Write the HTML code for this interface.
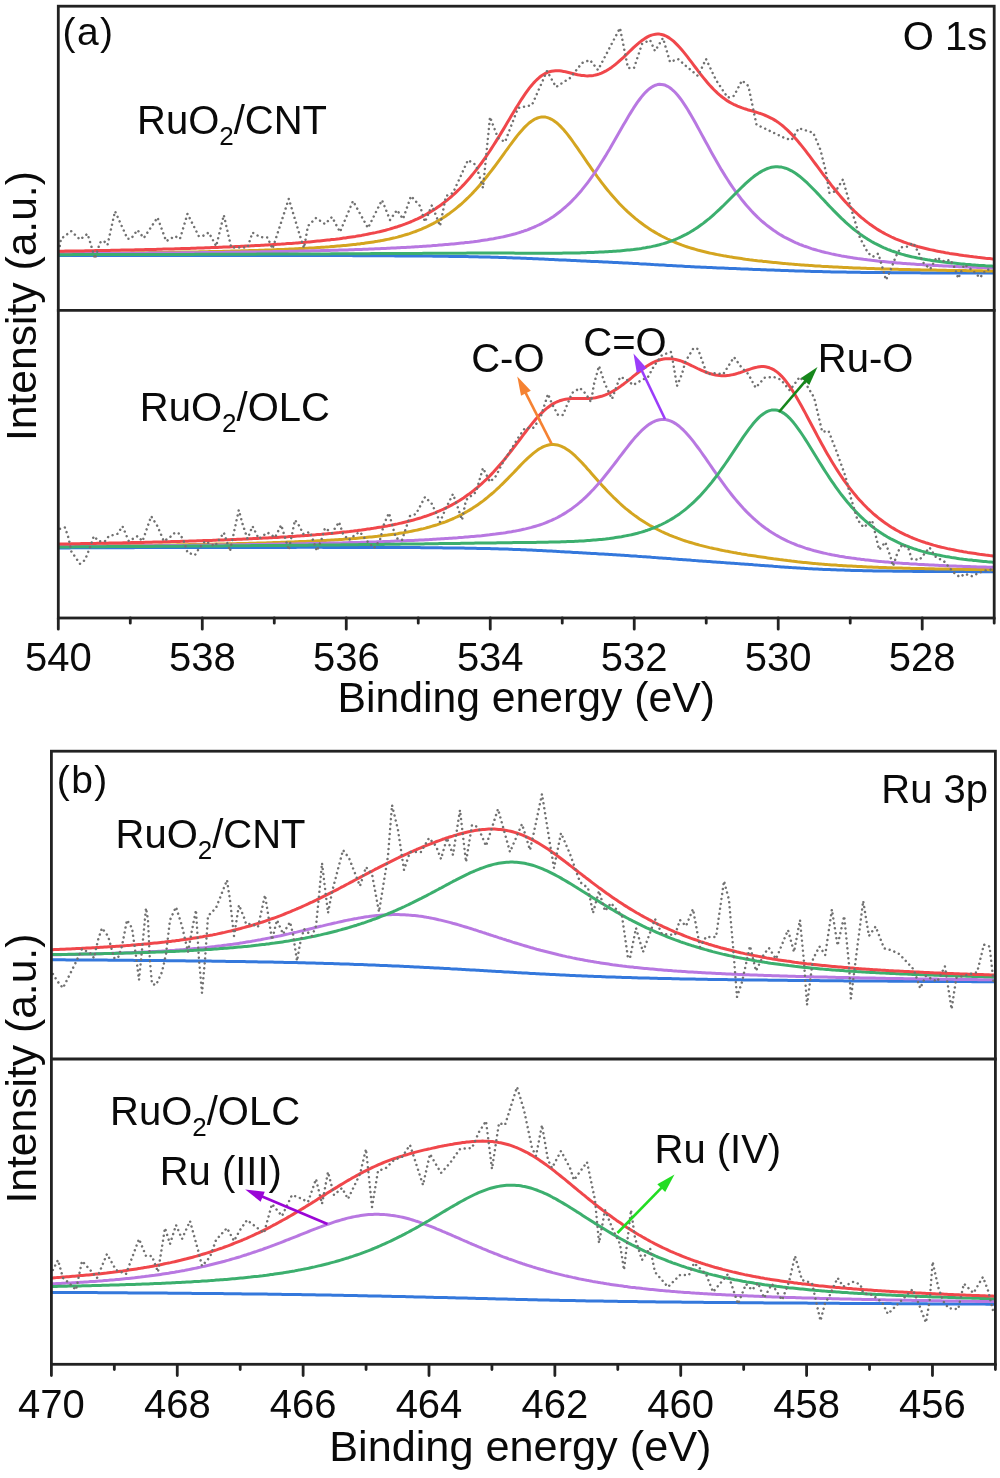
<!DOCTYPE html>
<html><head><meta charset="utf-8"><title>XPS O 1s and Ru 3p spectra</title>
<style>
html,body{margin:0;padding:0;background:#fff;}
body{width:1000px;height:1478px;overflow:hidden;}
svg{display:block;}
#fig{width:1000px;height:1478px;}
.ax{fill:none;stroke:#222;stroke-width:2.8;stroke-linecap:square;}
.tk{fill:none;stroke:#222;stroke-width:2.8;stroke-linecap:round;}
.cv path{fill:none;stroke-width:3.0;stroke-linejoin:round;stroke-linecap:round;}
.dots{fill:none;stroke:#717171;stroke-width:2.5;stroke-linecap:round;stroke-linejoin:round;stroke-dasharray:0.01 5;}
text{font-family:"Liberation Sans",Arial,Helvetica,sans-serif;fill:#0a0a0a;}
.t{font-size:40px;}
.pl{font-size:39px;letter-spacing:1.5px;}
.tl{font-size:40px;text-anchor:middle;}
.ti{}
.tiy{font-size:42.6px;}
</style></head><body><div id="fig">
<svg width="1000" height="1478" viewBox="0 0 1000 1478">
<defs><clipPath id="ca"><rect x="58.3" y="6.2" width="935.9" height="611.8"/></clipPath>
<clipPath id="cb"><rect x="51.4" y="751.2" width="944.0" height="613.1"/></clipPath></defs>
<rect x="0" y="0" width="1000" height="1478" fill="#fff"/>
<g clip-path="url(#ca)">
<g class="cv"><path d="M59.5 255.4 L61.5 255.4 L63.5 255.4 L65.5 255.4 L67.5 255.4 L69.5 255.4 L71.5 255.4 L73.5 255.4 L75.5 255.4 L77.5 255.4 L79.5 255.4 L81.5 255.4 L83.5 255.4 L85.5 255.4 L87.5 255.4 L89.5 255.4 L91.5 255.4 L93.5 255.4 L95.5 255.4 L97.5 255.4 L99.5 255.4 L101.5 255.4 L103.5 255.4 L105.5 255.4 L107.5 255.4 L109.5 255.4 L111.5 255.4 L113.5 255.4 L115.5 255.4 L117.5 255.4 L119.5 255.4 L121.5 255.4 L123.5 255.4 L125.5 255.4 L127.5 255.4 L129.5 255.4 L131.5 255.4 L133.5 255.4 L135.5 255.4 L137.5 255.4 L139.5 255.4 L141.5 255.4 L143.5 255.4 L145.5 255.4 L147.5 255.4 L149.5 255.4 L151.5 255.4 L153.5 255.4 L155.5 255.4 L157.5 255.4 L159.5 255.4 L161.5 255.4 L163.5 255.4 L165.5 255.4 L167.5 255.4 L169.5 255.4 L171.5 255.4 L173.5 255.4 L175.5 255.4 L177.5 255.4 L179.5 255.4 L181.5 255.4 L183.5 255.4 L185.5 255.4 L187.5 255.4 L189.5 255.4 L191.5 255.4 L193.5 255.4 L195.5 255.4 L197.5 255.4 L199.5 255.4 L201.5 255.4 L203.5 255.4 L205.5 255.4 L207.5 255.4 L209.5 255.4 L211.5 255.4 L213.5 255.4 L215.5 255.4 L217.5 255.4 L219.5 255.4 L221.5 255.4 L223.5 255.4 L225.5 255.4 L227.5 255.4 L229.5 255.4 L231.5 255.4 L233.5 255.4 L235.5 255.4 L237.5 255.4 L239.5 255.4 L241.5 255.4 L243.5 255.4 L245.5 255.4 L247.5 255.4 L249.5 255.4 L251.5 255.4 L253.5 255.4 L255.5 255.4 L257.5 255.4 L259.5 255.4 L261.5 255.4 L263.5 255.4 L265.5 255.4 L267.5 255.4 L269.5 255.5 L271.5 255.5 L273.5 255.5 L275.5 255.5 L277.5 255.5 L279.5 255.5 L281.5 255.5 L283.5 255.5 L285.5 255.5 L287.5 255.5 L289.5 255.5 L291.5 255.5 L293.5 255.5 L295.5 255.5 L297.5 255.5 L299.5 255.5 L301.5 255.5 L303.5 255.5 L305.5 255.5 L307.5 255.5 L309.5 255.5 L311.5 255.5 L313.5 255.5 L315.5 255.5 L317.5 255.5 L319.5 255.5 L321.5 255.6 L323.5 255.6 L325.5 255.6 L327.5 255.6 L329.5 255.6 L331.5 255.6 L333.5 255.6 L335.5 255.6 L337.5 255.6 L339.5 255.6 L341.5 255.6 L343.5 255.6 L345.5 255.6 L347.5 255.6 L349.5 255.6 L351.5 255.6 L353.5 255.7 L355.5 255.7 L357.5 255.7 L359.5 255.7 L361.5 255.7 L363.5 255.7 L365.5 255.7 L367.5 255.7 L369.5 255.7 L371.5 255.7 L373.5 255.7 L375.5 255.7 L377.5 255.8 L379.5 255.8 L381.5 255.8 L383.5 255.8 L385.5 255.8 L387.5 255.8 L389.5 255.8 L391.5 255.8 L393.5 255.8 L395.5 255.9 L397.5 255.9 L399.5 255.9 L401.5 255.9 L403.5 255.9 L405.5 255.9 L407.5 255.9 L409.5 255.9 L411.5 256.0 L413.5 256.0 L415.5 256.0 L417.5 256.0 L419.5 256.0 L421.5 256.0 L423.5 256.1 L425.5 256.1 L427.5 256.1 L429.5 256.1 L431.5 256.1 L433.5 256.2 L435.5 256.2 L437.5 256.2 L439.5 256.2 L441.5 256.2 L443.5 256.3 L445.5 256.3 L447.5 256.3 L449.5 256.4 L451.5 256.4 L453.5 256.4 L455.5 256.4 L457.5 256.5 L459.5 256.5 L461.5 256.5 L463.5 256.6 L465.5 256.6 L467.5 256.6 L469.5 256.7 L471.5 256.7 L473.5 256.8 L475.5 256.8 L477.5 256.8 L479.5 256.9 L481.5 256.9 L483.5 257.0 L485.5 257.0 L487.5 257.1 L489.5 257.1 L491.5 257.2 L493.5 257.2 L495.5 257.3 L497.5 257.3 L499.5 257.4 L501.5 257.5 L503.5 257.5 L505.5 257.6 L507.5 257.7 L509.5 257.7 L511.5 257.8 L513.5 257.9 L515.5 257.9 L517.5 258.0 L519.5 258.1 L521.5 258.2 L523.5 258.2 L525.5 258.3 L527.5 258.4 L529.5 258.5 L531.5 258.6 L533.5 258.7 L535.5 258.8 L537.5 258.8 L539.5 258.9 L541.5 259.0 L543.5 259.1 L545.5 259.2 L547.5 259.3 L549.5 259.4 L551.5 259.5 L553.5 259.6 L555.5 259.7 L557.5 259.8 L559.5 259.9 L561.5 260.0 L563.5 260.1 L565.5 260.1 L567.5 260.2 L569.5 260.3 L571.5 260.4 L573.5 260.5 L575.5 260.6 L577.5 260.7 L579.5 260.8 L581.5 260.9 L583.5 261.0 L585.5 261.1 L587.5 261.2 L589.5 261.3 L591.5 261.4 L593.5 261.4 L595.5 261.5 L597.5 261.6 L599.5 261.7 L601.5 261.8 L603.5 261.9 L605.5 262.0 L607.5 262.1 L609.5 262.2 L611.5 262.3 L613.5 262.4 L615.5 262.5 L617.5 262.6 L619.5 262.7 L621.5 262.8 L623.5 262.9 L625.5 263.0 L627.5 263.1 L629.5 263.2 L631.5 263.3 L633.5 263.4 L635.5 263.5 L637.5 263.6 L639.5 263.8 L641.5 263.9 L643.5 264.0 L645.5 264.1 L647.5 264.2 L649.5 264.3 L651.5 264.4 L653.5 264.6 L655.5 264.7 L657.5 264.8 L659.5 264.9 L661.5 265.0 L663.5 265.1 L665.5 265.2 L667.5 265.4 L669.5 265.5 L671.5 265.6 L673.5 265.7 L675.5 265.8 L677.5 265.9 L679.5 266.0 L681.5 266.1 L683.5 266.2 L685.5 266.4 L687.5 266.5 L689.5 266.6 L691.5 266.7 L693.5 266.8 L695.5 266.9 L697.5 267.0 L699.5 267.1 L701.5 267.2 L703.5 267.3 L705.5 267.3 L707.5 267.4 L709.5 267.5 L711.5 267.6 L713.5 267.7 L715.5 267.8 L717.5 267.9 L719.5 268.0 L721.5 268.1 L723.5 268.1 L725.5 268.2 L727.5 268.3 L729.5 268.4 L731.5 268.5 L733.5 268.6 L735.5 268.6 L737.5 268.7 L739.5 268.8 L741.5 268.9 L743.5 269.0 L745.5 269.0 L747.5 269.1 L749.5 269.2 L751.5 269.3 L753.5 269.4 L755.5 269.4 L757.5 269.5 L759.5 269.6 L761.5 269.7 L763.5 269.7 L765.5 269.8 L767.5 269.9 L769.5 270.0 L771.5 270.0 L773.5 270.1 L775.5 270.2 L777.5 270.3 L779.5 270.3 L781.5 270.4 L783.5 270.5 L785.5 270.6 L787.5 270.6 L789.5 270.7 L791.5 270.8 L793.5 270.8 L795.5 270.9 L797.5 271.0 L799.5 271.0 L801.5 271.1 L803.5 271.1 L805.5 271.2 L807.5 271.3 L809.5 271.3 L811.5 271.4 L813.5 271.4 L815.5 271.5 L817.5 271.5 L819.5 271.6 L821.5 271.6 L823.5 271.7 L825.5 271.7 L827.5 271.8 L829.5 271.8 L831.5 271.9 L833.5 271.9 L835.5 271.9 L837.5 272.0 L839.5 272.0 L841.5 272.1 L843.5 272.1 L845.5 272.1 L847.5 272.2 L849.5 272.2 L851.5 272.2 L853.5 272.2 L855.5 272.3 L857.5 272.3 L859.5 272.3 L861.5 272.4 L863.5 272.4 L865.5 272.4 L867.5 272.4 L869.5 272.5 L871.5 272.5 L873.5 272.5 L875.5 272.5 L877.5 272.5 L879.5 272.6 L881.5 272.6 L883.5 272.6 L885.5 272.6 L887.5 272.6 L889.5 272.6 L891.5 272.7 L893.5 272.7 L895.5 272.7 L897.5 272.7 L899.5 272.7 L901.5 272.7 L903.5 272.7 L905.5 272.8 L907.5 272.8 L909.5 272.8 L911.5 272.8 L913.5 272.8 L915.5 272.8 L917.5 272.8 L919.5 272.8 L921.5 272.9 L923.5 272.9 L925.5 272.9 L927.5 272.9 L929.5 272.9 L931.5 272.9 L933.5 272.9 L935.5 272.9 L937.5 272.9 L939.5 272.9 L941.5 272.9 L943.5 273.0 L945.5 273.0 L947.5 273.0 L949.5 273.0 L951.5 273.0 L953.5 273.0 L955.5 273.0 L957.5 273.0 L959.5 273.0 L961.5 273.0 L963.5 273.0 L965.5 273.0 L967.5 273.0 L969.5 273.0 L971.5 273.1 L973.5 273.1 L975.5 273.1 L977.5 273.1 L979.5 273.1 L981.5 273.1 L983.5 273.1 L985.5 273.1 L987.5 273.1 L989.5 273.1 L991.5 273.1 L993.0 273.1" stroke="#3478dc"/>
<path d="M59.5 253.5 L61.5 253.5 L63.5 253.5 L65.5 253.5 L67.5 253.5 L69.5 253.5 L71.5 253.4 L73.5 253.4 L75.5 253.4 L77.5 253.4 L79.5 253.4 L81.5 253.4 L83.5 253.3 L85.5 253.3 L87.5 253.3 L89.5 253.3 L91.5 253.3 L93.5 253.2 L95.5 253.2 L97.5 253.2 L99.5 253.2 L101.5 253.2 L103.5 253.2 L105.5 253.1 L107.5 253.1 L109.5 253.1 L111.5 253.1 L113.5 253.0 L115.5 253.0 L117.5 253.0 L119.5 253.0 L121.5 253.0 L123.5 252.9 L125.5 252.9 L127.5 252.9 L129.5 252.9 L131.5 252.8 L133.5 252.8 L135.5 252.8 L137.5 252.8 L139.5 252.8 L141.5 252.7 L143.5 252.7 L145.5 252.7 L147.5 252.7 L149.5 252.6 L151.5 252.6 L153.5 252.6 L155.5 252.5 L157.5 252.5 L159.5 252.5 L161.5 252.5 L163.5 252.4 L165.5 252.4 L167.5 252.4 L169.5 252.3 L171.5 252.3 L173.5 252.3 L175.5 252.2 L177.5 252.2 L179.5 252.2 L181.5 252.1 L183.5 252.1 L185.5 252.1 L187.5 252.0 L189.5 252.0 L191.5 252.0 L193.5 251.9 L195.5 251.9 L197.5 251.9 L199.5 251.8 L201.5 251.8 L203.5 251.7 L205.5 251.7 L207.5 251.7 L209.5 251.6 L211.5 251.6 L213.5 251.5 L215.5 251.5 L217.5 251.4 L219.5 251.4 L221.5 251.4 L223.5 251.3 L225.5 251.3 L227.5 251.2 L229.5 251.2 L231.5 251.1 L233.5 251.1 L235.5 251.0 L237.5 251.0 L239.5 250.9 L241.5 250.8 L243.5 250.8 L245.5 250.7 L247.5 250.7 L249.5 250.6 L251.5 250.5 L253.5 250.5 L255.5 250.4 L257.5 250.4 L259.5 250.3 L261.5 250.2 L263.5 250.2 L265.5 250.1 L267.5 250.0 L269.5 249.9 L271.5 249.9 L273.5 249.8 L275.5 249.7 L277.5 249.6 L279.5 249.6 L281.5 249.5 L283.5 249.4 L285.5 249.3 L287.5 249.2 L289.5 249.1 L291.5 249.0 L293.5 248.9 L295.5 248.8 L297.5 248.7 L299.5 248.6 L301.5 248.5 L303.5 248.4 L305.5 248.3 L307.5 248.2 L309.5 248.1 L311.5 248.0 L313.5 247.9 L315.5 247.7 L317.5 247.6 L319.5 247.5 L321.5 247.3 L323.5 247.2 L325.5 247.1 L327.5 246.9 L329.5 246.8 L331.5 246.6 L333.5 246.5 L335.5 246.3 L337.5 246.1 L339.5 246.0 L341.5 245.8 L343.5 245.6 L345.5 245.4 L347.5 245.2 L349.5 245.0 L351.5 244.8 L353.5 244.6 L355.5 244.4 L357.5 244.1 L359.5 243.9 L361.5 243.6 L363.5 243.4 L365.5 243.1 L367.5 242.8 L369.5 242.5 L371.5 242.2 L373.5 241.9 L375.5 241.6 L377.5 241.3 L379.5 240.9 L381.5 240.6 L383.5 240.2 L385.5 239.8 L387.5 239.4 L389.5 239.0 L391.5 238.5 L393.5 238.0 L395.5 237.6 L397.5 237.1 L399.5 236.5 L401.5 236.0 L403.5 235.4 L405.5 234.8 L407.5 234.2 L409.5 233.6 L411.5 232.9 L413.5 232.2 L415.5 231.5 L417.5 230.7 L419.5 229.9 L421.5 229.1 L423.5 228.2 L425.5 227.3 L427.5 226.4 L429.5 225.4 L431.5 224.4 L433.5 223.4 L435.5 222.3 L437.5 221.1 L439.5 220.0 L441.5 218.7 L443.5 217.5 L445.5 216.2 L447.5 214.8 L449.5 213.4 L451.5 211.9 L453.5 210.4 L455.5 208.8 L457.5 207.2 L459.5 205.5 L461.5 203.8 L463.5 202.0 L465.5 200.1 L467.5 198.2 L469.5 196.2 L471.5 194.2 L473.5 192.1 L475.5 189.9 L477.5 187.7 L479.5 185.4 L481.5 183.1 L483.5 180.7 L485.5 178.3 L487.5 175.8 L489.5 173.2 L491.5 170.6 L493.5 168.0 L495.5 165.3 L497.5 162.6 L499.5 159.9 L501.5 157.1 L503.5 154.3 L505.5 151.5 L507.5 148.8 L509.5 146.0 L511.5 143.3 L513.5 140.6 L515.5 138.0 L517.5 135.4 L519.5 133.0 L521.5 130.7 L523.5 128.4 L525.5 126.4 L527.5 124.5 L529.5 122.7 L531.5 121.2 L533.5 119.9 L535.5 118.8 L537.5 118.0 L539.5 117.4 L541.5 117.0 L543.5 117.0 L545.5 117.1 L547.5 117.6 L549.5 118.3 L551.5 119.3 L553.5 120.5 L555.5 121.9 L557.5 123.5 L559.5 125.4 L561.5 127.4 L563.5 129.6 L565.5 131.9 L567.5 134.4 L569.5 137.0 L571.5 139.7 L573.5 142.5 L575.5 145.3 L577.5 148.2 L579.5 151.1 L581.5 154.0 L583.5 156.9 L585.5 159.9 L587.5 162.8 L589.5 165.7 L591.5 168.6 L593.5 171.4 L595.5 174.2 L597.5 177.0 L599.5 179.7 L601.5 182.3 L603.5 184.9 L605.5 187.5 L607.5 190.0 L609.5 192.4 L611.5 194.8 L613.5 197.1 L615.5 199.3 L617.5 201.5 L619.5 203.7 L621.5 205.7 L623.5 207.7 L625.5 209.7 L627.5 211.6 L629.5 213.4 L631.5 215.2 L633.5 216.9 L635.5 218.6 L637.5 220.2 L639.5 221.8 L641.5 223.3 L643.5 224.8 L645.5 226.2 L647.5 227.6 L649.5 228.9 L651.5 230.2 L653.5 231.4 L655.5 232.6 L657.5 233.8 L659.5 234.9 L661.5 236.0 L663.5 237.0 L665.5 238.0 L667.5 239.0 L669.5 239.9 L671.5 240.8 L673.5 241.7 L675.5 242.5 L677.5 243.3 L679.5 244.1 L681.5 244.9 L683.5 245.6 L685.5 246.3 L687.5 247.0 L689.5 247.6 L691.5 248.2 L693.5 248.8 L695.5 249.4 L697.5 250.0 L699.5 250.5 L701.5 251.0 L703.5 251.5 L705.5 252.0 L707.5 252.5 L709.5 253.0 L711.5 253.4 L713.5 253.8 L715.5 254.2 L717.5 254.6 L719.5 255.0 L721.5 255.4 L723.5 255.8 L725.5 256.1 L727.5 256.4 L729.5 256.8 L731.5 257.1 L733.5 257.4 L735.5 257.7 L737.5 258.0 L739.5 258.3 L741.5 258.6 L743.5 258.9 L745.5 259.2 L747.5 259.4 L749.5 259.7 L751.5 259.9 L753.5 260.2 L755.5 260.4 L757.5 260.7 L759.5 260.9 L761.5 261.1 L763.5 261.4 L765.5 261.6 L767.5 261.8 L769.5 262.0 L771.5 262.2 L773.5 262.4 L775.5 262.6 L777.5 262.8 L779.5 263.0 L781.5 263.2 L783.5 263.4 L785.5 263.6 L787.5 263.7 L789.5 263.9 L791.5 264.1 L793.5 264.2 L795.5 264.4 L797.5 264.6 L799.5 264.7 L801.5 264.9 L803.5 265.0 L805.5 265.2 L807.5 265.3 L809.5 265.5 L811.5 265.6 L813.5 265.7 L815.5 265.9 L817.5 266.0 L819.5 266.1 L821.5 266.3 L823.5 266.4 L825.5 266.5 L827.5 266.6 L829.5 266.7 L831.5 266.8 L833.5 266.9 L835.5 267.0 L837.5 267.1 L839.5 267.2 L841.5 267.3 L843.5 267.4 L845.5 267.5 L847.5 267.6 L849.5 267.7 L851.5 267.8 L853.5 267.9 L855.5 268.0 L857.5 268.0 L859.5 268.1 L861.5 268.2 L863.5 268.3 L865.5 268.3 L867.5 268.4 L869.5 268.5 L871.5 268.6 L873.5 268.6 L875.5 268.7 L877.5 268.8 L879.5 268.8 L881.5 268.9 L883.5 268.9 L885.5 269.0 L887.5 269.1 L889.5 269.1 L891.5 269.2 L893.5 269.2 L895.5 269.3 L897.5 269.3 L899.5 269.4 L901.5 269.4 L903.5 269.5 L905.5 269.5 L907.5 269.6 L909.5 269.6 L911.5 269.7 L913.5 269.7 L915.5 269.8 L917.5 269.8 L919.5 269.8 L921.5 269.9 L923.5 269.9 L925.5 270.0 L927.5 270.0 L929.5 270.0 L931.5 270.1 L933.5 270.1 L935.5 270.1 L937.5 270.2 L939.5 270.2 L941.5 270.3 L943.5 270.3 L945.5 270.3 L947.5 270.4 L949.5 270.4 L951.5 270.4 L953.5 270.5 L955.5 270.5 L957.5 270.5 L959.5 270.5 L961.5 270.6 L963.5 270.6 L965.5 270.6 L967.5 270.7 L969.5 270.7 L971.5 270.7 L973.5 270.7 L975.5 270.8 L977.5 270.8 L979.5 270.8 L981.5 270.8 L983.5 270.9 L985.5 270.9 L987.5 270.9 L989.5 270.9 L991.5 271.0 L993.0 271.0" stroke="#d4a520"/>
<path d="M59.5 253.7 L61.5 253.7 L63.5 253.7 L65.5 253.7 L67.5 253.7 L69.5 253.7 L71.5 253.7 L73.5 253.7 L75.5 253.6 L77.5 253.6 L79.5 253.6 L81.5 253.6 L83.5 253.6 L85.5 253.6 L87.5 253.6 L89.5 253.6 L91.5 253.5 L93.5 253.5 L95.5 253.5 L97.5 253.5 L99.5 253.5 L101.5 253.5 L103.5 253.5 L105.5 253.5 L107.5 253.4 L109.5 253.4 L111.5 253.4 L113.5 253.4 L115.5 253.4 L117.5 253.4 L119.5 253.4 L121.5 253.3 L123.5 253.3 L125.5 253.3 L127.5 253.3 L129.5 253.3 L131.5 253.3 L133.5 253.3 L135.5 253.2 L137.5 253.2 L139.5 253.2 L141.5 253.2 L143.5 253.2 L145.5 253.2 L147.5 253.1 L149.5 253.1 L151.5 253.1 L153.5 253.1 L155.5 253.1 L157.5 253.1 L159.5 253.0 L161.5 253.0 L163.5 253.0 L165.5 253.0 L167.5 253.0 L169.5 253.0 L171.5 252.9 L173.5 252.9 L175.5 252.9 L177.5 252.9 L179.5 252.9 L181.5 252.8 L183.5 252.8 L185.5 252.8 L187.5 252.8 L189.5 252.8 L191.5 252.7 L193.5 252.7 L195.5 252.7 L197.5 252.7 L199.5 252.7 L201.5 252.6 L203.5 252.6 L205.5 252.6 L207.5 252.6 L209.5 252.5 L211.5 252.5 L213.5 252.5 L215.5 252.5 L217.5 252.4 L219.5 252.4 L221.5 252.4 L223.5 252.4 L225.5 252.3 L227.5 252.3 L229.5 252.3 L231.5 252.3 L233.5 252.2 L235.5 252.2 L237.5 252.2 L239.5 252.2 L241.5 252.1 L243.5 252.1 L245.5 252.1 L247.5 252.0 L249.5 252.0 L251.5 252.0 L253.5 252.0 L255.5 251.9 L257.5 251.9 L259.5 251.9 L261.5 251.8 L263.5 251.8 L265.5 251.8 L267.5 251.7 L269.5 251.7 L271.5 251.7 L273.5 251.6 L275.5 251.6 L277.5 251.5 L279.5 251.5 L281.5 251.5 L283.5 251.4 L285.5 251.4 L287.5 251.4 L289.5 251.3 L291.5 251.3 L293.5 251.2 L295.5 251.2 L297.5 251.2 L299.5 251.1 L301.5 251.1 L303.5 251.0 L305.5 251.0 L307.5 250.9 L309.5 250.9 L311.5 250.8 L313.5 250.8 L315.5 250.7 L317.5 250.7 L319.5 250.7 L321.5 250.6 L323.5 250.5 L325.5 250.5 L327.5 250.4 L329.5 250.4 L331.5 250.3 L333.5 250.3 L335.5 250.2 L337.5 250.2 L339.5 250.1 L341.5 250.0 L343.5 250.0 L345.5 249.9 L347.5 249.9 L349.5 249.8 L351.5 249.7 L353.5 249.7 L355.5 249.6 L357.5 249.5 L359.5 249.5 L361.5 249.4 L363.5 249.3 L365.5 249.2 L367.5 249.2 L369.5 249.1 L371.5 249.0 L373.5 248.9 L375.5 248.8 L377.5 248.8 L379.5 248.7 L381.5 248.6 L383.5 248.5 L385.5 248.4 L387.5 248.3 L389.5 248.2 L391.5 248.1 L393.5 248.0 L395.5 247.9 L397.5 247.8 L399.5 247.7 L401.5 247.6 L403.5 247.5 L405.5 247.4 L407.5 247.3 L409.5 247.2 L411.5 247.1 L413.5 246.9 L415.5 246.8 L417.5 246.7 L419.5 246.6 L421.5 246.4 L423.5 246.3 L425.5 246.2 L427.5 246.0 L429.5 245.9 L431.5 245.8 L433.5 245.6 L435.5 245.4 L437.5 245.3 L439.5 245.1 L441.5 245.0 L443.5 244.8 L445.5 244.6 L447.5 244.5 L449.5 244.3 L451.5 244.1 L453.5 243.9 L455.5 243.7 L457.5 243.5 L459.5 243.3 L461.5 243.1 L463.5 242.9 L465.5 242.6 L467.5 242.4 L469.5 242.2 L471.5 241.9 L473.5 241.7 L475.5 241.4 L477.5 241.2 L479.5 240.9 L481.5 240.6 L483.5 240.3 L485.5 240.0 L487.5 239.7 L489.5 239.3 L491.5 239.0 L493.5 238.7 L495.5 238.3 L497.5 237.9 L499.5 237.5 L501.5 237.1 L503.5 236.7 L505.5 236.2 L507.5 235.7 L509.5 235.3 L511.5 234.8 L513.5 234.2 L515.5 233.7 L517.5 233.1 L519.5 232.5 L521.5 231.8 L523.5 231.2 L525.5 230.5 L527.5 229.8 L529.5 229.0 L531.5 228.2 L533.5 227.3 L535.5 226.5 L537.5 225.5 L539.5 224.6 L541.5 223.6 L543.5 222.5 L545.5 221.4 L547.5 220.2 L549.5 219.0 L551.5 217.7 L553.5 216.4 L555.5 215.0 L557.5 213.5 L559.5 212.0 L561.5 210.4 L563.5 208.7 L565.5 207.0 L567.5 205.2 L569.5 203.3 L571.5 201.4 L573.5 199.3 L575.5 197.2 L577.5 195.0 L579.5 192.7 L581.5 190.4 L583.5 187.9 L585.5 185.4 L587.5 182.8 L589.5 180.1 L591.5 177.3 L593.5 174.5 L595.5 171.6 L597.5 168.6 L599.5 165.5 L601.5 162.3 L603.5 159.1 L605.5 155.9 L607.5 152.5 L609.5 149.2 L611.5 145.7 L613.5 142.3 L615.5 138.8 L617.5 135.3 L619.5 131.8 L621.5 128.3 L623.5 124.8 L625.5 121.4 L627.5 118.0 L629.5 114.6 L631.5 111.4 L633.5 108.2 L635.5 105.2 L637.5 102.2 L639.5 99.5 L641.5 96.9 L643.5 94.5 L645.5 92.3 L647.5 90.4 L649.5 88.7 L651.5 87.3 L653.5 86.1 L655.5 85.2 L657.5 84.6 L659.5 84.3 L661.5 84.4 L663.5 84.7 L665.5 85.3 L667.5 86.3 L669.5 87.5 L671.5 89.0 L673.5 90.8 L675.5 92.8 L677.5 95.0 L679.5 97.5 L681.5 100.2 L683.5 103.1 L685.5 106.1 L687.5 109.3 L689.5 112.6 L691.5 116.0 L693.5 119.5 L695.5 123.1 L697.5 126.7 L699.5 130.4 L701.5 134.1 L703.5 137.8 L705.5 141.5 L707.5 145.1 L709.5 148.8 L711.5 152.4 L713.5 156.0 L715.5 159.6 L717.5 163.1 L719.5 166.5 L721.5 169.9 L723.5 173.1 L725.5 176.4 L727.5 179.5 L729.5 182.6 L731.5 185.6 L733.5 188.5 L735.5 191.3 L737.5 194.1 L739.5 196.7 L741.5 199.3 L743.5 201.8 L745.5 204.2 L747.5 206.6 L749.5 208.8 L751.5 211.0 L753.5 213.1 L755.5 215.1 L757.5 217.1 L759.5 219.0 L761.5 220.8 L763.5 222.5 L765.5 224.2 L767.5 225.8 L769.5 227.3 L771.5 228.8 L773.5 230.3 L775.5 231.6 L777.5 232.9 L779.5 234.2 L781.5 235.4 L783.5 236.6 L785.5 237.7 L787.5 238.7 L789.5 239.7 L791.5 240.7 L793.5 241.7 L795.5 242.6 L797.5 243.4 L799.5 244.3 L801.5 245.0 L803.5 245.8 L805.5 246.5 L807.5 247.2 L809.5 247.9 L811.5 248.6 L813.5 249.2 L815.5 249.8 L817.5 250.4 L819.5 250.9 L821.5 251.5 L823.5 252.0 L825.5 252.5 L827.5 252.9 L829.5 253.4 L831.5 253.9 L833.5 254.3 L835.5 254.7 L837.5 255.1 L839.5 255.5 L841.5 255.9 L843.5 256.2 L845.5 256.6 L847.5 256.9 L849.5 257.2 L851.5 257.6 L853.5 257.9 L855.5 258.2 L857.5 258.5 L859.5 258.7 L861.5 259.0 L863.5 259.3 L865.5 259.5 L867.5 259.8 L869.5 260.0 L871.5 260.3 L873.5 260.5 L875.5 260.7 L877.5 261.0 L879.5 261.2 L881.5 261.4 L883.5 261.6 L885.5 261.8 L887.5 262.0 L889.5 262.2 L891.5 262.3 L893.5 262.5 L895.5 262.7 L897.5 262.9 L899.5 263.0 L901.5 263.2 L903.5 263.4 L905.5 263.5 L907.5 263.7 L909.5 263.8 L911.5 264.0 L913.5 264.1 L915.5 264.2 L917.5 264.4 L919.5 264.5 L921.5 264.6 L923.5 264.8 L925.5 264.9 L927.5 265.0 L929.5 265.1 L931.5 265.2 L933.5 265.4 L935.5 265.5 L937.5 265.6 L939.5 265.7 L941.5 265.8 L943.5 265.9 L945.5 266.0 L947.5 266.1 L949.5 266.2 L951.5 266.3 L953.5 266.4 L955.5 266.5 L957.5 266.6 L959.5 266.7 L961.5 266.8 L963.5 266.8 L965.5 266.9 L967.5 267.0 L969.5 267.1 L971.5 267.2 L973.5 267.2 L975.5 267.3 L977.5 267.4 L979.5 267.5 L981.5 267.5 L983.5 267.6 L985.5 267.7 L987.5 267.7 L989.5 267.8 L991.5 267.9 L993.0 267.9" stroke="#b878e1"/>
<path d="M59.5 254.7 L61.5 254.7 L63.5 254.7 L65.5 254.7 L67.5 254.7 L69.5 254.7 L71.5 254.7 L73.5 254.6 L75.5 254.6 L77.5 254.6 L79.5 254.6 L81.5 254.6 L83.5 254.6 L85.5 254.6 L87.5 254.6 L89.5 254.6 L91.5 254.6 L93.5 254.6 L95.5 254.6 L97.5 254.6 L99.5 254.6 L101.5 254.6 L103.5 254.6 L105.5 254.6 L107.5 254.6 L109.5 254.6 L111.5 254.6 L113.5 254.6 L115.5 254.6 L117.5 254.5 L119.5 254.5 L121.5 254.5 L123.5 254.5 L125.5 254.5 L127.5 254.5 L129.5 254.5 L131.5 254.5 L133.5 254.5 L135.5 254.5 L137.5 254.5 L139.5 254.5 L141.5 254.5 L143.5 254.5 L145.5 254.5 L147.5 254.5 L149.5 254.5 L151.5 254.5 L153.5 254.5 L155.5 254.5 L157.5 254.5 L159.5 254.4 L161.5 254.4 L163.5 254.4 L165.5 254.4 L167.5 254.4 L169.5 254.4 L171.5 254.4 L173.5 254.4 L175.5 254.4 L177.5 254.4 L179.5 254.4 L181.5 254.4 L183.5 254.4 L185.5 254.4 L187.5 254.4 L189.5 254.4 L191.5 254.4 L193.5 254.4 L195.5 254.3 L197.5 254.3 L199.5 254.3 L201.5 254.3 L203.5 254.3 L205.5 254.3 L207.5 254.3 L209.5 254.3 L211.5 254.3 L213.5 254.3 L215.5 254.3 L217.5 254.3 L219.5 254.3 L221.5 254.3 L223.5 254.3 L225.5 254.3 L227.5 254.3 L229.5 254.2 L231.5 254.2 L233.5 254.2 L235.5 254.2 L237.5 254.2 L239.5 254.2 L241.5 254.2 L243.5 254.2 L245.5 254.2 L247.5 254.2 L249.5 254.2 L251.5 254.2 L253.5 254.2 L255.5 254.2 L257.5 254.1 L259.5 254.1 L261.5 254.1 L263.5 254.1 L265.5 254.1 L267.5 254.1 L269.5 254.1 L271.5 254.1 L273.5 254.1 L275.5 254.1 L277.5 254.1 L279.5 254.1 L281.5 254.1 L283.5 254.1 L285.5 254.0 L287.5 254.0 L289.5 254.0 L291.5 254.0 L293.5 254.0 L295.5 254.0 L297.5 254.0 L299.5 254.0 L301.5 254.0 L303.5 254.0 L305.5 254.0 L307.5 254.0 L309.5 253.9 L311.5 253.9 L313.5 253.9 L315.5 253.9 L317.5 253.9 L319.5 253.9 L321.5 253.9 L323.5 253.9 L325.5 253.9 L327.5 253.9 L329.5 253.9 L331.5 253.8 L333.5 253.8 L335.5 253.8 L337.5 253.8 L339.5 253.8 L341.5 253.8 L343.5 253.8 L345.5 253.8 L347.5 253.8 L349.5 253.8 L351.5 253.7 L353.5 253.7 L355.5 253.7 L357.5 253.7 L359.5 253.7 L361.5 253.7 L363.5 253.7 L365.5 253.7 L367.5 253.7 L369.5 253.7 L371.5 253.6 L373.5 253.6 L375.5 253.6 L377.5 253.6 L379.5 253.6 L381.5 253.6 L383.5 253.6 L385.5 253.6 L387.5 253.6 L389.5 253.5 L391.5 253.5 L393.5 253.5 L395.5 253.5 L397.5 253.5 L399.5 253.5 L401.5 253.5 L403.5 253.5 L405.5 253.4 L407.5 253.4 L409.5 253.4 L411.5 253.4 L413.5 253.4 L415.5 253.4 L417.5 253.4 L419.5 253.4 L421.5 253.4 L423.5 253.3 L425.5 253.3 L427.5 253.3 L429.5 253.3 L431.5 253.3 L433.5 253.3 L435.5 253.3 L437.5 253.3 L439.5 253.3 L441.5 253.3 L443.5 253.2 L445.5 253.2 L447.5 253.2 L449.5 253.2 L451.5 253.2 L453.5 253.2 L455.5 253.2 L457.5 253.2 L459.5 253.2 L461.5 253.2 L463.5 253.2 L465.5 253.2 L467.5 253.1 L469.5 253.1 L471.5 253.1 L473.5 253.1 L475.5 253.1 L477.5 253.1 L479.5 253.1 L481.5 253.1 L483.5 253.1 L485.5 253.1 L487.5 253.1 L489.5 253.1 L491.5 253.1 L493.5 253.1 L495.5 253.1 L497.5 253.1 L499.5 253.1 L501.5 253.1 L503.5 253.1 L505.5 253.1 L507.5 253.1 L509.5 253.1 L511.5 253.1 L513.5 253.1 L515.5 253.2 L517.5 253.2 L519.5 253.2 L521.5 253.2 L523.5 253.2 L525.5 253.2 L527.5 253.2 L529.5 253.2 L531.5 253.2 L533.5 253.2 L535.5 253.2 L537.5 253.2 L539.5 253.2 L541.5 253.2 L543.5 253.2 L545.5 253.2 L547.5 253.2 L549.5 253.2 L551.5 253.2 L553.5 253.2 L555.5 253.2 L557.5 253.2 L559.5 253.2 L561.5 253.2 L563.5 253.1 L565.5 253.1 L567.5 253.1 L569.5 253.1 L571.5 253.0 L573.5 253.0 L575.5 253.0 L577.5 252.9 L579.5 252.9 L581.5 252.8 L583.5 252.8 L585.5 252.7 L587.5 252.6 L589.5 252.6 L591.5 252.5 L593.5 252.4 L595.5 252.3 L597.5 252.2 L599.5 252.1 L601.5 252.1 L603.5 251.9 L605.5 251.8 L607.5 251.7 L609.5 251.6 L611.5 251.5 L613.5 251.3 L615.5 251.2 L617.5 251.0 L619.5 250.9 L621.5 250.7 L623.5 250.5 L625.5 250.3 L627.5 250.1 L629.5 249.9 L631.5 249.7 L633.5 249.5 L635.5 249.2 L637.5 248.9 L639.5 248.7 L641.5 248.4 L643.5 248.0 L645.5 247.7 L647.5 247.3 L649.5 247.0 L651.5 246.6 L653.5 246.1 L655.5 245.7 L657.5 245.2 L659.5 244.7 L661.5 244.1 L663.5 243.6 L665.5 243.0 L667.5 242.3 L669.5 241.6 L671.5 240.9 L673.5 240.2 L675.5 239.4 L677.5 238.5 L679.5 237.6 L681.5 236.7 L683.5 235.7 L685.5 234.7 L687.5 233.6 L689.5 232.5 L691.5 231.3 L693.5 230.1 L695.5 228.8 L697.5 227.4 L699.5 226.0 L701.5 224.6 L703.5 223.1 L705.5 221.5 L707.5 219.9 L709.5 218.3 L711.5 216.6 L713.5 214.8 L715.5 213.0 L717.5 211.2 L719.5 209.3 L721.5 207.4 L723.5 205.5 L725.5 203.5 L727.5 201.5 L729.5 199.5 L731.5 197.5 L733.5 195.5 L735.5 193.5 L737.5 191.5 L739.5 189.5 L741.5 187.5 L743.5 185.6 L745.5 183.7 L747.5 181.9 L749.5 180.1 L751.5 178.4 L753.5 176.8 L755.5 175.3 L757.5 173.9 L759.5 172.6 L761.5 171.4 L763.5 170.3 L765.5 169.3 L767.5 168.5 L769.5 167.9 L771.5 167.3 L773.5 167.0 L775.5 166.8 L777.5 166.7 L779.5 166.9 L781.5 167.1 L783.5 167.6 L785.5 168.2 L787.5 168.9 L789.5 169.8 L791.5 170.8 L793.5 172.0 L795.5 173.3 L797.5 174.7 L799.5 176.2 L801.5 177.9 L803.5 179.6 L805.5 181.4 L807.5 183.2 L809.5 185.2 L811.5 187.2 L813.5 189.2 L815.5 191.3 L817.5 193.4 L819.5 195.5 L821.5 197.7 L823.5 199.8 L825.5 201.9 L827.5 204.1 L829.5 206.2 L831.5 208.3 L833.5 210.4 L835.5 212.4 L837.5 214.4 L839.5 216.4 L841.5 218.4 L843.5 220.2 L845.5 222.1 L847.5 223.9 L849.5 225.6 L851.5 227.3 L853.5 229.0 L855.5 230.6 L857.5 232.1 L859.5 233.6 L861.5 235.1 L863.5 236.4 L865.5 237.8 L867.5 239.1 L869.5 240.3 L871.5 241.5 L873.5 242.6 L875.5 243.7 L877.5 244.7 L879.5 245.7 L881.5 246.7 L883.5 247.6 L885.5 248.4 L887.5 249.3 L889.5 250.0 L891.5 250.8 L893.5 251.5 L895.5 252.2 L897.5 252.9 L899.5 253.5 L901.5 254.1 L903.5 254.6 L905.5 255.2 L907.5 255.7 L909.5 256.2 L911.5 256.7 L913.5 257.1 L915.5 257.5 L917.5 258.0 L919.5 258.3 L921.5 258.7 L923.5 259.1 L925.5 259.4 L927.5 259.8 L929.5 260.1 L931.5 260.4 L933.5 260.7 L935.5 261.0 L937.5 261.3 L939.5 261.5 L941.5 261.8 L943.5 262.0 L945.5 262.3 L947.5 262.5 L949.5 262.7 L951.5 262.9 L953.5 263.1 L955.5 263.3 L957.5 263.5 L959.5 263.7 L961.5 263.9 L963.5 264.1 L965.5 264.3 L967.5 264.4 L969.5 264.6 L971.5 264.8 L973.5 264.9 L975.5 265.1 L977.5 265.2 L979.5 265.4 L981.5 265.5 L983.5 265.6 L985.5 265.8 L987.5 265.9 L989.5 266.0 L991.5 266.1 L993.0 266.2" stroke="#3caf6e"/>
<path d="M59.5 251.2 L61.5 251.2 L63.5 251.2 L65.5 251.1 L67.5 251.1 L69.5 251.1 L71.5 251.0 L73.5 251.0 L75.5 251.0 L77.5 250.9 L79.5 250.9 L81.5 250.9 L83.5 250.9 L85.5 250.8 L87.5 250.8 L89.5 250.7 L91.5 250.7 L93.5 250.7 L95.5 250.6 L97.5 250.6 L99.5 250.6 L101.5 250.5 L103.5 250.5 L105.5 250.5 L107.5 250.4 L109.5 250.4 L111.5 250.3 L113.5 250.3 L115.5 250.3 L117.5 250.2 L119.5 250.2 L121.5 250.1 L123.5 250.1 L125.5 250.1 L127.5 250.0 L129.5 250.0 L131.5 249.9 L133.5 249.9 L135.5 249.8 L137.5 249.8 L139.5 249.7 L141.5 249.7 L143.5 249.7 L145.5 249.6 L147.5 249.6 L149.5 249.5 L151.5 249.5 L153.5 249.4 L155.5 249.4 L157.5 249.3 L159.5 249.3 L161.5 249.2 L163.5 249.1 L165.5 249.1 L167.5 249.0 L169.5 249.0 L171.5 248.9 L173.5 248.9 L175.5 248.8 L177.5 248.8 L179.5 248.7 L181.5 248.6 L183.5 248.6 L185.5 248.5 L187.5 248.4 L189.5 248.4 L191.5 248.3 L193.5 248.3 L195.5 248.2 L197.5 248.1 L199.5 248.0 L201.5 248.0 L203.5 247.9 L205.5 247.8 L207.5 247.8 L209.5 247.7 L211.5 247.6 L213.5 247.5 L215.5 247.5 L217.5 247.4 L219.5 247.3 L221.5 247.2 L223.5 247.1 L225.5 247.1 L227.5 247.0 L229.5 246.9 L231.5 246.8 L233.5 246.7 L235.5 246.6 L237.5 246.5 L239.5 246.4 L241.5 246.3 L243.5 246.2 L245.5 246.1 L247.5 246.0 L249.5 245.9 L251.5 245.8 L253.5 245.7 L255.5 245.6 L257.5 245.5 L259.5 245.4 L261.5 245.3 L263.5 245.2 L265.5 245.1 L267.5 245.0 L269.5 244.8 L271.5 244.7 L273.5 244.6 L275.5 244.5 L277.5 244.3 L279.5 244.2 L281.5 244.1 L283.5 243.9 L285.5 243.8 L287.5 243.6 L289.5 243.5 L291.5 243.4 L293.5 243.2 L295.5 243.1 L297.5 242.9 L299.5 242.7 L301.5 242.6 L303.5 242.4 L305.5 242.2 L307.5 242.1 L309.5 241.9 L311.5 241.7 L313.5 241.5 L315.5 241.3 L317.5 241.1 L319.5 240.9 L321.5 240.7 L323.5 240.5 L325.5 240.3 L327.5 240.1 L329.5 239.9 L331.5 239.6 L333.5 239.4 L335.5 239.2 L337.5 238.9 L339.5 238.7 L341.5 238.4 L343.5 238.1 L345.5 237.9 L347.5 237.6 L349.5 237.3 L351.5 237.0 L353.5 236.7 L355.5 236.4 L357.5 236.0 L359.5 235.7 L361.5 235.4 L363.5 235.0 L365.5 234.6 L367.5 234.2 L369.5 233.8 L371.5 233.4 L373.5 233.0 L375.5 232.6 L377.5 232.1 L379.5 231.7 L381.5 231.2 L383.5 230.7 L385.5 230.2 L387.5 229.6 L389.5 229.1 L391.5 228.5 L393.5 227.9 L395.5 227.3 L397.5 226.7 L399.5 226.0 L401.5 225.3 L403.5 224.6 L405.5 223.9 L407.5 223.1 L409.5 222.3 L411.5 221.5 L413.5 220.6 L415.5 219.7 L417.5 218.8 L419.5 217.8 L421.5 216.8 L423.5 215.8 L425.5 214.7 L427.5 213.6 L429.5 212.4 L431.5 211.2 L433.5 209.9 L435.5 208.7 L437.5 207.3 L439.5 205.9 L441.5 204.5 L443.5 203.0 L445.5 201.4 L447.5 199.8 L449.5 198.2 L451.5 196.5 L453.5 194.7 L455.5 192.8 L457.5 190.9 L459.5 189.0 L461.5 187.0 L463.5 184.9 L465.5 182.7 L467.5 180.5 L469.5 178.2 L471.5 175.8 L473.5 173.4 L475.5 170.9 L477.5 168.3 L479.5 165.7 L481.5 163.0 L483.5 160.2 L485.5 157.3 L487.5 154.4 L489.5 151.5 L491.5 148.4 L493.5 145.3 L495.5 142.1 L497.5 138.9 L499.5 135.7 L501.5 132.4 L503.5 129.1 L505.5 125.7 L507.5 122.3 L509.5 119.0 L511.5 115.6 L513.5 112.3 L515.5 108.9 L517.5 105.7 L519.5 102.5 L521.5 99.3 L523.5 96.3 L525.5 93.4 L527.5 90.6 L529.5 87.9 L531.5 85.5 L533.5 83.1 L535.5 81.0 L537.5 79.1 L539.5 77.3 L541.5 75.8 L543.5 74.5 L545.5 73.4 L547.5 72.4 L549.5 71.7 L551.5 71.2 L553.5 70.9 L555.5 70.7 L557.5 70.7 L559.5 70.8 L561.5 71.1 L563.5 71.4 L565.5 71.8 L567.5 72.2 L569.5 72.7 L571.5 73.2 L573.5 73.7 L575.5 74.2 L577.5 74.7 L579.5 75.1 L581.5 75.4 L583.5 75.6 L585.5 75.8 L587.5 75.9 L589.5 75.8 L591.5 75.7 L593.5 75.4 L595.5 75.0 L597.5 74.5 L599.5 73.9 L601.5 73.1 L603.5 72.2 L605.5 71.2 L607.5 70.0 L609.5 68.8 L611.5 67.4 L613.5 65.9 L615.5 64.3 L617.5 62.7 L619.5 60.9 L621.5 59.1 L623.5 57.3 L625.5 55.4 L627.5 53.5 L629.5 51.5 L631.5 49.6 L633.5 47.7 L635.5 45.9 L637.5 44.1 L639.5 42.4 L641.5 40.8 L643.5 39.4 L645.5 38.1 L647.5 36.9 L649.5 35.9 L651.5 35.1 L653.5 34.6 L655.5 34.2 L657.5 34.1 L659.5 34.1 L661.5 34.5 L663.5 35.0 L665.5 35.8 L667.5 36.9 L669.5 38.1 L671.5 39.6 L673.5 41.2 L675.5 43.1 L677.5 45.1 L679.5 47.2 L681.5 49.5 L683.5 51.9 L685.5 54.4 L687.5 56.9 L689.5 59.6 L691.5 62.2 L693.5 64.9 L695.5 67.5 L697.5 70.2 L699.5 72.8 L701.5 75.4 L703.5 77.9 L705.5 80.3 L707.5 82.7 L709.5 85.0 L711.5 87.1 L713.5 89.2 L715.5 91.2 L717.5 93.1 L719.5 94.9 L721.5 96.5 L723.5 98.1 L725.5 99.5 L727.5 100.9 L729.5 102.1 L731.5 103.2 L733.5 104.3 L735.5 105.2 L737.5 106.1 L739.5 106.9 L741.5 107.7 L743.5 108.4 L745.5 109.0 L747.5 109.7 L749.5 110.3 L751.5 110.8 L753.5 111.4 L755.5 112.0 L757.5 112.6 L759.5 113.3 L761.5 113.9 L763.5 114.7 L765.5 115.5 L767.5 116.3 L769.5 117.3 L771.5 118.3 L773.5 119.4 L775.5 120.6 L777.5 121.9 L779.5 123.4 L781.5 124.9 L783.5 126.5 L785.5 128.3 L787.5 130.1 L789.5 132.1 L791.5 134.1 L793.5 136.3 L795.5 138.5 L797.5 140.8 L799.5 143.2 L801.5 145.6 L803.5 148.1 L805.5 150.7 L807.5 153.3 L809.5 155.9 L811.5 158.6 L813.5 161.3 L815.5 164.0 L817.5 166.7 L819.5 169.4 L821.5 172.1 L823.5 174.8 L825.5 177.4 L827.5 180.1 L829.5 182.7 L831.5 185.3 L833.5 187.8 L835.5 190.3 L837.5 192.7 L839.5 195.1 L841.5 197.4 L843.5 199.7 L845.5 201.9 L847.5 204.1 L849.5 206.2 L851.5 208.3 L853.5 210.2 L855.5 212.2 L857.5 214.0 L859.5 215.8 L861.5 217.6 L863.5 219.2 L865.5 220.8 L867.5 222.4 L869.5 223.9 L871.5 225.3 L873.5 226.7 L875.5 228.1 L877.5 229.4 L879.5 230.6 L881.5 231.8 L883.5 232.9 L885.5 234.0 L887.5 235.0 L889.5 236.0 L891.5 237.0 L893.5 237.9 L895.5 238.8 L897.5 239.6 L899.5 240.4 L901.5 241.2 L903.5 242.0 L905.5 242.7 L907.5 243.4 L909.5 244.0 L911.5 244.7 L913.5 245.3 L915.5 245.9 L917.5 246.5 L919.5 247.0 L921.5 247.5 L923.5 248.0 L925.5 248.5 L927.5 249.0 L929.5 249.5 L931.5 249.9 L933.5 250.3 L935.5 250.8 L937.5 251.2 L939.5 251.6 L941.5 251.9 L943.5 252.3 L945.5 252.7 L947.5 253.0 L949.5 253.4 L951.5 253.7 L953.5 254.0 L955.5 254.3 L957.5 254.6 L959.5 254.9 L961.5 255.2 L963.5 255.5 L965.5 255.7 L967.5 256.0 L969.5 256.3 L971.5 256.5 L973.5 256.8 L975.5 257.0 L977.5 257.3 L979.5 257.5 L981.5 257.7 L983.5 257.9 L985.5 258.2 L987.5 258.4 L989.5 258.6 L991.5 258.8 L993.0 258.9" stroke="#f0474b"/><path d="M59.5 547.9 L61.5 547.9 L63.5 547.9 L65.5 547.9 L67.5 547.9 L69.5 547.9 L71.5 547.8 L73.5 547.8 L75.5 547.8 L77.5 547.8 L79.5 547.8 L81.5 547.8 L83.5 547.8 L85.5 547.8 L87.5 547.8 L89.5 547.8 L91.5 547.8 L93.5 547.8 L95.5 547.8 L97.5 547.8 L99.5 547.8 L101.5 547.7 L103.5 547.7 L105.5 547.7 L107.5 547.7 L109.5 547.7 L111.5 547.7 L113.5 547.7 L115.5 547.7 L117.5 547.7 L119.5 547.7 L121.5 547.7 L123.5 547.7 L125.5 547.7 L127.5 547.7 L129.5 547.7 L131.5 547.7 L133.5 547.7 L135.5 547.6 L137.5 547.6 L139.5 547.6 L141.5 547.6 L143.5 547.6 L145.5 547.6 L147.5 547.6 L149.5 547.6 L151.5 547.6 L153.5 547.6 L155.5 547.6 L157.5 547.6 L159.5 547.6 L161.5 547.6 L163.5 547.6 L165.5 547.6 L167.5 547.6 L169.5 547.6 L171.5 547.6 L173.5 547.5 L175.5 547.5 L177.5 547.5 L179.5 547.5 L181.5 547.5 L183.5 547.5 L185.5 547.5 L187.5 547.5 L189.5 547.5 L191.5 547.5 L193.5 547.5 L195.5 547.5 L197.5 547.5 L199.5 547.5 L201.5 547.5 L203.5 547.5 L205.5 547.5 L207.5 547.5 L209.5 547.5 L211.5 547.5 L213.5 547.5 L215.5 547.5 L217.5 547.4 L219.5 547.4 L221.5 547.4 L223.5 547.4 L225.5 547.4 L227.5 547.4 L229.5 547.4 L231.5 547.4 L233.5 547.4 L235.5 547.4 L237.5 547.4 L239.5 547.4 L241.5 547.4 L243.5 547.4 L245.5 547.4 L247.5 547.4 L249.5 547.4 L251.5 547.4 L253.5 547.4 L255.5 547.4 L257.5 547.4 L259.5 547.4 L261.5 547.4 L263.5 547.4 L265.5 547.4 L267.5 547.4 L269.5 547.4 L271.5 547.4 L273.5 547.4 L275.5 547.4 L277.5 547.4 L279.5 547.4 L281.5 547.4 L283.5 547.4 L285.5 547.4 L287.5 547.4 L289.5 547.4 L291.5 547.4 L293.5 547.4 L295.5 547.4 L297.5 547.3 L299.5 547.3 L301.5 547.3 L303.5 547.3 L305.5 547.3 L307.5 547.3 L309.5 547.3 L311.5 547.3 L313.5 547.3 L315.5 547.3 L317.5 547.3 L319.5 547.3 L321.5 547.3 L323.5 547.4 L325.5 547.4 L327.5 547.4 L329.5 547.4 L331.5 547.4 L333.5 547.4 L335.5 547.4 L337.5 547.4 L339.5 547.4 L341.5 547.4 L343.5 547.4 L345.5 547.4 L347.5 547.4 L349.5 547.4 L351.5 547.4 L353.5 547.4 L355.5 547.4 L357.5 547.4 L359.5 547.4 L361.5 547.4 L363.5 547.4 L365.5 547.4 L367.5 547.4 L369.5 547.4 L371.5 547.4 L373.5 547.4 L375.5 547.4 L377.5 547.4 L379.5 547.4 L381.5 547.5 L383.5 547.5 L385.5 547.5 L387.5 547.5 L389.5 547.5 L391.5 547.5 L393.5 547.5 L395.5 547.5 L397.5 547.5 L399.5 547.5 L401.5 547.5 L403.5 547.5 L405.5 547.6 L407.5 547.6 L409.5 547.6 L411.5 547.6 L413.5 547.6 L415.5 547.6 L417.5 547.6 L419.5 547.6 L421.5 547.7 L423.5 547.7 L425.5 547.7 L427.5 547.7 L429.5 547.7 L431.5 547.7 L433.5 547.8 L435.5 547.8 L437.5 547.8 L439.5 547.8 L441.5 547.8 L443.5 547.9 L445.5 547.9 L447.5 547.9 L449.5 547.9 L451.5 548.0 L453.5 548.0 L455.5 548.0 L457.5 548.0 L459.5 548.1 L461.5 548.1 L463.5 548.1 L465.5 548.2 L467.5 548.2 L469.5 548.2 L471.5 548.3 L473.5 548.3 L475.5 548.3 L477.5 548.4 L479.5 548.4 L481.5 548.4 L483.5 548.5 L485.5 548.5 L487.5 548.6 L489.5 548.6 L491.5 548.7 L493.5 548.7 L495.5 548.8 L497.5 548.8 L499.5 548.9 L501.5 549.0 L503.5 549.0 L505.5 549.1 L507.5 549.1 L509.5 549.2 L511.5 549.3 L513.5 549.4 L515.5 549.4 L517.5 549.5 L519.5 549.6 L521.5 549.7 L523.5 549.7 L525.5 549.8 L527.5 549.9 L529.5 550.0 L531.5 550.1 L533.5 550.2 L535.5 550.3 L537.5 550.4 L539.5 550.5 L541.5 550.6 L543.5 550.7 L545.5 550.8 L547.5 550.9 L549.5 551.0 L551.5 551.1 L553.5 551.2 L555.5 551.3 L557.5 551.4 L559.5 551.6 L561.5 551.7 L563.5 551.8 L565.5 551.9 L567.5 552.0 L569.5 552.1 L571.5 552.2 L573.5 552.4 L575.5 552.5 L577.5 552.6 L579.5 552.7 L581.5 552.8 L583.5 552.9 L585.5 553.0 L587.5 553.2 L589.5 553.3 L591.5 553.4 L593.5 553.5 L595.5 553.6 L597.5 553.7 L599.5 553.9 L601.5 554.0 L603.5 554.1 L605.5 554.2 L607.5 554.3 L609.5 554.5 L611.5 554.6 L613.5 554.7 L615.5 554.8 L617.5 555.0 L619.5 555.1 L621.5 555.2 L623.5 555.3 L625.5 555.5 L627.5 555.6 L629.5 555.7 L631.5 555.9 L633.5 556.0 L635.5 556.1 L637.5 556.3 L639.5 556.4 L641.5 556.6 L643.5 556.7 L645.5 556.8 L647.5 557.0 L649.5 557.1 L651.5 557.3 L653.5 557.4 L655.5 557.6 L657.5 557.7 L659.5 557.9 L661.5 558.0 L663.5 558.2 L665.5 558.3 L667.5 558.5 L669.5 558.6 L671.5 558.8 L673.5 558.9 L675.5 559.1 L677.5 559.2 L679.5 559.4 L681.5 559.5 L683.5 559.7 L685.5 559.8 L687.5 560.0 L689.5 560.1 L691.5 560.3 L693.5 560.4 L695.5 560.6 L697.5 560.7 L699.5 560.9 L701.5 561.0 L703.5 561.2 L705.5 561.3 L707.5 561.5 L709.5 561.6 L711.5 561.7 L713.5 561.9 L715.5 562.0 L717.5 562.2 L719.5 562.3 L721.5 562.4 L723.5 562.6 L725.5 562.7 L727.5 562.9 L729.5 563.0 L731.5 563.2 L733.5 563.3 L735.5 563.4 L737.5 563.6 L739.5 563.7 L741.5 563.9 L743.5 564.0 L745.5 564.2 L747.5 564.3 L749.5 564.5 L751.5 564.6 L753.5 564.8 L755.5 564.9 L757.5 565.1 L759.5 565.2 L761.5 565.4 L763.5 565.5 L765.5 565.7 L767.5 565.8 L769.5 566.0 L771.5 566.1 L773.5 566.3 L775.5 566.4 L777.5 566.6 L779.5 566.7 L781.5 566.9 L783.5 567.0 L785.5 567.2 L787.5 567.3 L789.5 567.4 L791.5 567.6 L793.5 567.7 L795.5 567.8 L797.5 568.0 L799.5 568.1 L801.5 568.2 L803.5 568.3 L805.5 568.4 L807.5 568.6 L809.5 568.7 L811.5 568.8 L813.5 568.9 L815.5 569.0 L817.5 569.1 L819.5 569.2 L821.5 569.3 L823.5 569.4 L825.5 569.5 L827.5 569.5 L829.5 569.6 L831.5 569.7 L833.5 569.8 L835.5 569.8 L837.5 569.9 L839.5 570.0 L841.5 570.1 L843.5 570.1 L845.5 570.2 L847.5 570.2 L849.5 570.3 L851.5 570.4 L853.5 570.4 L855.5 570.5 L857.5 570.5 L859.5 570.6 L861.5 570.6 L863.5 570.7 L865.5 570.7 L867.5 570.7 L869.5 570.8 L871.5 570.8 L873.5 570.9 L875.5 570.9 L877.5 570.9 L879.5 571.0 L881.5 571.0 L883.5 571.0 L885.5 571.0 L887.5 571.1 L889.5 571.1 L891.5 571.1 L893.5 571.2 L895.5 571.2 L897.5 571.2 L899.5 571.2 L901.5 571.2 L903.5 571.3 L905.5 571.3 L907.5 571.3 L909.5 571.3 L911.5 571.3 L913.5 571.4 L915.5 571.4 L917.5 571.4 L919.5 571.4 L921.5 571.4 L923.5 571.4 L925.5 571.4 L927.5 571.5 L929.5 571.5 L931.5 571.5 L933.5 571.5 L935.5 571.5 L937.5 571.5 L939.5 571.5 L941.5 571.5 L943.5 571.6 L945.5 571.6 L947.5 571.6 L949.5 571.6 L951.5 571.6 L953.5 571.6 L955.5 571.6 L957.5 571.6 L959.5 571.6 L961.5 571.6 L963.5 571.6 L965.5 571.6 L967.5 571.6 L969.5 571.6 L971.5 571.7 L973.5 571.7 L975.5 571.7 L977.5 571.7 L979.5 571.7 L981.5 571.7 L983.5 571.7 L985.5 571.7 L987.5 571.7 L989.5 571.7 L991.5 571.7 L993.0 571.7" stroke="#3478dc"/>
<path d="M59.5 546.3 L61.5 546.3 L63.5 546.3 L65.5 546.2 L67.5 546.2 L69.5 546.2 L71.5 546.2 L73.5 546.2 L75.5 546.1 L77.5 546.1 L79.5 546.1 L81.5 546.1 L83.5 546.1 L85.5 546.0 L87.5 546.0 L89.5 546.0 L91.5 546.0 L93.5 546.0 L95.5 545.9 L97.5 545.9 L99.5 545.9 L101.5 545.9 L103.5 545.8 L105.5 545.8 L107.5 545.8 L109.5 545.8 L111.5 545.8 L113.5 545.7 L115.5 545.7 L117.5 545.7 L119.5 545.7 L121.5 545.6 L123.5 545.6 L125.5 545.6 L127.5 545.6 L129.5 545.5 L131.5 545.5 L133.5 545.5 L135.5 545.5 L137.5 545.4 L139.5 545.4 L141.5 545.4 L143.5 545.4 L145.5 545.3 L147.5 545.3 L149.5 545.3 L151.5 545.2 L153.5 545.2 L155.5 545.2 L157.5 545.2 L159.5 545.1 L161.5 545.1 L163.5 545.1 L165.5 545.0 L167.5 545.0 L169.5 545.0 L171.5 544.9 L173.5 544.9 L175.5 544.9 L177.5 544.8 L179.5 544.8 L181.5 544.8 L183.5 544.7 L185.5 544.7 L187.5 544.7 L189.5 544.6 L191.5 544.6 L193.5 544.6 L195.5 544.5 L197.5 544.5 L199.5 544.5 L201.5 544.4 L203.5 544.4 L205.5 544.3 L207.5 544.3 L209.5 544.3 L211.5 544.2 L213.5 544.2 L215.5 544.1 L217.5 544.1 L219.5 544.1 L221.5 544.0 L223.5 544.0 L225.5 543.9 L227.5 543.9 L229.5 543.8 L231.5 543.8 L233.5 543.7 L235.5 543.7 L237.5 543.6 L239.5 543.6 L241.5 543.5 L243.5 543.5 L245.5 543.4 L247.5 543.4 L249.5 543.3 L251.5 543.3 L253.5 543.2 L255.5 543.2 L257.5 543.1 L259.5 543.1 L261.5 543.0 L263.5 542.9 L265.5 542.9 L267.5 542.8 L269.5 542.8 L271.5 542.7 L273.5 542.6 L275.5 542.6 L277.5 542.5 L279.5 542.4 L281.5 542.3 L283.5 542.3 L285.5 542.2 L287.5 542.1 L289.5 542.1 L291.5 542.0 L293.5 541.9 L295.5 541.8 L297.5 541.7 L299.5 541.6 L301.5 541.6 L303.5 541.5 L305.5 541.4 L307.5 541.3 L309.5 541.2 L311.5 541.1 L313.5 541.0 L315.5 540.9 L317.5 540.8 L319.5 540.7 L321.5 540.6 L323.5 540.5 L325.5 540.4 L327.5 540.3 L329.5 540.2 L331.5 540.0 L333.5 539.9 L335.5 539.8 L337.5 539.7 L339.5 539.5 L341.5 539.4 L343.5 539.3 L345.5 539.1 L347.5 539.0 L349.5 538.8 L351.5 538.7 L353.5 538.5 L355.5 538.4 L357.5 538.2 L359.5 538.0 L361.5 537.8 L363.5 537.7 L365.5 537.5 L367.5 537.3 L369.5 537.1 L371.5 536.9 L373.5 536.7 L375.5 536.5 L377.5 536.3 L379.5 536.0 L381.5 535.8 L383.5 535.6 L385.5 535.3 L387.5 535.1 L389.5 534.8 L391.5 534.5 L393.5 534.2 L395.5 534.0 L397.5 533.7 L399.5 533.3 L401.5 533.0 L403.5 532.7 L405.5 532.3 L407.5 532.0 L409.5 531.6 L411.5 531.2 L413.5 530.8 L415.5 530.4 L417.5 530.0 L419.5 529.5 L421.5 529.0 L423.5 528.6 L425.5 528.1 L427.5 527.5 L429.5 527.0 L431.5 526.4 L433.5 525.8 L435.5 525.2 L437.5 524.6 L439.5 523.9 L441.5 523.2 L443.5 522.5 L445.5 521.8 L447.5 521.0 L449.5 520.2 L451.5 519.3 L453.5 518.5 L455.5 517.5 L457.5 516.6 L459.5 515.6 L461.5 514.6 L463.5 513.5 L465.5 512.4 L467.5 511.3 L469.5 510.1 L471.5 508.9 L473.5 507.6 L475.5 506.3 L477.5 504.9 L479.5 503.5 L481.5 502.1 L483.5 500.6 L485.5 499.0 L487.5 497.4 L489.5 495.7 L491.5 494.0 L493.5 492.3 L495.5 490.5 L497.5 488.6 L499.5 486.8 L501.5 484.8 L503.5 482.9 L505.5 480.9 L507.5 478.9 L509.5 476.8 L511.5 474.7 L513.5 472.7 L515.5 470.6 L517.5 468.5 L519.5 466.4 L521.5 464.3 L523.5 462.3 L525.5 460.3 L527.5 458.4 L529.5 456.6 L531.5 454.8 L533.5 453.1 L535.5 451.6 L537.5 450.1 L539.5 448.8 L541.5 447.7 L543.5 446.7 L545.5 445.9 L547.5 445.3 L549.5 444.8 L551.5 444.6 L553.5 444.5 L555.5 444.7 L557.5 445.0 L559.5 445.6 L561.5 446.4 L563.5 447.3 L565.5 448.4 L567.5 449.7 L569.5 451.1 L571.5 452.7 L573.5 454.4 L575.5 456.2 L577.5 458.2 L579.5 460.2 L581.5 462.3 L583.5 464.4 L585.5 466.6 L587.5 468.9 L589.5 471.1 L591.5 473.4 L593.5 475.7 L595.5 477.9 L597.5 480.2 L599.5 482.5 L601.5 484.7 L603.5 486.9 L605.5 489.0 L607.5 491.2 L609.5 493.2 L611.5 495.3 L613.5 497.3 L615.5 499.2 L617.5 501.1 L619.5 503.0 L621.5 504.8 L623.5 506.6 L625.5 508.3 L627.5 509.9 L629.5 511.5 L631.5 513.1 L633.5 514.6 L635.5 516.1 L637.5 517.5 L639.5 518.9 L641.5 520.2 L643.5 521.5 L645.5 522.8 L647.5 524.0 L649.5 525.2 L651.5 526.3 L653.5 527.4 L655.5 528.5 L657.5 529.5 L659.5 530.5 L661.5 531.5 L663.5 532.4 L665.5 533.3 L667.5 534.2 L669.5 535.1 L671.5 535.9 L673.5 536.7 L675.5 537.4 L677.5 538.2 L679.5 538.9 L681.5 539.6 L683.5 540.3 L685.5 541.0 L687.5 541.6 L689.5 542.2 L691.5 542.8 L693.5 543.4 L695.5 544.0 L697.5 544.5 L699.5 545.1 L701.5 545.6 L703.5 546.1 L705.5 546.6 L707.5 547.1 L709.5 547.6 L711.5 548.0 L713.5 548.5 L715.5 548.9 L717.5 549.3 L719.5 549.8 L721.5 550.2 L723.5 550.6 L725.5 551.0 L727.5 551.3 L729.5 551.7 L731.5 552.1 L733.5 552.5 L735.5 552.8 L737.5 553.2 L739.5 553.5 L741.5 553.9 L743.5 554.2 L745.5 554.5 L747.5 554.9 L749.5 555.2 L751.5 555.5 L753.5 555.8 L755.5 556.1 L757.5 556.4 L759.5 556.7 L761.5 557.0 L763.5 557.3 L765.5 557.6 L767.5 557.9 L769.5 558.2 L771.5 558.5 L773.5 558.8 L775.5 559.0 L777.5 559.3 L779.5 559.6 L781.5 559.8 L783.5 560.1 L785.5 560.3 L787.5 560.6 L789.5 560.8 L791.5 561.1 L793.5 561.3 L795.5 561.5 L797.5 561.8 L799.5 562.0 L801.5 562.2 L803.5 562.4 L805.5 562.6 L807.5 562.8 L809.5 563.0 L811.5 563.2 L813.5 563.4 L815.5 563.6 L817.5 563.7 L819.5 563.9 L821.5 564.1 L823.5 564.2 L825.5 564.4 L827.5 564.6 L829.5 564.7 L831.5 564.9 L833.5 565.0 L835.5 565.1 L837.5 565.3 L839.5 565.4 L841.5 565.5 L843.5 565.7 L845.5 565.8 L847.5 565.9 L849.5 566.0 L851.5 566.1 L853.5 566.2 L855.5 566.3 L857.5 566.4 L859.5 566.5 L861.5 566.6 L863.5 566.7 L865.5 566.8 L867.5 566.9 L869.5 567.0 L871.5 567.1 L873.5 567.2 L875.5 567.2 L877.5 567.3 L879.5 567.4 L881.5 567.5 L883.5 567.5 L885.5 567.6 L887.5 567.7 L889.5 567.7 L891.5 567.8 L893.5 567.9 L895.5 567.9 L897.5 568.0 L899.5 568.0 L901.5 568.1 L903.5 568.2 L905.5 568.2 L907.5 568.3 L909.5 568.3 L911.5 568.4 L913.5 568.4 L915.5 568.5 L917.5 568.5 L919.5 568.6 L921.5 568.6 L923.5 568.6 L925.5 568.7 L927.5 568.7 L929.5 568.8 L931.5 568.8 L933.5 568.8 L935.5 568.9 L937.5 568.9 L939.5 569.0 L941.5 569.0 L943.5 569.0 L945.5 569.1 L947.5 569.1 L949.5 569.1 L951.5 569.2 L953.5 569.2 L955.5 569.2 L957.5 569.3 L959.5 569.3 L961.5 569.3 L963.5 569.3 L965.5 569.4 L967.5 569.4 L969.5 569.4 L971.5 569.5 L973.5 569.5 L975.5 569.5 L977.5 569.5 L979.5 569.5 L981.5 569.6 L983.5 569.6 L985.5 569.6 L987.5 569.6 L989.5 569.7 L991.5 569.7 L993.0 569.7" stroke="#d4a520"/>
<path d="M59.5 546.6 L61.5 546.5 L63.5 546.5 L65.5 546.5 L67.5 546.5 L69.5 546.5 L71.5 546.5 L73.5 546.4 L75.5 546.4 L77.5 546.4 L79.5 546.4 L81.5 546.4 L83.5 546.4 L85.5 546.3 L87.5 546.3 L89.5 546.3 L91.5 546.3 L93.5 546.3 L95.5 546.3 L97.5 546.2 L99.5 546.2 L101.5 546.2 L103.5 546.2 L105.5 546.2 L107.5 546.2 L109.5 546.1 L111.5 546.1 L113.5 546.1 L115.5 546.1 L117.5 546.1 L119.5 546.1 L121.5 546.0 L123.5 546.0 L125.5 546.0 L127.5 546.0 L129.5 546.0 L131.5 545.9 L133.5 545.9 L135.5 545.9 L137.5 545.9 L139.5 545.9 L141.5 545.9 L143.5 545.8 L145.5 545.8 L147.5 545.8 L149.5 545.8 L151.5 545.8 L153.5 545.7 L155.5 545.7 L157.5 545.7 L159.5 545.7 L161.5 545.7 L163.5 545.6 L165.5 545.6 L167.5 545.6 L169.5 545.6 L171.5 545.6 L173.5 545.5 L175.5 545.5 L177.5 545.5 L179.5 545.5 L181.5 545.5 L183.5 545.4 L185.5 545.4 L187.5 545.4 L189.5 545.4 L191.5 545.3 L193.5 545.3 L195.5 545.3 L197.5 545.3 L199.5 545.3 L201.5 545.2 L203.5 545.2 L205.5 545.2 L207.5 545.2 L209.5 545.1 L211.5 545.1 L213.5 545.1 L215.5 545.1 L217.5 545.0 L219.5 545.0 L221.5 545.0 L223.5 545.0 L225.5 544.9 L227.5 544.9 L229.5 544.9 L231.5 544.9 L233.5 544.8 L235.5 544.8 L237.5 544.8 L239.5 544.7 L241.5 544.7 L243.5 544.7 L245.5 544.7 L247.5 544.6 L249.5 544.6 L251.5 544.6 L253.5 544.5 L255.5 544.5 L257.5 544.5 L259.5 544.5 L261.5 544.4 L263.5 544.4 L265.5 544.4 L267.5 544.3 L269.5 544.3 L271.5 544.3 L273.5 544.2 L275.5 544.2 L277.5 544.2 L279.5 544.1 L281.5 544.1 L283.5 544.1 L285.5 544.0 L287.5 544.0 L289.5 544.0 L291.5 543.9 L293.5 543.9 L295.5 543.9 L297.5 543.8 L299.5 543.8 L301.5 543.7 L303.5 543.7 L305.5 543.7 L307.5 543.6 L309.5 543.6 L311.5 543.5 L313.5 543.5 L315.5 543.5 L317.5 543.4 L319.5 543.4 L321.5 543.3 L323.5 543.3 L325.5 543.2 L327.5 543.2 L329.5 543.1 L331.5 543.1 L333.5 543.0 L335.5 543.0 L337.5 543.0 L339.5 542.9 L341.5 542.9 L343.5 542.8 L345.5 542.7 L347.5 542.7 L349.5 542.6 L351.5 542.6 L353.5 542.5 L355.5 542.5 L357.5 542.4 L359.5 542.4 L361.5 542.3 L363.5 542.2 L365.5 542.2 L367.5 542.1 L369.5 542.1 L371.5 542.0 L373.5 541.9 L375.5 541.9 L377.5 541.8 L379.5 541.7 L381.5 541.7 L383.5 541.6 L385.5 541.5 L387.5 541.4 L389.5 541.4 L391.5 541.3 L393.5 541.2 L395.5 541.1 L397.5 541.1 L399.5 541.0 L401.5 540.9 L403.5 540.8 L405.5 540.7 L407.5 540.6 L409.5 540.5 L411.5 540.5 L413.5 540.4 L415.5 540.3 L417.5 540.2 L419.5 540.1 L421.5 540.0 L423.5 539.9 L425.5 539.8 L427.5 539.7 L429.5 539.6 L431.5 539.4 L433.5 539.3 L435.5 539.2 L437.5 539.1 L439.5 539.0 L441.5 538.8 L443.5 538.7 L445.5 538.6 L447.5 538.5 L449.5 538.3 L451.5 538.2 L453.5 538.0 L455.5 537.9 L457.5 537.8 L459.5 537.6 L461.5 537.4 L463.5 537.3 L465.5 537.1 L467.5 537.0 L469.5 536.8 L471.5 536.6 L473.5 536.4 L475.5 536.2 L477.5 536.0 L479.5 535.9 L481.5 535.7 L483.5 535.4 L485.5 535.2 L487.5 535.0 L489.5 534.8 L491.5 534.5 L493.5 534.3 L495.5 534.1 L497.5 533.8 L499.5 533.5 L501.5 533.2 L503.5 533.0 L505.5 532.7 L507.5 532.3 L509.5 532.0 L511.5 531.7 L513.5 531.3 L515.5 531.0 L517.5 530.6 L519.5 530.2 L521.5 529.8 L523.5 529.3 L525.5 528.9 L527.5 528.4 L529.5 527.9 L531.5 527.4 L533.5 526.8 L535.5 526.2 L537.5 525.6 L539.5 525.0 L541.5 524.3 L543.5 523.6 L545.5 522.8 L547.5 522.0 L549.5 521.2 L551.5 520.4 L553.5 519.4 L555.5 518.5 L557.5 517.5 L559.5 516.4 L561.5 515.3 L563.5 514.1 L565.5 512.9 L567.5 511.6 L569.5 510.3 L571.5 508.9 L573.5 507.4 L575.5 505.9 L577.5 504.3 L579.5 502.7 L581.5 501.0 L583.5 499.2 L585.5 497.3 L587.5 495.4 L589.5 493.4 L591.5 491.3 L593.5 489.2 L595.5 487.0 L597.5 484.8 L599.5 482.5 L601.5 480.2 L603.5 477.8 L605.5 475.3 L607.5 472.8 L609.5 470.3 L611.5 467.7 L613.5 465.1 L615.5 462.5 L617.5 459.9 L619.5 457.2 L621.5 454.6 L623.5 452.0 L625.5 449.4 L627.5 446.8 L629.5 444.3 L631.5 441.8 L633.5 439.4 L635.5 437.1 L637.5 434.9 L639.5 432.8 L641.5 430.7 L643.5 428.9 L645.5 427.1 L647.5 425.5 L649.5 424.1 L651.5 422.9 L653.5 421.8 L655.5 420.9 L657.5 420.3 L659.5 419.8 L661.5 419.5 L663.5 419.5 L665.5 419.6 L667.5 420.0 L669.5 420.6 L671.5 421.4 L673.5 422.4 L675.5 423.6 L677.5 425.0 L679.5 426.5 L681.5 428.3 L683.5 430.2 L685.5 432.2 L687.5 434.4 L689.5 436.7 L691.5 439.1 L693.5 441.7 L695.5 444.3 L697.5 447.0 L699.5 449.7 L701.5 452.5 L703.5 455.4 L705.5 458.2 L707.5 461.1 L709.5 464.0 L711.5 466.9 L713.5 469.8 L715.5 472.7 L717.5 475.6 L719.5 478.4 L721.5 481.2 L723.5 483.9 L725.5 486.7 L727.5 489.3 L729.5 491.9 L731.5 494.5 L733.5 497.0 L735.5 499.4 L737.5 501.8 L739.5 504.1 L741.5 506.3 L743.5 508.5 L745.5 510.6 L747.5 512.7 L749.5 514.6 L751.5 516.5 L753.5 518.4 L755.5 520.2 L757.5 521.9 L759.5 523.6 L761.5 525.2 L763.5 526.7 L765.5 528.2 L767.5 529.6 L769.5 531.0 L771.5 532.3 L773.5 533.5 L775.5 534.8 L777.5 535.9 L779.5 537.0 L781.5 538.1 L783.5 539.1 L785.5 540.1 L787.5 541.1 L789.5 542.0 L791.5 542.9 L793.5 543.7 L795.5 544.5 L797.5 545.3 L799.5 546.0 L801.5 546.7 L803.5 547.4 L805.5 548.1 L807.5 548.7 L809.5 549.3 L811.5 549.9 L813.5 550.5 L815.5 551.0 L817.5 551.5 L819.5 552.0 L821.5 552.5 L823.5 553.0 L825.5 553.4 L827.5 553.9 L829.5 554.3 L831.5 554.7 L833.5 555.1 L835.5 555.4 L837.5 555.8 L839.5 556.2 L841.5 556.5 L843.5 556.8 L845.5 557.2 L847.5 557.5 L849.5 557.8 L851.5 558.1 L853.5 558.3 L855.5 558.6 L857.5 558.9 L859.5 559.1 L861.5 559.4 L863.5 559.6 L865.5 559.9 L867.5 560.1 L869.5 560.3 L871.5 560.6 L873.5 560.8 L875.5 561.0 L877.5 561.2 L879.5 561.4 L881.5 561.6 L883.5 561.7 L885.5 561.9 L887.5 562.1 L889.5 562.3 L891.5 562.4 L893.5 562.6 L895.5 562.8 L897.5 562.9 L899.5 563.1 L901.5 563.2 L903.5 563.4 L905.5 563.5 L907.5 563.6 L909.5 563.8 L911.5 563.9 L913.5 564.0 L915.5 564.1 L917.5 564.3 L919.5 564.4 L921.5 564.5 L923.5 564.6 L925.5 564.7 L927.5 564.8 L929.5 564.9 L931.5 565.0 L933.5 565.1 L935.5 565.2 L937.5 565.3 L939.5 565.4 L941.5 565.5 L943.5 565.6 L945.5 565.7 L947.5 565.8 L949.5 565.9 L951.5 565.9 L953.5 566.0 L955.5 566.1 L957.5 566.2 L959.5 566.3 L961.5 566.3 L963.5 566.4 L965.5 566.5 L967.5 566.6 L969.5 566.6 L971.5 566.7 L973.5 566.8 L975.5 566.8 L977.5 566.9 L979.5 566.9 L981.5 567.0 L983.5 567.1 L985.5 567.1 L987.5 567.2 L989.5 567.2 L991.5 567.3 L993.0 567.3" stroke="#b878e1"/>
<path d="M59.5 546.9 L61.5 546.9 L63.5 546.9 L65.5 546.9 L67.5 546.9 L69.5 546.9 L71.5 546.9 L73.5 546.9 L75.5 546.8 L77.5 546.8 L79.5 546.8 L81.5 546.8 L83.5 546.8 L85.5 546.8 L87.5 546.8 L89.5 546.8 L91.5 546.7 L93.5 546.7 L95.5 546.7 L97.5 546.7 L99.5 546.7 L101.5 546.7 L103.5 546.7 L105.5 546.7 L107.5 546.6 L109.5 546.6 L111.5 546.6 L113.5 546.6 L115.5 546.6 L117.5 546.6 L119.5 546.6 L121.5 546.6 L123.5 546.5 L125.5 546.5 L127.5 546.5 L129.5 546.5 L131.5 546.5 L133.5 546.5 L135.5 546.5 L137.5 546.5 L139.5 546.4 L141.5 546.4 L143.5 546.4 L145.5 546.4 L147.5 546.4 L149.5 546.4 L151.5 546.4 L153.5 546.4 L155.5 546.3 L157.5 546.3 L159.5 546.3 L161.5 546.3 L163.5 546.3 L165.5 546.3 L167.5 546.3 L169.5 546.2 L171.5 546.2 L173.5 546.2 L175.5 546.2 L177.5 546.2 L179.5 546.2 L181.5 546.2 L183.5 546.1 L185.5 546.1 L187.5 546.1 L189.5 546.1 L191.5 546.1 L193.5 546.1 L195.5 546.1 L197.5 546.0 L199.5 546.0 L201.5 546.0 L203.5 546.0 L205.5 546.0 L207.5 546.0 L209.5 546.0 L211.5 545.9 L213.5 545.9 L215.5 545.9 L217.5 545.9 L219.5 545.9 L221.5 545.9 L223.5 545.9 L225.5 545.8 L227.5 545.8 L229.5 545.8 L231.5 545.8 L233.5 545.8 L235.5 545.8 L237.5 545.8 L239.5 545.7 L241.5 545.7 L243.5 545.7 L245.5 545.7 L247.5 545.7 L249.5 545.7 L251.5 545.6 L253.5 545.6 L255.5 545.6 L257.5 545.6 L259.5 545.6 L261.5 545.6 L263.5 545.5 L265.5 545.5 L267.5 545.5 L269.5 545.5 L271.5 545.5 L273.5 545.5 L275.5 545.4 L277.5 545.4 L279.5 545.4 L281.5 545.4 L283.5 545.4 L285.5 545.4 L287.5 545.3 L289.5 545.3 L291.5 545.3 L293.5 545.3 L295.5 545.3 L297.5 545.3 L299.5 545.2 L301.5 545.2 L303.5 545.2 L305.5 545.2 L307.5 545.2 L309.5 545.1 L311.5 545.1 L313.5 545.1 L315.5 545.1 L317.5 545.1 L319.5 545.0 L321.5 545.0 L323.5 545.0 L325.5 545.0 L327.5 545.0 L329.5 545.0 L331.5 544.9 L333.5 544.9 L335.5 544.9 L337.5 544.9 L339.5 544.9 L341.5 544.8 L343.5 544.8 L345.5 544.8 L347.5 544.8 L349.5 544.7 L351.5 544.7 L353.5 544.7 L355.5 544.7 L357.5 544.7 L359.5 544.6 L361.5 544.6 L363.5 544.6 L365.5 544.6 L367.5 544.6 L369.5 544.5 L371.5 544.5 L373.5 544.5 L375.5 544.5 L377.5 544.4 L379.5 544.4 L381.5 544.4 L383.5 544.4 L385.5 544.3 L387.5 544.3 L389.5 544.3 L391.5 544.3 L393.5 544.2 L395.5 544.2 L397.5 544.2 L399.5 544.2 L401.5 544.1 L403.5 544.1 L405.5 544.1 L407.5 544.1 L409.5 544.0 L411.5 544.0 L413.5 544.0 L415.5 544.0 L417.5 543.9 L419.5 543.9 L421.5 543.9 L423.5 543.9 L425.5 543.8 L427.5 543.8 L429.5 543.8 L431.5 543.8 L433.5 543.7 L435.5 543.7 L437.5 543.7 L439.5 543.6 L441.5 543.6 L443.5 543.6 L445.5 543.6 L447.5 543.5 L449.5 543.5 L451.5 543.5 L453.5 543.4 L455.5 543.4 L457.5 543.4 L459.5 543.4 L461.5 543.3 L463.5 543.3 L465.5 543.3 L467.5 543.2 L469.5 543.2 L471.5 543.2 L473.5 543.2 L475.5 543.1 L477.5 543.1 L479.5 543.1 L481.5 543.1 L483.5 543.0 L485.5 543.0 L487.5 543.0 L489.5 542.9 L491.5 542.9 L493.5 542.9 L495.5 542.9 L497.5 542.8 L499.5 542.8 L501.5 542.8 L503.5 542.8 L505.5 542.7 L507.5 542.7 L509.5 542.7 L511.5 542.7 L513.5 542.6 L515.5 542.6 L517.5 542.6 L519.5 542.6 L521.5 542.5 L523.5 542.5 L525.5 542.5 L527.5 542.5 L529.5 542.4 L531.5 542.4 L533.5 542.4 L535.5 542.4 L537.5 542.3 L539.5 542.3 L541.5 542.3 L543.5 542.2 L545.5 542.2 L547.5 542.2 L549.5 542.1 L551.5 542.1 L553.5 542.0 L555.5 542.0 L557.5 541.9 L559.5 541.9 L561.5 541.8 L563.5 541.8 L565.5 541.7 L567.5 541.6 L569.5 541.6 L571.5 541.5 L573.5 541.4 L575.5 541.3 L577.5 541.2 L579.5 541.1 L581.5 541.0 L583.5 540.9 L585.5 540.7 L587.5 540.6 L589.5 540.5 L591.5 540.3 L593.5 540.1 L595.5 540.0 L597.5 539.8 L599.5 539.6 L601.5 539.4 L603.5 539.2 L605.5 539.0 L607.5 538.7 L609.5 538.5 L611.5 538.2 L613.5 537.9 L615.5 537.6 L617.5 537.3 L619.5 537.0 L621.5 536.7 L623.5 536.3 L625.5 535.9 L627.5 535.5 L629.5 535.1 L631.5 534.7 L633.5 534.2 L635.5 533.7 L637.5 533.2 L639.5 532.6 L641.5 532.1 L643.5 531.5 L645.5 530.8 L647.5 530.2 L649.5 529.5 L651.5 528.7 L653.5 528.0 L655.5 527.2 L657.5 526.3 L659.5 525.4 L661.5 524.5 L663.5 523.5 L665.5 522.5 L667.5 521.4 L669.5 520.3 L671.5 519.1 L673.5 517.9 L675.5 516.6 L677.5 515.3 L679.5 513.9 L681.5 512.4 L683.5 510.9 L685.5 509.3 L687.5 507.7 L689.5 505.9 L691.5 504.2 L693.5 502.3 L695.5 500.4 L697.5 498.4 L699.5 496.4 L701.5 494.2 L703.5 492.0 L705.5 489.8 L707.5 487.4 L709.5 485.0 L711.5 482.6 L713.5 480.0 L715.5 477.4 L717.5 474.8 L719.5 472.0 L721.5 469.2 L723.5 466.4 L725.5 463.5 L727.5 460.6 L729.5 457.6 L731.5 454.7 L733.5 451.7 L735.5 448.6 L737.5 445.6 L739.5 442.6 L741.5 439.7 L743.5 436.7 L745.5 433.9 L747.5 431.1 L749.5 428.4 L751.5 425.8 L753.5 423.3 L755.5 421.0 L757.5 418.9 L759.5 416.9 L761.5 415.2 L763.5 413.7 L765.5 412.4 L767.5 411.4 L769.5 410.6 L771.5 410.1 L773.5 409.9 L775.5 410.0 L777.5 410.3 L779.5 411.0 L781.5 411.9 L783.5 413.1 L785.5 414.5 L787.5 416.2 L789.5 418.1 L791.5 420.3 L793.5 422.6 L795.5 425.1 L797.5 427.8 L799.5 430.6 L801.5 433.5 L803.5 436.5 L805.5 439.6 L807.5 442.8 L809.5 446.0 L811.5 449.2 L813.5 452.5 L815.5 455.7 L817.5 459.0 L819.5 462.2 L821.5 465.4 L823.5 468.6 L825.5 471.7 L827.5 474.8 L829.5 477.9 L831.5 480.8 L833.5 483.7 L835.5 486.6 L837.5 489.4 L839.5 492.1 L841.5 494.8 L843.5 497.3 L845.5 499.8 L847.5 502.3 L849.5 504.6 L851.5 506.9 L853.5 509.1 L855.5 511.3 L857.5 513.4 L859.5 515.4 L861.5 517.3 L863.5 519.2 L865.5 521.0 L867.5 522.7 L869.5 524.4 L871.5 526.0 L873.5 527.6 L875.5 529.1 L877.5 530.6 L879.5 531.9 L881.5 533.3 L883.5 534.6 L885.5 535.8 L887.5 537.0 L889.5 538.1 L891.5 539.2 L893.5 540.2 L895.5 541.2 L897.5 542.2 L899.5 543.1 L901.5 544.0 L903.5 544.9 L905.5 545.7 L907.5 546.4 L909.5 547.2 L911.5 547.9 L913.5 548.6 L915.5 549.2 L917.5 549.9 L919.5 550.5 L921.5 551.1 L923.5 551.6 L925.5 552.2 L927.5 552.7 L929.5 553.2 L931.5 553.6 L933.5 554.1 L935.5 554.5 L937.5 554.9 L939.5 555.3 L941.5 555.7 L943.5 556.1 L945.5 556.5 L947.5 556.8 L949.5 557.1 L951.5 557.5 L953.5 557.8 L955.5 558.1 L957.5 558.4 L959.5 558.7 L961.5 558.9 L963.5 559.2 L965.5 559.4 L967.5 559.7 L969.5 559.9 L971.5 560.1 L973.5 560.4 L975.5 560.6 L977.5 560.8 L979.5 561.0 L981.5 561.2 L983.5 561.4 L985.5 561.6 L987.5 561.8 L989.5 561.9 L991.5 562.1 L993.0 562.2" stroke="#3caf6e"/>
<path d="M59.5 544.0 L61.5 544.0 L63.5 544.0 L65.5 543.9 L67.5 543.9 L69.5 543.9 L71.5 543.8 L73.5 543.8 L75.5 543.8 L77.5 543.7 L79.5 543.7 L81.5 543.6 L83.5 543.6 L85.5 543.6 L87.5 543.5 L89.5 543.5 L91.5 543.5 L93.5 543.4 L95.5 543.4 L97.5 543.3 L99.5 543.3 L101.5 543.3 L103.5 543.2 L105.5 543.2 L107.5 543.2 L109.5 543.1 L111.5 543.1 L113.5 543.0 L115.5 543.0 L117.5 542.9 L119.5 542.9 L121.5 542.9 L123.5 542.8 L125.5 542.8 L127.5 542.7 L129.5 542.7 L131.5 542.6 L133.5 542.6 L135.5 542.5 L137.5 542.5 L139.5 542.5 L141.5 542.4 L143.5 542.4 L145.5 542.3 L147.5 542.3 L149.5 542.2 L151.5 542.2 L153.5 542.1 L155.5 542.1 L157.5 542.0 L159.5 542.0 L161.5 541.9 L163.5 541.8 L165.5 541.8 L167.5 541.7 L169.5 541.7 L171.5 541.6 L173.5 541.6 L175.5 541.5 L177.5 541.5 L179.5 541.4 L181.5 541.3 L183.5 541.3 L185.5 541.2 L187.5 541.2 L189.5 541.1 L191.5 541.0 L193.5 541.0 L195.5 540.9 L197.5 540.8 L199.5 540.8 L201.5 540.7 L203.5 540.6 L205.5 540.6 L207.5 540.5 L209.5 540.4 L211.5 540.4 L213.5 540.3 L215.5 540.2 L217.5 540.1 L219.5 540.1 L221.5 540.0 L223.5 539.9 L225.5 539.8 L227.5 539.8 L229.5 539.7 L231.5 539.6 L233.5 539.5 L235.5 539.4 L237.5 539.3 L239.5 539.3 L241.5 539.2 L243.5 539.1 L245.5 539.0 L247.5 538.9 L249.5 538.8 L251.5 538.7 L253.5 538.6 L255.5 538.5 L257.5 538.4 L259.5 538.3 L261.5 538.2 L263.5 538.1 L265.5 538.0 L267.5 537.9 L269.5 537.8 L271.5 537.7 L273.5 537.6 L275.5 537.5 L277.5 537.4 L279.5 537.2 L281.5 537.1 L283.5 537.0 L285.5 536.9 L287.5 536.8 L289.5 536.6 L291.5 536.5 L293.5 536.4 L295.5 536.2 L297.5 536.1 L299.5 536.0 L301.5 535.8 L303.5 535.7 L305.5 535.5 L307.5 535.4 L309.5 535.2 L311.5 535.1 L313.5 534.9 L315.5 534.8 L317.5 534.6 L319.5 534.4 L321.5 534.3 L323.5 534.1 L325.5 533.9 L327.5 533.7 L329.5 533.5 L331.5 533.4 L333.5 533.2 L335.5 533.0 L337.5 532.8 L339.5 532.6 L341.5 532.3 L343.5 532.1 L345.5 531.9 L347.5 531.7 L349.5 531.5 L351.5 531.2 L353.5 531.0 L355.5 530.7 L357.5 530.5 L359.5 530.2 L361.5 530.0 L363.5 529.7 L365.5 529.4 L367.5 529.1 L369.5 528.9 L371.5 528.6 L373.5 528.3 L375.5 527.9 L377.5 527.6 L379.5 527.3 L381.5 527.0 L383.5 526.6 L385.5 526.2 L387.5 525.9 L389.5 525.5 L391.5 525.1 L393.5 524.7 L395.5 524.3 L397.5 523.9 L399.5 523.4 L401.5 523.0 L403.5 522.5 L405.5 522.0 L407.5 521.5 L409.5 521.0 L411.5 520.5 L413.5 520.0 L415.5 519.4 L417.5 518.8 L419.5 518.2 L421.5 517.6 L423.5 516.9 L425.5 516.3 L427.5 515.6 L429.5 514.9 L431.5 514.1 L433.5 513.4 L435.5 512.6 L437.5 511.7 L439.5 510.9 L441.5 510.0 L443.5 509.1 L445.5 508.1 L447.5 507.2 L449.5 506.1 L451.5 505.1 L453.5 504.0 L455.5 502.9 L457.5 501.7 L459.5 500.5 L461.5 499.2 L463.5 497.9 L465.5 496.5 L467.5 495.1 L469.5 493.7 L471.5 492.2 L473.5 490.6 L475.5 489.0 L477.5 487.4 L479.5 485.6 L481.5 483.9 L483.5 482.0 L485.5 480.2 L487.5 478.2 L489.5 476.2 L491.5 474.1 L493.5 472.0 L495.5 469.8 L497.5 467.6 L499.5 465.3 L501.5 463.0 L503.5 460.6 L505.5 458.1 L507.5 455.6 L509.5 453.1 L511.5 450.5 L513.5 447.9 L515.5 445.3 L517.5 442.6 L519.5 440.0 L521.5 437.3 L523.5 434.7 L525.5 432.0 L527.5 429.4 L529.5 426.9 L531.5 424.4 L533.5 421.9 L535.5 419.6 L537.5 417.3 L539.5 415.1 L541.5 413.1 L543.5 411.1 L545.5 409.3 L547.5 407.7 L549.5 406.2 L551.5 404.8 L553.5 403.6 L555.5 402.5 L557.5 401.6 L559.5 400.8 L561.5 400.2 L563.5 399.6 L565.5 399.2 L567.5 398.9 L569.5 398.7 L571.5 398.6 L573.5 398.5 L575.5 398.5 L577.5 398.5 L579.5 398.5 L581.5 398.6 L583.5 398.6 L585.5 398.6 L587.5 398.5 L589.5 398.4 L591.5 398.2 L593.5 398.0 L595.5 397.7 L597.5 397.3 L599.5 396.8 L601.5 396.3 L603.5 395.6 L605.5 394.9 L607.5 394.0 L609.5 393.1 L611.5 392.0 L613.5 390.9 L615.5 389.7 L617.5 388.4 L619.5 387.1 L621.5 385.6 L623.5 384.2 L625.5 382.6 L627.5 381.1 L629.5 379.5 L631.5 377.9 L633.5 376.2 L635.5 374.6 L637.5 373.0 L639.5 371.5 L641.5 369.9 L643.5 368.5 L645.5 367.1 L647.5 365.8 L649.5 364.5 L651.5 363.4 L653.5 362.3 L655.5 361.4 L657.5 360.6 L659.5 360.0 L661.5 359.4 L663.5 359.1 L665.5 358.8 L667.5 358.7 L669.5 358.7 L671.5 358.8 L673.5 359.1 L675.5 359.5 L677.5 360.0 L679.5 360.5 L681.5 361.2 L683.5 362.0 L685.5 362.8 L687.5 363.7 L689.5 364.6 L691.5 365.6 L693.5 366.5 L695.5 367.5 L697.5 368.5 L699.5 369.4 L701.5 370.3 L703.5 371.2 L705.5 372.0 L707.5 372.8 L709.5 373.4 L711.5 374.0 L713.5 374.6 L715.5 375.0 L717.5 375.3 L719.5 375.6 L721.5 375.7 L723.5 375.7 L725.5 375.7 L727.5 375.5 L729.5 375.3 L731.5 374.9 L733.5 374.5 L735.5 374.0 L737.5 373.4 L739.5 372.8 L741.5 372.1 L743.5 371.4 L745.5 370.7 L747.5 370.0 L749.5 369.3 L751.5 368.6 L753.5 368.0 L755.5 367.5 L757.5 367.1 L759.5 366.8 L761.5 366.6 L763.5 366.6 L765.5 366.8 L767.5 367.2 L769.5 367.8 L771.5 368.6 L773.5 369.6 L775.5 370.9 L777.5 372.4 L779.5 374.1 L781.5 376.1 L783.5 378.3 L785.5 380.7 L787.5 383.3 L789.5 386.1 L791.5 389.1 L793.5 392.2 L795.5 395.5 L797.5 398.9 L799.5 402.4 L801.5 406.0 L803.5 409.7 L805.5 413.4 L807.5 417.2 L809.5 421.0 L811.5 424.8 L813.5 428.5 L815.5 432.3 L817.5 436.1 L819.5 439.8 L821.5 443.5 L823.5 447.1 L825.5 450.7 L827.5 454.2 L829.5 457.6 L831.5 461.0 L833.5 464.3 L835.5 467.5 L837.5 470.6 L839.5 473.7 L841.5 476.7 L843.5 479.6 L845.5 482.4 L847.5 485.1 L849.5 487.8 L851.5 490.4 L853.5 492.9 L855.5 495.3 L857.5 497.7 L859.5 499.9 L861.5 502.1 L863.5 504.3 L865.5 506.3 L867.5 508.3 L869.5 510.2 L871.5 512.0 L873.5 513.8 L875.5 515.5 L877.5 517.2 L879.5 518.8 L881.5 520.3 L883.5 521.8 L885.5 523.2 L887.5 524.6 L889.5 525.9 L891.5 527.2 L893.5 528.4 L895.5 529.6 L897.5 530.7 L899.5 531.8 L901.5 532.8 L903.5 533.8 L905.5 534.8 L907.5 535.7 L909.5 536.6 L911.5 537.5 L913.5 538.3 L915.5 539.1 L917.5 539.9 L919.5 540.6 L921.5 541.3 L923.5 542.0 L925.5 542.7 L927.5 543.3 L929.5 543.9 L931.5 544.5 L933.5 545.1 L935.5 545.6 L937.5 546.2 L939.5 546.7 L941.5 547.2 L943.5 547.6 L945.5 548.1 L947.5 548.6 L949.5 549.0 L951.5 549.4 L953.5 549.8 L955.5 550.2 L957.5 550.6 L959.5 551.0 L961.5 551.3 L963.5 551.7 L965.5 552.0 L967.5 552.4 L969.5 552.7 L971.5 553.0 L973.5 553.3 L975.5 553.6 L977.5 553.9 L979.5 554.2 L981.5 554.4 L983.5 554.7 L985.5 555.0 L987.5 555.2 L989.5 555.5 L991.5 555.7 L993.0 555.9" stroke="#f0474b"/></g>
<path class="dots" d="M59.8 246.0 L61.0 238.8 L71.2 231.2 L80.0 239.5 L87.5 233.8 L92.5 250.0 L95.0 258.8 L100.0 242.5 L103.8 240.8 L107.5 245.0 L115.0 211.2 L127.5 238.8 L131.0 238.8 L137.5 230.0 L143.8 238.0 L157.5 217.5 L166.2 241.2 L175.0 236.2 L180.0 238.8 L187.5 213.8 L198.8 236.2 L202.5 236.2 L208.8 232.5 L216.2 246.2 L223.8 215.0 L231.2 247.5 L247.5 247.5 L252.5 232.5 L260.0 237.0 L267.5 237.5 L272.5 248.8 L288.8 198.8 L300.0 236.0 L304.0 248.0 L308.0 226.0 L316.0 218.0 L325.0 224.0 L332.0 217.0 L340.0 232.0 L353.0 201.0 L368.0 228.0 L382.0 200.0 L390.0 220.0 L397.0 210.0 L403.0 219.0 L411.0 196.0 L420.0 206.0 L425.0 222.0 L432.0 205.0 L440.0 226.0 L446.0 196.0 L453.0 193.0 L468.0 160.0 L476.0 165.0 L483.0 188.0 L490.0 117.0 L498.0 138.0 L505.0 142.0 L518.0 108.0 L532.0 105.0 L547.0 71.0 L556.0 87.0 L570.0 78.0 L582.0 63.0 L590.0 60.0 L598.0 70.0 L620.0 28.0 L628.0 68.0 L634.0 68.0 L642.0 44.0 L650.0 40.0 L655.0 51.0 L663.0 38.0 L670.0 62.0 L678.0 59.0 L686.0 66.0 L698.0 76.0 L706.0 59.0 L716.0 80.0 L727.7 97.6 L734.0 95.8 L742.0 80.5 L748.4 86.0 L753.8 112.0 L756.5 124.6 L770.0 131.0 L784.4 138.0 L791.6 140.0 L798.8 128.2 L813.2 132.7 L820.4 149.8 L825.8 171.4 L829.4 193.0 L835.7 191.2 L842.9 179.5 L849.2 202.0 L854.6 220.0 L860.0 238.0 L868.0 253.0 L873.0 256.7 L878.3 253.6 L882.2 266.8 L886.0 280.0 L890.0 271.5 L896.0 256.0 L900.8 247.4 L907.0 246.7 L913.2 242.8 L919.4 254.4 L924.0 263.7 L930.3 269.0 L936.5 257.5 L944.2 261.4 L950.4 259.8 L955.0 268.4 L958.2 278.4 L964.4 264.5 L972.0 270.0 L980.0 277.7 L986.0 270.0 L992.7 269.0"/>
<path class="dots" d="M60.0 528.8 L65.0 527.5 L68.8 538.8 L71.2 551.2 L80.0 563.8 L85.0 560.0 L90.0 547.5 L93.8 536.2 L98.8 541.2 L105.0 541.2 L108.8 536.2 L117.5 533.8 L122.5 526.2 L128.8 541.2 L137.5 536.2 L142.5 541.2 L151.2 516.2 L157.5 526.2 L163.8 541.2 L171.2 536.2 L175.0 532.5 L180.0 533.8 L183.8 541.2 L187.5 552.5 L195.0 555.0 L198.8 548.8 L205.0 541.2 L215.0 546.2 L223.8 532.5 L230.0 551.2 L235.0 527.5 L238.8 510.0 L242.5 523.8 L247.5 538.8 L252.5 526.2 L258.8 538.8 L267.5 532.5 L275.0 537.5 L281.2 525.0 L288.8 550.0 L295.0 520.0 L300.0 527.0 L303.0 534.0 L310.0 532.0 L317.0 551.0 L322.0 538.0 L325.0 528.0 L332.0 533.0 L339.0 522.0 L343.0 534.0 L349.0 540.0 L356.0 534.0 L360.0 532.0 L366.0 540.0 L374.0 548.0 L380.0 540.0 L384.0 524.0 L389.0 513.0 L393.0 528.0 L396.0 538.0 L402.0 540.0 L406.0 528.0 L410.0 516.0 L416.0 514.0 L425.0 497.0 L432.0 504.0 L440.0 522.0 L446.0 508.0 L453.0 494.0 L458.0 508.0 L462.0 520.0 L466.0 500.0 L476.0 492.0 L483.0 468.0 L490.0 482.0 L496.0 476.0 L502.0 464.0 L512.0 448.0 L518.0 438.0 L525.0 428.0 L533.0 428.0 L540.0 419.0 L548.0 394.0 L552.0 404.0 L558.0 415.0 L563.0 415.0 L572.0 393.0 L580.0 388.0 L586.0 394.0 L591.0 402.0 L594.0 384.0 L599.0 366.0 L605.0 384.0 L612.0 399.0 L620.0 377.0 L626.0 379.0 L633.0 385.0 L642.0 380.0 L648.0 377.0 L654.0 366.0 L662.0 355.0 L671.0 352.0 L673.0 362.0 L677.0 386.0 L682.0 374.0 L685.4 361.6 L693.5 348.1 L698.0 349.0 L707.0 374.2 L715.1 373.3 L723.2 374.2 L734.0 357.1 L741.2 367.0 L748.4 374.2 L755.6 387.7 L764.6 377.8 L773.6 376.9 L780.8 379.6 L789.8 390.4 L799.7 376.9 L806.0 384.1 L814.1 397.6 L822.2 431.8 L828.5 430.9 L836.6 451.6 L845.6 476.8 L851.0 498.4 L857.4 519.6 L863.6 527.4 L872.1 520.4 L876.0 536.7 L879.1 549.8 L885.3 542.1 L890.0 555.3 L893.0 566.1 L897.7 552.2 L902.4 544.4 L908.6 549.1 L911.7 559.1 L919.4 559.9 L929.5 547.5 L935.7 556.8 L944.2 561.5 L953.5 572.3 L959.7 577.0 L965.2 573.9 L972.1 576.2 L978.3 573.1 L984.5 570.8 L992.7 569.2"/>
</g>
<g clip-path="url(#cb)">
<g class="cv"><path d="M52.6 959.8 L54.6 959.8 L56.6 959.8 L58.6 959.8 L60.6 959.8 L62.6 959.8 L64.6 959.8 L66.6 959.9 L68.6 959.9 L70.6 959.9 L72.6 959.9 L74.6 959.9 L76.6 959.9 L78.6 959.9 L80.6 960.0 L82.6 960.0 L84.6 960.0 L86.6 960.0 L88.6 960.0 L90.6 960.0 L92.6 960.0 L94.6 960.1 L96.6 960.1 L98.6 960.1 L100.6 960.1 L102.6 960.1 L104.6 960.1 L106.6 960.1 L108.6 960.2 L110.6 960.2 L112.6 960.2 L114.6 960.2 L116.6 960.2 L118.6 960.2 L120.6 960.3 L122.6 960.3 L124.6 960.3 L126.6 960.3 L128.6 960.3 L130.6 960.3 L132.6 960.3 L134.6 960.4 L136.6 960.4 L138.6 960.4 L140.6 960.4 L142.6 960.4 L144.6 960.5 L146.6 960.5 L148.6 960.5 L150.6 960.5 L152.6 960.5 L154.6 960.5 L156.6 960.6 L158.6 960.6 L160.6 960.6 L162.6 960.6 L164.6 960.6 L166.6 960.7 L168.6 960.7 L170.6 960.7 L172.6 960.7 L174.6 960.7 L176.6 960.8 L178.6 960.8 L180.6 960.8 L182.6 960.8 L184.6 960.8 L186.6 960.9 L188.6 960.9 L190.6 960.9 L192.6 960.9 L194.6 961.0 L196.6 961.0 L198.6 961.0 L200.6 961.0 L202.6 961.0 L204.6 961.1 L206.6 961.1 L208.6 961.1 L210.6 961.1 L212.6 961.2 L214.6 961.2 L216.6 961.2 L218.6 961.2 L220.6 961.3 L222.6 961.3 L224.6 961.3 L226.6 961.4 L228.6 961.4 L230.6 961.4 L232.6 961.4 L234.6 961.5 L236.6 961.5 L238.6 961.5 L240.6 961.6 L242.6 961.6 L244.6 961.6 L246.6 961.7 L248.6 961.7 L250.6 961.7 L252.6 961.8 L254.6 961.8 L256.6 961.8 L258.6 961.9 L260.6 961.9 L262.6 961.9 L264.6 962.0 L266.6 962.0 L268.6 962.0 L270.6 962.1 L272.6 962.1 L274.6 962.2 L276.6 962.2 L278.6 962.2 L280.6 962.3 L282.6 962.3 L284.6 962.4 L286.6 962.4 L288.6 962.5 L290.6 962.5 L292.6 962.5 L294.6 962.6 L296.6 962.6 L298.6 962.7 L300.6 962.7 L302.6 962.8 L304.6 962.8 L306.6 962.9 L308.6 962.9 L310.6 963.0 L312.6 963.0 L314.6 963.1 L316.6 963.2 L318.6 963.2 L320.6 963.3 L322.6 963.3 L324.6 963.4 L326.6 963.4 L328.6 963.5 L330.6 963.6 L332.6 963.6 L334.6 963.7 L336.6 963.7 L338.6 963.8 L340.6 963.9 L342.6 963.9 L344.6 964.0 L346.6 964.1 L348.6 964.1 L350.6 964.2 L352.6 964.3 L354.6 964.4 L356.6 964.4 L358.6 964.5 L360.6 964.6 L362.6 964.6 L364.6 964.7 L366.6 964.8 L368.6 964.9 L370.6 965.0 L372.6 965.0 L374.6 965.1 L376.6 965.2 L378.6 965.3 L380.6 965.4 L382.6 965.4 L384.6 965.5 L386.6 965.6 L388.6 965.7 L390.6 965.8 L392.6 965.9 L394.6 966.0 L396.6 966.0 L398.6 966.1 L400.6 966.2 L402.6 966.3 L404.6 966.4 L406.6 966.5 L408.6 966.6 L410.6 966.7 L412.6 966.8 L414.6 966.9 L416.6 967.0 L418.6 967.1 L420.6 967.2 L422.6 967.3 L424.6 967.4 L426.6 967.5 L428.6 967.6 L430.6 967.7 L432.6 967.8 L434.6 967.9 L436.6 968.0 L438.6 968.1 L440.6 968.2 L442.6 968.3 L444.6 968.4 L446.6 968.5 L448.6 968.6 L450.6 968.8 L452.6 968.9 L454.6 969.0 L456.6 969.1 L458.6 969.2 L460.6 969.3 L462.6 969.4 L464.6 969.5 L466.6 969.7 L468.6 969.8 L470.6 969.9 L472.6 970.0 L474.6 970.1 L476.6 970.2 L478.6 970.3 L480.6 970.5 L482.6 970.6 L484.6 970.7 L486.6 970.8 L488.6 970.9 L490.6 971.0 L492.6 971.2 L494.6 971.3 L496.6 971.4 L498.6 971.5 L500.6 971.6 L502.6 971.7 L504.6 971.9 L506.6 972.0 L508.6 972.1 L510.6 972.2 L512.6 972.3 L514.6 972.4 L516.6 972.6 L518.6 972.7 L520.6 972.8 L522.6 972.9 L524.6 973.0 L526.6 973.1 L528.6 973.2 L530.6 973.4 L532.6 973.5 L534.6 973.6 L536.6 973.7 L538.6 973.8 L540.6 973.9 L542.6 974.0 L544.6 974.1 L546.6 974.2 L548.6 974.3 L550.6 974.4 L552.6 974.5 L554.6 974.6 L556.6 974.7 L558.6 974.8 L560.6 974.9 L562.6 975.0 L564.6 975.1 L566.6 975.2 L568.6 975.3 L570.6 975.4 L572.6 975.5 L574.6 975.6 L576.6 975.7 L578.6 975.8 L580.6 975.8 L582.6 975.9 L584.6 976.0 L586.6 976.1 L588.6 976.2 L590.6 976.3 L592.6 976.3 L594.6 976.4 L596.6 976.5 L598.6 976.6 L600.6 976.6 L602.6 976.7 L604.6 976.8 L606.6 976.9 L608.6 976.9 L610.6 977.0 L612.6 977.1 L614.6 977.1 L616.6 977.2 L618.6 977.3 L620.6 977.3 L622.6 977.4 L624.6 977.5 L626.6 977.5 L628.6 977.6 L630.6 977.6 L632.6 977.7 L634.6 977.7 L636.6 977.8 L638.6 977.9 L640.6 977.9 L642.6 978.0 L644.6 978.0 L646.6 978.1 L648.6 978.1 L650.6 978.2 L652.6 978.2 L654.6 978.3 L656.6 978.3 L658.6 978.4 L660.6 978.4 L662.6 978.5 L664.6 978.5 L666.6 978.6 L668.6 978.6 L670.6 978.6 L672.6 978.7 L674.6 978.7 L676.6 978.8 L678.6 978.8 L680.6 978.9 L682.6 978.9 L684.6 978.9 L686.6 979.0 L688.6 979.0 L690.6 979.0 L692.6 979.1 L694.6 979.1 L696.6 979.2 L698.6 979.2 L700.6 979.2 L702.6 979.3 L704.6 979.3 L706.6 979.3 L708.6 979.4 L710.6 979.4 L712.6 979.4 L714.6 979.5 L716.6 979.5 L718.6 979.5 L720.6 979.5 L722.6 979.6 L724.6 979.6 L726.6 979.6 L728.6 979.7 L730.6 979.7 L732.6 979.7 L734.6 979.7 L736.6 979.8 L738.6 979.8 L740.6 979.8 L742.6 979.9 L744.6 979.9 L746.6 979.9 L748.6 979.9 L750.6 980.0 L752.6 980.0 L754.6 980.0 L756.6 980.0 L758.6 980.0 L760.6 980.1 L762.6 980.1 L764.6 980.1 L766.6 980.1 L768.6 980.2 L770.6 980.2 L772.6 980.2 L774.6 980.2 L776.6 980.2 L778.6 980.3 L780.6 980.3 L782.6 980.3 L784.6 980.3 L786.6 980.3 L788.6 980.4 L790.6 980.4 L792.6 980.4 L794.6 980.4 L796.6 980.4 L798.6 980.5 L800.6 980.5 L802.6 980.5 L804.6 980.5 L806.6 980.5 L808.6 980.6 L810.6 980.6 L812.6 980.6 L814.6 980.6 L816.6 980.6 L818.6 980.6 L820.6 980.7 L822.6 980.7 L824.6 980.7 L826.6 980.7 L828.6 980.7 L830.6 980.7 L832.6 980.8 L834.6 980.8 L836.6 980.8 L838.6 980.8 L840.6 980.8 L842.6 980.8 L844.6 980.9 L846.6 980.9 L848.6 980.9 L850.6 980.9 L852.6 980.9 L854.6 980.9 L856.6 980.9 L858.6 981.0 L860.6 981.0 L862.6 981.0 L864.6 981.0 L866.6 981.0 L868.6 981.0 L870.6 981.0 L872.6 981.1 L874.6 981.1 L876.6 981.1 L878.6 981.1 L880.6 981.1 L882.6 981.1 L884.6 981.1 L886.6 981.1 L888.6 981.2 L890.6 981.2 L892.6 981.2 L894.6 981.2 L896.6 981.2 L898.6 981.2 L900.6 981.2 L902.6 981.3 L904.6 981.3 L906.6 981.3 L908.6 981.3 L910.6 981.3 L912.6 981.3 L914.6 981.3 L916.6 981.3 L918.6 981.3 L920.6 981.4 L922.6 981.4 L924.6 981.4 L926.6 981.4 L928.6 981.4 L930.6 981.4 L932.6 981.4 L934.6 981.4 L936.6 981.5 L938.6 981.5 L940.6 981.5 L942.6 981.5 L944.6 981.5 L946.6 981.5 L948.6 981.5 L950.6 981.5 L952.6 981.5 L954.6 981.6 L956.6 981.6 L958.6 981.6 L960.6 981.6 L962.6 981.6 L964.6 981.6 L966.6 981.6 L968.6 981.6 L970.6 981.6 L972.6 981.7 L974.6 981.7 L976.6 981.7 L978.6 981.7 L980.6 981.7 L982.6 981.7 L984.6 981.7 L986.6 981.7 L988.6 981.7 L990.6 981.7 L992.6 981.8 L994.2 981.8" stroke="#3478dc"/>
<path d="M52.6 954.8 L54.6 954.8 L56.6 954.7 L58.6 954.7 L60.6 954.7 L62.6 954.6 L64.6 954.6 L66.6 954.5 L68.6 954.5 L70.6 954.5 L72.6 954.4 L74.6 954.4 L76.6 954.3 L78.6 954.3 L80.6 954.2 L82.6 954.2 L84.6 954.1 L86.6 954.1 L88.6 954.0 L90.6 954.0 L92.6 953.9 L94.6 953.9 L96.6 953.8 L98.6 953.8 L100.6 953.7 L102.6 953.6 L104.6 953.6 L106.6 953.5 L108.6 953.5 L110.6 953.4 L112.6 953.3 L114.6 953.3 L116.6 953.2 L118.6 953.1 L120.6 953.0 L122.6 953.0 L124.6 952.9 L126.6 952.8 L128.6 952.7 L130.6 952.7 L132.6 952.6 L134.6 952.5 L136.6 952.4 L138.6 952.3 L140.6 952.2 L142.6 952.1 L144.6 952.0 L146.6 951.9 L148.6 951.8 L150.6 951.7 L152.6 951.6 L154.6 951.5 L156.6 951.4 L158.6 951.3 L160.6 951.2 L162.6 951.0 L164.6 950.9 L166.6 950.8 L168.6 950.7 L170.6 950.5 L172.6 950.4 L174.6 950.3 L176.6 950.1 L178.6 950.0 L180.6 949.8 L182.6 949.7 L184.6 949.5 L186.6 949.3 L188.6 949.2 L190.6 949.0 L192.6 948.8 L194.6 948.6 L196.6 948.5 L198.6 948.3 L200.6 948.1 L202.6 947.9 L204.6 947.7 L206.6 947.5 L208.6 947.2 L210.6 947.0 L212.6 946.8 L214.6 946.6 L216.6 946.3 L218.6 946.1 L220.6 945.9 L222.6 945.6 L224.6 945.3 L226.6 945.1 L228.6 944.8 L230.6 944.5 L232.6 944.3 L234.6 944.0 L236.6 943.7 L238.6 943.4 L240.6 943.1 L242.6 942.8 L244.6 942.4 L246.6 942.1 L248.6 941.8 L250.6 941.5 L252.6 941.1 L254.6 940.8 L256.6 940.4 L258.6 940.0 L260.6 939.7 L262.6 939.3 L264.6 938.9 L266.6 938.5 L268.6 938.1 L270.6 937.7 L272.6 937.3 L274.6 936.9 L276.6 936.5 L278.6 936.1 L280.6 935.7 L282.6 935.2 L284.6 934.8 L286.6 934.3 L288.6 933.9 L290.6 933.4 L292.6 933.0 L294.6 932.5 L296.6 932.1 L298.6 931.6 L300.6 931.1 L302.6 930.7 L304.6 930.2 L306.6 929.7 L308.6 929.2 L310.6 928.7 L312.6 928.3 L314.6 927.8 L316.6 927.3 L318.6 926.8 L320.6 926.3 L322.6 925.9 L324.6 925.4 L326.6 924.9 L328.6 924.4 L330.6 924.0 L332.6 923.5 L334.6 923.0 L336.6 922.6 L338.6 922.1 L340.6 921.7 L342.6 921.3 L344.6 920.8 L346.6 920.4 L348.6 920.0 L350.6 919.6 L352.6 919.2 L354.6 918.8 L356.6 918.5 L358.6 918.1 L360.6 917.8 L362.6 917.4 L364.6 917.1 L366.6 916.8 L368.6 916.6 L370.6 916.3 L372.6 916.0 L374.6 915.8 L376.6 915.6 L378.6 915.4 L380.6 915.2 L382.6 915.1 L384.6 915.0 L386.6 914.8 L388.6 914.8 L390.6 914.7 L392.6 914.6 L394.6 914.6 L396.6 914.6 L398.6 914.6 L400.6 914.7 L402.6 914.7 L404.6 914.8 L406.6 914.9 L408.6 915.1 L410.6 915.2 L412.6 915.4 L414.6 915.6 L416.6 915.8 L418.6 916.1 L420.6 916.3 L422.6 916.6 L424.6 916.9 L426.6 917.3 L428.6 917.6 L430.6 918.0 L432.6 918.4 L434.6 918.8 L436.6 919.2 L438.6 919.7 L440.6 920.1 L442.6 920.6 L444.6 921.1 L446.6 921.6 L448.6 922.1 L450.6 922.6 L452.6 923.2 L454.6 923.7 L456.6 924.3 L458.6 924.9 L460.6 925.5 L462.6 926.1 L464.6 926.7 L466.6 927.3 L468.6 927.9 L470.6 928.5 L472.6 929.1 L474.6 929.8 L476.6 930.4 L478.6 931.1 L480.6 931.7 L482.6 932.4 L484.6 933.0 L486.6 933.7 L488.6 934.3 L490.6 935.0 L492.6 935.6 L494.6 936.3 L496.6 936.9 L498.6 937.6 L500.6 938.2 L502.6 938.9 L504.6 939.5 L506.6 940.2 L508.6 940.8 L510.6 941.4 L512.6 942.1 L514.6 942.7 L516.6 943.3 L518.6 943.9 L520.6 944.5 L522.6 945.1 L524.6 945.7 L526.6 946.3 L528.6 946.9 L530.6 947.5 L532.6 948.0 L534.6 948.6 L536.6 949.2 L538.6 949.7 L540.6 950.3 L542.6 950.8 L544.6 951.3 L546.6 951.8 L548.6 952.3 L550.6 952.8 L552.6 953.3 L554.6 953.8 L556.6 954.3 L558.6 954.8 L560.6 955.2 L562.6 955.7 L564.6 956.1 L566.6 956.6 L568.6 957.0 L570.6 957.4 L572.6 957.9 L574.6 958.3 L576.6 958.7 L578.6 959.1 L580.6 959.4 L582.6 959.8 L584.6 960.2 L586.6 960.6 L588.6 960.9 L590.6 961.3 L592.6 961.6 L594.6 961.9 L596.6 962.3 L598.6 962.6 L600.6 962.9 L602.6 963.2 L604.6 963.5 L606.6 963.8 L608.6 964.1 L610.6 964.4 L612.6 964.7 L614.6 964.9 L616.6 965.2 L618.6 965.5 L620.6 965.7 L622.6 966.0 L624.6 966.2 L626.6 966.5 L628.6 966.7 L630.6 966.9 L632.6 967.1 L634.6 967.4 L636.6 967.6 L638.6 967.8 L640.6 968.0 L642.6 968.2 L644.6 968.4 L646.6 968.6 L648.6 968.8 L650.6 969.0 L652.6 969.1 L654.6 969.3 L656.6 969.5 L658.6 969.7 L660.6 969.8 L662.6 970.0 L664.6 970.2 L666.6 970.3 L668.6 970.5 L670.6 970.6 L672.6 970.8 L674.6 970.9 L676.6 971.1 L678.6 971.2 L680.6 971.3 L682.6 971.5 L684.6 971.6 L686.6 971.7 L688.6 971.9 L690.6 972.0 L692.6 972.1 L694.6 972.2 L696.6 972.3 L698.6 972.5 L700.6 972.6 L702.6 972.7 L704.6 972.8 L706.6 972.9 L708.6 973.0 L710.6 973.1 L712.6 973.2 L714.6 973.3 L716.6 973.4 L718.6 973.5 L720.6 973.6 L722.6 973.7 L724.6 973.8 L726.6 973.9 L728.6 974.0 L730.6 974.1 L732.6 974.2 L734.6 974.2 L736.6 974.3 L738.6 974.4 L740.6 974.5 L742.6 974.6 L744.6 974.7 L746.6 974.7 L748.6 974.8 L750.6 974.9 L752.6 975.0 L754.6 975.0 L756.6 975.1 L758.6 975.2 L760.6 975.3 L762.6 975.3 L764.6 975.4 L766.6 975.5 L768.6 975.5 L770.6 975.6 L772.6 975.7 L774.6 975.7 L776.6 975.8 L778.6 975.8 L780.6 975.9 L782.6 976.0 L784.6 976.0 L786.6 976.1 L788.6 976.2 L790.6 976.2 L792.6 976.3 L794.6 976.3 L796.6 976.4 L798.6 976.4 L800.6 976.5 L802.6 976.5 L804.6 976.6 L806.6 976.7 L808.6 976.7 L810.6 976.8 L812.6 976.8 L814.6 976.9 L816.6 976.9 L818.6 977.0 L820.6 977.0 L822.6 977.1 L824.6 977.1 L826.6 977.1 L828.6 977.2 L830.6 977.2 L832.6 977.3 L834.6 977.3 L836.6 977.4 L838.6 977.4 L840.6 977.5 L842.6 977.5 L844.6 977.5 L846.6 977.6 L848.6 977.6 L850.6 977.7 L852.6 977.7 L854.6 977.8 L856.6 977.8 L858.6 977.8 L860.6 977.9 L862.6 977.9 L864.6 978.0 L866.6 978.0 L868.6 978.0 L870.6 978.1 L872.6 978.1 L874.6 978.1 L876.6 978.2 L878.6 978.2 L880.6 978.2 L882.6 978.3 L884.6 978.3 L886.6 978.4 L888.6 978.4 L890.6 978.4 L892.6 978.5 L894.6 978.5 L896.6 978.5 L898.6 978.6 L900.6 978.6 L902.6 978.6 L904.6 978.7 L906.6 978.7 L908.6 978.7 L910.6 978.7 L912.6 978.8 L914.6 978.8 L916.6 978.8 L918.6 978.9 L920.6 978.9 L922.6 978.9 L924.6 979.0 L926.6 979.0 L928.6 979.0 L930.6 979.0 L932.6 979.1 L934.6 979.1 L936.6 979.1 L938.6 979.2 L940.6 979.2 L942.6 979.2 L944.6 979.2 L946.6 979.3 L948.6 979.3 L950.6 979.3 L952.6 979.3 L954.6 979.4 L956.6 979.4 L958.6 979.4 L960.6 979.4 L962.6 979.5 L964.6 979.5 L966.6 979.5 L968.6 979.5 L970.6 979.6 L972.6 979.6 L974.6 979.6 L976.6 979.6 L978.6 979.7 L980.6 979.7 L982.6 979.7 L984.6 979.7 L986.6 979.8 L988.6 979.8 L990.6 979.8 L992.6 979.8 L994.2 979.8" stroke="#b878e1"/>
<path d="M52.6 954.6 L54.6 954.6 L56.6 954.5 L58.6 954.5 L60.6 954.5 L62.6 954.4 L64.6 954.4 L66.6 954.4 L68.6 954.3 L70.6 954.3 L72.6 954.3 L74.6 954.2 L76.6 954.2 L78.6 954.2 L80.6 954.1 L82.6 954.1 L84.6 954.1 L86.6 954.0 L88.6 954.0 L90.6 953.9 L92.6 953.9 L94.6 953.9 L96.6 953.8 L98.6 953.8 L100.6 953.7 L102.6 953.7 L104.6 953.6 L106.6 953.6 L108.6 953.5 L110.6 953.5 L112.6 953.4 L114.6 953.4 L116.6 953.3 L118.6 953.3 L120.6 953.2 L122.6 953.2 L124.6 953.1 L126.6 953.1 L128.6 953.0 L130.6 953.0 L132.6 952.9 L134.6 952.8 L136.6 952.8 L138.6 952.7 L140.6 952.7 L142.6 952.6 L144.6 952.5 L146.6 952.5 L148.6 952.4 L150.6 952.3 L152.6 952.2 L154.6 952.2 L156.6 952.1 L158.6 952.0 L160.6 951.9 L162.6 951.9 L164.6 951.8 L166.6 951.7 L168.6 951.6 L170.6 951.5 L172.6 951.4 L174.6 951.4 L176.6 951.3 L178.6 951.2 L180.6 951.1 L182.6 951.0 L184.6 950.9 L186.6 950.8 L188.6 950.7 L190.6 950.6 L192.6 950.5 L194.6 950.3 L196.6 950.2 L198.6 950.1 L200.6 950.0 L202.6 949.9 L204.6 949.7 L206.6 949.6 L208.6 949.5 L210.6 949.4 L212.6 949.2 L214.6 949.1 L216.6 948.9 L218.6 948.8 L220.6 948.6 L222.6 948.5 L224.6 948.3 L226.6 948.2 L228.6 948.0 L230.6 947.8 L232.6 947.7 L234.6 947.5 L236.6 947.3 L238.6 947.1 L240.6 947.0 L242.6 946.8 L244.6 946.6 L246.6 946.4 L248.6 946.2 L250.6 946.0 L252.6 945.7 L254.6 945.5 L256.6 945.3 L258.6 945.1 L260.6 944.8 L262.6 944.6 L264.6 944.4 L266.6 944.1 L268.6 943.9 L270.6 943.6 L272.6 943.3 L274.6 943.1 L276.6 942.8 L278.6 942.5 L280.6 942.2 L282.6 941.9 L284.6 941.6 L286.6 941.3 L288.6 941.0 L290.6 940.6 L292.6 940.3 L294.6 940.0 L296.6 939.6 L298.6 939.3 L300.6 938.9 L302.6 938.5 L304.6 938.2 L306.6 937.8 L308.6 937.4 L310.6 937.0 L312.6 936.6 L314.6 936.2 L316.6 935.7 L318.6 935.3 L320.6 934.9 L322.6 934.4 L324.6 933.9 L326.6 933.5 L328.6 933.0 L330.6 932.5 L332.6 932.0 L334.6 931.5 L336.6 931.0 L338.6 930.4 L340.6 929.9 L342.6 929.3 L344.6 928.8 L346.6 928.2 L348.6 927.6 L350.6 927.0 L352.6 926.4 L354.6 925.8 L356.6 925.2 L358.6 924.5 L360.6 923.9 L362.6 923.2 L364.6 922.6 L366.6 921.9 L368.6 921.2 L370.6 920.5 L372.6 919.7 L374.6 919.0 L376.6 918.3 L378.6 917.5 L380.6 916.7 L382.6 915.9 L384.6 915.1 L386.6 914.3 L388.6 913.5 L390.6 912.7 L392.6 911.8 L394.6 911.0 L396.6 910.1 L398.6 909.2 L400.6 908.3 L402.6 907.4 L404.6 906.5 L406.6 905.5 L408.6 904.6 L410.6 903.6 L412.6 902.7 L414.6 901.7 L416.6 900.7 L418.6 899.7 L420.6 898.7 L422.6 897.6 L424.6 896.6 L426.6 895.6 L428.6 894.5 L430.6 893.5 L432.6 892.4 L434.6 891.4 L436.6 890.3 L438.6 889.2 L440.6 888.2 L442.6 887.1 L444.6 886.0 L446.6 884.9 L448.6 883.9 L450.6 882.8 L452.6 881.7 L454.6 880.7 L456.6 879.6 L458.6 878.6 L460.6 877.6 L462.6 876.6 L464.6 875.6 L466.6 874.6 L468.6 873.7 L470.6 872.7 L472.6 871.8 L474.6 871.0 L476.6 870.1 L478.6 869.3 L480.6 868.5 L482.6 867.8 L484.6 867.1 L486.6 866.4 L488.6 865.8 L490.6 865.2 L492.6 864.6 L494.6 864.1 L496.6 863.7 L498.6 863.3 L500.6 863.0 L502.6 862.7 L504.6 862.4 L506.6 862.3 L508.6 862.2 L510.6 862.1 L512.6 862.1 L514.6 862.2 L516.6 862.3 L518.6 862.5 L520.6 862.7 L522.6 863.0 L524.6 863.3 L526.6 863.8 L528.6 864.2 L530.6 864.7 L532.6 865.3 L534.6 865.9 L536.6 866.6 L538.6 867.3 L540.6 868.1 L542.6 868.9 L544.6 869.8 L546.6 870.7 L548.6 871.6 L550.6 872.6 L552.6 873.6 L554.6 874.6 L556.6 875.7 L558.6 876.8 L560.6 877.9 L562.6 879.1 L564.6 880.2 L566.6 881.4 L568.6 882.6 L570.6 883.8 L572.6 885.0 L574.6 886.3 L576.6 887.5 L578.6 888.8 L580.6 890.0 L582.6 891.3 L584.6 892.5 L586.6 893.8 L588.6 895.1 L590.6 896.3 L592.6 897.6 L594.6 898.8 L596.6 900.1 L598.6 901.3 L600.6 902.6 L602.6 903.8 L604.6 905.0 L606.6 906.2 L608.6 907.4 L610.6 908.6 L612.6 909.8 L614.6 910.9 L616.6 912.1 L618.6 913.2 L620.6 914.4 L622.6 915.5 L624.6 916.6 L626.6 917.7 L628.6 918.8 L630.6 919.8 L632.6 920.9 L634.6 921.9 L636.6 922.9 L638.6 923.9 L640.6 924.9 L642.6 925.9 L644.6 926.8 L646.6 927.8 L648.6 928.7 L650.6 929.6 L652.6 930.5 L654.6 931.4 L656.6 932.3 L658.6 933.2 L660.6 934.0 L662.6 934.9 L664.6 935.7 L666.6 936.5 L668.6 937.3 L670.6 938.1 L672.6 938.8 L674.6 939.6 L676.6 940.3 L678.6 941.0 L680.6 941.8 L682.6 942.5 L684.6 943.1 L686.6 943.8 L688.6 944.5 L690.6 945.1 L692.6 945.8 L694.6 946.4 L696.6 947.0 L698.6 947.6 L700.6 948.2 L702.6 948.8 L704.6 949.4 L706.6 949.9 L708.6 950.5 L710.6 951.0 L712.6 951.6 L714.6 952.1 L716.6 952.6 L718.6 953.1 L720.6 953.6 L722.6 954.1 L724.6 954.5 L726.6 955.0 L728.6 955.5 L730.6 955.9 L732.6 956.3 L734.6 956.8 L736.6 957.2 L738.6 957.6 L740.6 958.0 L742.6 958.4 L744.6 958.8 L746.6 959.2 L748.6 959.5 L750.6 959.9 L752.6 960.3 L754.6 960.6 L756.6 961.0 L758.6 961.3 L760.6 961.6 L762.6 961.9 L764.6 962.3 L766.6 962.6 L768.6 962.9 L770.6 963.2 L772.6 963.4 L774.6 963.7 L776.6 964.0 L778.6 964.3 L780.6 964.6 L782.6 964.8 L784.6 965.1 L786.6 965.3 L788.6 965.6 L790.6 965.8 L792.6 966.0 L794.6 966.3 L796.6 966.5 L798.6 966.7 L800.6 966.9 L802.6 967.2 L804.6 967.4 L806.6 967.6 L808.6 967.8 L810.6 968.0 L812.6 968.2 L814.6 968.3 L816.6 968.5 L818.6 968.7 L820.6 968.9 L822.6 969.1 L824.6 969.2 L826.6 969.4 L828.6 969.6 L830.6 969.7 L832.6 969.9 L834.6 970.0 L836.6 970.2 L838.6 970.3 L840.6 970.5 L842.6 970.6 L844.6 970.8 L846.6 970.9 L848.6 971.1 L850.6 971.2 L852.6 971.3 L854.6 971.4 L856.6 971.6 L858.6 971.7 L860.6 971.8 L862.6 971.9 L864.6 972.1 L866.6 972.2 L868.6 972.3 L870.6 972.4 L872.6 972.5 L874.6 972.6 L876.6 972.7 L878.6 972.8 L880.6 972.9 L882.6 973.0 L884.6 973.1 L886.6 973.2 L888.6 973.3 L890.6 973.4 L892.6 973.5 L894.6 973.6 L896.6 973.7 L898.6 973.8 L900.6 973.9 L902.6 974.0 L904.6 974.1 L906.6 974.1 L908.6 974.2 L910.6 974.3 L912.6 974.4 L914.6 974.5 L916.6 974.5 L918.6 974.6 L920.6 974.7 L922.6 974.8 L924.6 974.8 L926.6 974.9 L928.6 975.0 L930.6 975.1 L932.6 975.1 L934.6 975.2 L936.6 975.3 L938.6 975.3 L940.6 975.4 L942.6 975.5 L944.6 975.5 L946.6 975.6 L948.6 975.7 L950.6 975.7 L952.6 975.8 L954.6 975.8 L956.6 975.9 L958.6 976.0 L960.6 976.0 L962.6 976.1 L964.6 976.1 L966.6 976.2 L968.6 976.2 L970.6 976.3 L972.6 976.4 L974.6 976.4 L976.6 976.5 L978.6 976.5 L980.6 976.6 L982.6 976.6 L984.6 976.7 L986.6 976.7 L988.6 976.8 L990.6 976.8 L992.6 976.9 L994.2 976.9" stroke="#3caf6e"/>
<path d="M52.6 949.7 L54.6 949.6 L56.6 949.5 L58.6 949.4 L60.6 949.3 L62.6 949.2 L64.6 949.2 L66.6 949.1 L68.6 949.0 L70.6 948.9 L72.6 948.8 L74.6 948.7 L76.6 948.6 L78.6 948.5 L80.6 948.4 L82.6 948.3 L84.6 948.2 L86.6 948.1 L88.6 948.0 L90.6 947.9 L92.6 947.8 L94.6 947.7 L96.6 947.6 L98.6 947.5 L100.6 947.3 L102.6 947.2 L104.6 947.1 L106.6 947.0 L108.6 946.8 L110.6 946.7 L112.6 946.6 L114.6 946.5 L116.6 946.3 L118.6 946.2 L120.6 946.0 L122.6 945.9 L124.6 945.7 L126.6 945.6 L128.6 945.4 L130.6 945.3 L132.6 945.1 L134.6 945.0 L136.6 944.8 L138.6 944.6 L140.6 944.5 L142.6 944.3 L144.6 944.1 L146.6 943.9 L148.6 943.7 L150.6 943.5 L152.6 943.3 L154.6 943.1 L156.6 942.9 L158.6 942.7 L160.6 942.5 L162.6 942.3 L164.6 942.1 L166.6 941.8 L168.6 941.6 L170.6 941.4 L172.6 941.1 L174.6 940.9 L176.6 940.6 L178.6 940.4 L180.6 940.1 L182.6 939.8 L184.6 939.5 L186.6 939.2 L188.6 939.0 L190.6 938.7 L192.6 938.3 L194.6 938.0 L196.6 937.7 L198.6 937.4 L200.6 937.0 L202.6 936.7 L204.6 936.3 L206.6 936.0 L208.6 935.6 L210.6 935.2 L212.6 934.9 L214.6 934.5 L216.6 934.1 L218.6 933.6 L220.6 933.2 L222.6 932.8 L224.6 932.4 L226.6 931.9 L228.6 931.4 L230.6 931.0 L232.6 930.5 L234.6 930.0 L236.6 929.5 L238.6 929.0 L240.6 928.5 L242.6 927.9 L244.6 927.4 L246.6 926.8 L248.6 926.3 L250.6 925.7 L252.6 925.1 L254.6 924.5 L256.6 923.9 L258.6 923.3 L260.6 922.6 L262.6 922.0 L264.6 921.3 L266.6 920.6 L268.6 919.9 L270.6 919.2 L272.6 918.5 L274.6 917.8 L276.6 917.1 L278.6 916.3 L280.6 915.6 L282.6 914.8 L284.6 914.0 L286.6 913.2 L288.6 912.4 L290.6 911.6 L292.6 910.7 L294.6 909.9 L296.6 909.0 L298.6 908.2 L300.6 907.3 L302.6 906.4 L304.6 905.5 L306.6 904.6 L308.6 903.7 L310.6 902.7 L312.6 901.8 L314.6 900.8 L316.6 899.9 L318.6 898.9 L320.6 897.9 L322.6 896.9 L324.6 895.9 L326.6 894.9 L328.6 893.9 L330.6 892.9 L332.6 891.9 L334.6 890.8 L336.6 889.8 L338.6 888.8 L340.6 887.7 L342.6 886.7 L344.6 885.6 L346.6 884.5 L348.6 883.5 L350.6 882.4 L352.6 881.4 L354.6 880.3 L356.6 879.2 L358.6 878.2 L360.6 877.1 L362.6 876.0 L364.6 875.0 L366.6 873.9 L368.6 872.9 L370.6 871.8 L372.6 870.8 L374.6 869.7 L376.6 868.7 L378.6 867.6 L380.6 866.6 L382.6 865.6 L384.6 864.6 L386.6 863.6 L388.6 862.6 L390.6 861.6 L392.6 860.6 L394.6 859.6 L396.6 858.6 L398.6 857.7 L400.6 856.7 L402.6 855.8 L404.6 854.9 L406.6 854.0 L408.6 853.1 L410.6 852.2 L412.6 851.3 L414.6 850.4 L416.6 849.5 L418.6 848.7 L420.6 847.8 L422.6 847.0 L424.6 846.2 L426.6 845.4 L428.6 844.6 L430.6 843.8 L432.6 843.0 L434.6 842.3 L436.6 841.5 L438.6 840.8 L440.6 840.1 L442.6 839.3 L444.6 838.7 L446.6 838.0 L448.6 837.3 L450.6 836.7 L452.6 836.1 L454.6 835.4 L456.6 834.9 L458.6 834.3 L460.6 833.7 L462.6 833.2 L464.6 832.7 L466.6 832.2 L468.6 831.8 L470.6 831.4 L472.6 831.0 L474.6 830.6 L476.6 830.3 L478.6 830.0 L480.6 829.8 L482.6 829.6 L484.6 829.4 L486.6 829.2 L488.6 829.1 L490.6 829.1 L492.6 829.1 L494.6 829.1 L496.6 829.2 L498.6 829.4 L500.6 829.6 L502.6 829.8 L504.6 830.1 L506.6 830.5 L508.6 830.9 L510.6 831.3 L512.6 831.8 L514.6 832.4 L516.6 833.0 L518.6 833.7 L520.6 834.4 L522.6 835.2 L524.6 836.0 L526.6 836.9 L528.6 837.9 L530.6 838.9 L532.6 839.9 L534.6 841.0 L536.6 842.1 L538.6 843.3 L540.6 844.5 L542.6 845.7 L544.6 847.0 L546.6 848.3 L548.6 849.6 L550.6 851.0 L552.6 852.4 L554.6 853.8 L556.6 855.3 L558.6 856.7 L560.6 858.2 L562.6 859.7 L564.6 861.2 L566.6 862.8 L568.6 864.3 L570.6 865.9 L572.6 867.4 L574.6 869.0 L576.6 870.5 L578.6 872.1 L580.6 873.6 L582.6 875.2 L584.6 876.7 L586.6 878.3 L588.6 879.8 L590.6 881.3 L592.6 882.9 L594.6 884.4 L596.6 885.9 L598.6 887.4 L600.6 888.8 L602.6 890.3 L604.6 891.7 L606.6 893.2 L608.6 894.6 L610.6 896.0 L612.6 897.4 L614.6 898.8 L616.6 900.1 L618.6 901.5 L620.6 902.8 L622.6 904.1 L624.6 905.4 L626.6 906.6 L628.6 907.9 L630.6 909.1 L632.6 910.3 L634.6 911.5 L636.6 912.7 L638.6 913.8 L640.6 915.0 L642.6 916.1 L644.6 917.2 L646.6 918.3 L648.6 919.4 L650.6 920.4 L652.6 921.5 L654.6 922.5 L656.6 923.5 L658.6 924.5 L660.6 925.4 L662.6 926.4 L664.6 927.3 L666.6 928.2 L668.6 929.1 L670.6 930.0 L672.6 930.9 L674.6 931.8 L676.6 932.6 L678.6 933.4 L680.6 934.2 L682.6 935.0 L684.6 935.8 L686.6 936.6 L688.6 937.3 L690.6 938.1 L692.6 938.8 L694.6 939.5 L696.6 940.2 L698.6 940.9 L700.6 941.6 L702.6 942.2 L704.6 942.9 L706.6 943.5 L708.6 944.2 L710.6 944.8 L712.6 945.4 L714.6 946.0 L716.6 946.5 L718.6 947.1 L720.6 947.7 L722.6 948.2 L724.6 948.7 L726.6 949.3 L728.6 949.8 L730.6 950.3 L732.6 950.8 L734.6 951.3 L736.6 951.8 L738.6 952.2 L740.6 952.7 L742.6 953.1 L744.6 953.6 L746.6 954.0 L748.6 954.4 L750.6 954.8 L752.6 955.2 L754.6 955.6 L756.6 956.0 L758.6 956.4 L760.6 956.8 L762.6 957.2 L764.6 957.5 L766.6 957.9 L768.6 958.2 L770.6 958.6 L772.6 958.9 L774.6 959.2 L776.6 959.6 L778.6 959.9 L780.6 960.2 L782.6 960.5 L784.6 960.8 L786.6 961.1 L788.6 961.3 L790.6 961.6 L792.6 961.9 L794.6 962.2 L796.6 962.4 L798.6 962.7 L800.6 962.9 L802.6 963.2 L804.6 963.4 L806.6 963.7 L808.6 963.9 L810.6 964.1 L812.6 964.4 L814.6 964.6 L816.6 964.8 L818.6 965.0 L820.6 965.2 L822.6 965.4 L824.6 965.6 L826.6 965.8 L828.6 966.0 L830.6 966.2 L832.6 966.4 L834.6 966.6 L836.6 966.8 L838.6 967.0 L840.6 967.1 L842.6 967.3 L844.6 967.5 L846.6 967.6 L848.6 967.8 L850.6 968.0 L852.6 968.1 L854.6 968.3 L856.6 968.4 L858.6 968.6 L860.6 968.7 L862.6 968.9 L864.6 969.0 L866.6 969.2 L868.6 969.3 L870.6 969.4 L872.6 969.6 L874.6 969.7 L876.6 969.8 L878.6 969.9 L880.6 970.1 L882.6 970.2 L884.6 970.3 L886.6 970.4 L888.6 970.6 L890.6 970.7 L892.6 970.8 L894.6 970.9 L896.6 971.0 L898.6 971.1 L900.6 971.2 L902.6 971.3 L904.6 971.4 L906.6 971.5 L908.6 971.6 L910.6 971.7 L912.6 971.8 L914.6 971.9 L916.6 972.0 L918.6 972.1 L920.6 972.2 L922.6 972.3 L924.6 972.4 L926.6 972.5 L928.6 972.6 L930.6 972.7 L932.6 972.8 L934.6 972.9 L936.6 972.9 L938.6 973.0 L940.6 973.1 L942.6 973.2 L944.6 973.3 L946.6 973.3 L948.6 973.4 L950.6 973.5 L952.6 973.6 L954.6 973.7 L956.6 973.7 L958.6 973.8 L960.6 973.9 L962.6 974.0 L964.6 974.0 L966.6 974.1 L968.6 974.2 L970.6 974.2 L972.6 974.3 L974.6 974.4 L976.6 974.4 L978.6 974.5 L980.6 974.6 L982.6 974.6 L984.6 974.7 L986.6 974.8 L988.6 974.8 L990.6 974.9 L992.6 974.9 L994.2 975.0" stroke="#f0474b"/><path d="M52.6 1292.4 L54.6 1292.4 L56.6 1292.4 L58.6 1292.4 L60.6 1292.4 L62.6 1292.4 L64.6 1292.4 L66.6 1292.5 L68.6 1292.5 L70.6 1292.5 L72.6 1292.5 L74.6 1292.5 L76.6 1292.5 L78.6 1292.5 L80.6 1292.5 L82.6 1292.6 L84.6 1292.6 L86.6 1292.6 L88.6 1292.6 L90.6 1292.6 L92.6 1292.6 L94.6 1292.6 L96.6 1292.6 L98.6 1292.7 L100.6 1292.7 L102.6 1292.7 L104.6 1292.7 L106.6 1292.7 L108.6 1292.7 L110.6 1292.7 L112.6 1292.8 L114.6 1292.8 L116.6 1292.8 L118.6 1292.8 L120.6 1292.8 L122.6 1292.8 L124.6 1292.8 L126.6 1292.8 L128.6 1292.9 L130.6 1292.9 L132.6 1292.9 L134.6 1292.9 L136.6 1292.9 L138.6 1292.9 L140.6 1292.9 L142.6 1293.0 L144.6 1293.0 L146.6 1293.0 L148.6 1293.0 L150.6 1293.0 L152.6 1293.0 L154.6 1293.1 L156.6 1293.1 L158.6 1293.1 L160.6 1293.1 L162.6 1293.1 L164.6 1293.1 L166.6 1293.1 L168.6 1293.2 L170.6 1293.2 L172.6 1293.2 L174.6 1293.2 L176.6 1293.2 L178.6 1293.2 L180.6 1293.3 L182.6 1293.3 L184.6 1293.3 L186.6 1293.3 L188.6 1293.3 L190.6 1293.3 L192.6 1293.4 L194.6 1293.4 L196.6 1293.4 L198.6 1293.4 L200.6 1293.4 L202.6 1293.5 L204.6 1293.5 L206.6 1293.5 L208.6 1293.5 L210.6 1293.5 L212.6 1293.6 L214.6 1293.6 L216.6 1293.6 L218.6 1293.6 L220.6 1293.6 L222.6 1293.6 L224.6 1293.7 L226.6 1293.7 L228.6 1293.7 L230.6 1293.7 L232.6 1293.8 L234.6 1293.8 L236.6 1293.8 L238.6 1293.8 L240.6 1293.8 L242.6 1293.9 L244.6 1293.9 L246.6 1293.9 L248.6 1293.9 L250.6 1294.0 L252.6 1294.0 L254.6 1294.0 L256.6 1294.0 L258.6 1294.0 L260.6 1294.1 L262.6 1294.1 L264.6 1294.1 L266.6 1294.1 L268.6 1294.2 L270.6 1294.2 L272.6 1294.2 L274.6 1294.3 L276.6 1294.3 L278.6 1294.3 L280.6 1294.3 L282.6 1294.4 L284.6 1294.4 L286.6 1294.4 L288.6 1294.4 L290.6 1294.5 L292.6 1294.5 L294.6 1294.5 L296.6 1294.6 L298.6 1294.6 L300.6 1294.6 L302.6 1294.7 L304.6 1294.7 L306.6 1294.7 L308.6 1294.7 L310.6 1294.8 L312.6 1294.8 L314.6 1294.8 L316.6 1294.9 L318.6 1294.9 L320.6 1294.9 L322.6 1295.0 L324.6 1295.0 L326.6 1295.1 L328.6 1295.1 L330.6 1295.1 L332.6 1295.2 L334.6 1295.2 L336.6 1295.2 L338.6 1295.3 L340.6 1295.3 L342.6 1295.3 L344.6 1295.4 L346.6 1295.4 L348.6 1295.5 L350.6 1295.5 L352.6 1295.5 L354.6 1295.6 L356.6 1295.6 L358.6 1295.7 L360.6 1295.7 L362.6 1295.7 L364.6 1295.8 L366.6 1295.8 L368.6 1295.9 L370.6 1295.9 L372.6 1295.9 L374.6 1296.0 L376.6 1296.0 L378.6 1296.1 L380.6 1296.1 L382.6 1296.2 L384.6 1296.2 L386.6 1296.2 L388.6 1296.3 L390.6 1296.3 L392.6 1296.4 L394.6 1296.4 L396.6 1296.5 L398.6 1296.5 L400.6 1296.6 L402.6 1296.6 L404.6 1296.6 L406.6 1296.7 L408.6 1296.7 L410.6 1296.8 L412.6 1296.8 L414.6 1296.9 L416.6 1296.9 L418.6 1297.0 L420.6 1297.0 L422.6 1297.1 L424.6 1297.1 L426.6 1297.2 L428.6 1297.2 L430.6 1297.3 L432.6 1297.3 L434.6 1297.4 L436.6 1297.4 L438.6 1297.4 L440.6 1297.5 L442.6 1297.5 L444.6 1297.6 L446.6 1297.6 L448.6 1297.7 L450.6 1297.7 L452.6 1297.8 L454.6 1297.8 L456.6 1297.9 L458.6 1297.9 L460.6 1298.0 L462.6 1298.0 L464.6 1298.1 L466.6 1298.1 L468.6 1298.2 L470.6 1298.2 L472.6 1298.3 L474.6 1298.3 L476.6 1298.4 L478.6 1298.4 L480.6 1298.5 L482.6 1298.5 L484.6 1298.6 L486.6 1298.6 L488.6 1298.7 L490.6 1298.7 L492.6 1298.8 L494.6 1298.8 L496.6 1298.9 L498.6 1298.9 L500.6 1299.0 L502.6 1299.0 L504.6 1299.1 L506.6 1299.1 L508.6 1299.2 L510.6 1299.2 L512.6 1299.3 L514.6 1299.3 L516.6 1299.4 L518.6 1299.4 L520.6 1299.5 L522.6 1299.5 L524.6 1299.6 L526.6 1299.6 L528.6 1299.7 L530.6 1299.7 L532.6 1299.8 L534.6 1299.8 L536.6 1299.8 L538.6 1299.9 L540.6 1299.9 L542.6 1300.0 L544.6 1300.0 L546.6 1300.1 L548.6 1300.1 L550.6 1300.2 L552.6 1300.2 L554.6 1300.2 L556.6 1300.3 L558.6 1300.3 L560.6 1300.4 L562.6 1300.4 L564.6 1300.4 L566.6 1300.5 L568.6 1300.5 L570.6 1300.6 L572.6 1300.6 L574.6 1300.6 L576.6 1300.7 L578.6 1300.7 L580.6 1300.8 L582.6 1300.8 L584.6 1300.8 L586.6 1300.9 L588.6 1300.9 L590.6 1300.9 L592.6 1301.0 L594.6 1301.0 L596.6 1301.0 L598.6 1301.1 L600.6 1301.1 L602.6 1301.1 L604.6 1301.2 L606.6 1301.2 L608.6 1301.2 L610.6 1301.3 L612.6 1301.3 L614.6 1301.3 L616.6 1301.3 L618.6 1301.4 L620.6 1301.4 L622.6 1301.4 L624.6 1301.5 L626.6 1301.5 L628.6 1301.5 L630.6 1301.5 L632.6 1301.6 L634.6 1301.6 L636.6 1301.6 L638.6 1301.7 L640.6 1301.7 L642.6 1301.7 L644.6 1301.7 L646.6 1301.8 L648.6 1301.8 L650.6 1301.8 L652.6 1301.8 L654.6 1301.8 L656.6 1301.9 L658.6 1301.9 L660.6 1301.9 L662.6 1301.9 L664.6 1302.0 L666.6 1302.0 L668.6 1302.0 L670.6 1302.0 L672.6 1302.1 L674.6 1302.1 L676.6 1302.1 L678.6 1302.1 L680.6 1302.1 L682.6 1302.2 L684.6 1302.2 L686.6 1302.2 L688.6 1302.2 L690.6 1302.2 L692.6 1302.3 L694.6 1302.3 L696.6 1302.3 L698.6 1302.3 L700.6 1302.3 L702.6 1302.3 L704.6 1302.4 L706.6 1302.4 L708.6 1302.4 L710.6 1302.4 L712.6 1302.4 L714.6 1302.5 L716.6 1302.5 L718.6 1302.5 L720.6 1302.5 L722.6 1302.5 L724.6 1302.5 L726.6 1302.6 L728.6 1302.6 L730.6 1302.6 L732.6 1302.6 L734.6 1302.6 L736.6 1302.6 L738.6 1302.7 L740.6 1302.7 L742.6 1302.7 L744.6 1302.7 L746.6 1302.7 L748.6 1302.7 L750.6 1302.7 L752.6 1302.8 L754.6 1302.8 L756.6 1302.8 L758.6 1302.8 L760.6 1302.8 L762.6 1302.8 L764.6 1302.9 L766.6 1302.9 L768.6 1302.9 L770.6 1302.9 L772.6 1302.9 L774.6 1302.9 L776.6 1302.9 L778.6 1303.0 L780.6 1303.0 L782.6 1303.0 L784.6 1303.0 L786.6 1303.0 L788.6 1303.0 L790.6 1303.0 L792.6 1303.0 L794.6 1303.1 L796.6 1303.1 L798.6 1303.1 L800.6 1303.1 L802.6 1303.1 L804.6 1303.1 L806.6 1303.1 L808.6 1303.2 L810.6 1303.2 L812.6 1303.2 L814.6 1303.2 L816.6 1303.2 L818.6 1303.2 L820.6 1303.2 L822.6 1303.2 L824.6 1303.3 L826.6 1303.3 L828.6 1303.3 L830.6 1303.3 L832.6 1303.3 L834.6 1303.3 L836.6 1303.3 L838.6 1303.3 L840.6 1303.4 L842.6 1303.4 L844.6 1303.4 L846.6 1303.4 L848.6 1303.4 L850.6 1303.4 L852.6 1303.4 L854.6 1303.4 L856.6 1303.4 L858.6 1303.5 L860.6 1303.5 L862.6 1303.5 L864.6 1303.5 L866.6 1303.5 L868.6 1303.5 L870.6 1303.5 L872.6 1303.5 L874.6 1303.6 L876.6 1303.6 L878.6 1303.6 L880.6 1303.6 L882.6 1303.6 L884.6 1303.6 L886.6 1303.6 L888.6 1303.6 L890.6 1303.6 L892.6 1303.7 L894.6 1303.7 L896.6 1303.7 L898.6 1303.7 L900.6 1303.7 L902.6 1303.7 L904.6 1303.7 L906.6 1303.7 L908.6 1303.7 L910.6 1303.8 L912.6 1303.8 L914.6 1303.8 L916.6 1303.8 L918.6 1303.8 L920.6 1303.8 L922.6 1303.8 L924.6 1303.8 L926.6 1303.8 L928.6 1303.9 L930.6 1303.9 L932.6 1303.9 L934.6 1303.9 L936.6 1303.9 L938.6 1303.9 L940.6 1303.9 L942.6 1303.9 L944.6 1303.9 L946.6 1304.0 L948.6 1304.0 L950.6 1304.0 L952.6 1304.0 L954.6 1304.0 L956.6 1304.0 L958.6 1304.0 L960.6 1304.0 L962.6 1304.0 L964.6 1304.0 L966.6 1304.1 L968.6 1304.1 L970.6 1304.1 L972.6 1304.1 L974.6 1304.1 L976.6 1304.1 L978.6 1304.1 L980.6 1304.1 L982.6 1304.1 L984.6 1304.1 L986.6 1304.2 L988.6 1304.2 L990.6 1304.2 L992.6 1304.2 L994.2 1304.2" stroke="#3478dc"/>
<path d="M52.6 1283.8 L54.6 1283.7 L56.6 1283.6 L58.6 1283.5 L60.6 1283.4 L62.6 1283.3 L64.6 1283.2 L66.6 1283.1 L68.6 1283.0 L70.6 1282.9 L72.6 1282.8 L74.6 1282.7 L76.6 1282.5 L78.6 1282.4 L80.6 1282.3 L82.6 1282.2 L84.6 1282.0 L86.6 1281.9 L88.6 1281.8 L90.6 1281.6 L92.6 1281.5 L94.6 1281.4 L96.6 1281.2 L98.6 1281.1 L100.6 1280.9 L102.6 1280.8 L104.6 1280.6 L106.6 1280.4 L108.6 1280.3 L110.6 1280.1 L112.6 1279.9 L114.6 1279.8 L116.6 1279.6 L118.6 1279.4 L120.6 1279.2 L122.6 1279.0 L124.6 1278.8 L126.6 1278.6 L128.6 1278.4 L130.6 1278.2 L132.6 1278.0 L134.6 1277.8 L136.6 1277.5 L138.6 1277.3 L140.6 1277.1 L142.6 1276.8 L144.6 1276.6 L146.6 1276.3 L148.6 1276.1 L150.6 1275.8 L152.6 1275.5 L154.6 1275.3 L156.6 1275.0 L158.6 1274.7 L160.6 1274.4 L162.6 1274.1 L164.6 1273.8 L166.6 1273.5 L168.6 1273.2 L170.6 1272.8 L172.6 1272.5 L174.6 1272.2 L176.6 1271.8 L178.6 1271.5 L180.6 1271.1 L182.6 1270.7 L184.6 1270.4 L186.6 1270.0 L188.6 1269.6 L190.6 1269.2 L192.6 1268.8 L194.6 1268.4 L196.6 1268.0 L198.6 1267.5 L200.6 1267.1 L202.6 1266.6 L204.6 1266.2 L206.6 1265.7 L208.6 1265.3 L210.6 1264.8 L212.6 1264.3 L214.6 1263.8 L216.6 1263.3 L218.6 1262.8 L220.6 1262.3 L222.6 1261.7 L224.6 1261.2 L226.6 1260.6 L228.6 1260.1 L230.6 1259.5 L232.6 1258.9 L234.6 1258.4 L236.6 1257.8 L238.6 1257.2 L240.6 1256.6 L242.6 1255.9 L244.6 1255.3 L246.6 1254.7 L248.6 1254.0 L250.6 1253.4 L252.6 1252.7 L254.6 1252.0 L256.6 1251.4 L258.6 1250.7 L260.6 1250.0 L262.6 1249.3 L264.6 1248.5 L266.6 1247.8 L268.6 1247.1 L270.6 1246.4 L272.6 1245.6 L274.6 1244.9 L276.6 1244.1 L278.6 1243.3 L280.6 1242.6 L282.6 1241.8 L284.6 1241.0 L286.6 1240.2 L288.6 1239.5 L290.6 1238.7 L292.6 1237.9 L294.6 1237.1 L296.6 1236.3 L298.6 1235.5 L300.6 1234.7 L302.6 1233.9 L304.6 1233.1 L306.6 1232.3 L308.6 1231.5 L310.6 1230.7 L312.6 1229.9 L314.6 1229.1 L316.6 1228.4 L318.6 1227.6 L320.6 1226.9 L322.6 1226.1 L324.6 1225.4 L326.6 1224.7 L328.6 1224.0 L330.6 1223.3 L332.6 1222.6 L334.6 1221.9 L336.6 1221.3 L338.6 1220.7 L340.6 1220.1 L342.6 1219.5 L344.6 1219.0 L346.6 1218.4 L348.6 1217.9 L350.6 1217.5 L352.6 1217.0 L354.6 1216.6 L356.6 1216.2 L358.6 1215.9 L360.6 1215.6 L362.6 1215.3 L364.6 1215.0 L366.6 1214.8 L368.6 1214.6 L370.6 1214.5 L372.6 1214.4 L374.6 1214.3 L376.6 1214.3 L378.6 1214.3 L380.6 1214.4 L382.6 1214.4 L384.6 1214.6 L386.6 1214.7 L388.6 1214.9 L390.6 1215.2 L392.6 1215.4 L394.6 1215.7 L396.6 1216.1 L398.6 1216.5 L400.6 1216.9 L402.6 1217.3 L404.6 1217.8 L406.6 1218.3 L408.6 1218.8 L410.6 1219.4 L412.6 1220.0 L414.6 1220.6 L416.6 1221.3 L418.6 1221.9 L420.6 1222.6 L422.6 1223.3 L424.6 1224.0 L426.6 1224.8 L428.6 1225.6 L430.6 1226.3 L432.6 1227.1 L434.6 1227.9 L436.6 1228.8 L438.6 1229.6 L440.6 1230.4 L442.6 1231.3 L444.6 1232.1 L446.6 1233.0 L448.6 1233.8 L450.6 1234.7 L452.6 1235.6 L454.6 1236.5 L456.6 1237.3 L458.6 1238.2 L460.6 1239.1 L462.6 1240.0 L464.6 1240.9 L466.6 1241.7 L468.6 1242.6 L470.6 1243.5 L472.6 1244.3 L474.6 1245.2 L476.6 1246.0 L478.6 1246.9 L480.6 1247.7 L482.6 1248.6 L484.6 1249.4 L486.6 1250.2 L488.6 1251.1 L490.6 1251.9 L492.6 1252.7 L494.6 1253.5 L496.6 1254.2 L498.6 1255.0 L500.6 1255.8 L502.6 1256.6 L504.6 1257.3 L506.6 1258.0 L508.6 1258.8 L510.6 1259.5 L512.6 1260.2 L514.6 1260.9 L516.6 1261.6 L518.6 1262.3 L520.6 1263.0 L522.6 1263.7 L524.6 1264.3 L526.6 1265.0 L528.6 1265.6 L530.6 1266.2 L532.6 1266.9 L534.6 1267.5 L536.6 1268.1 L538.6 1268.7 L540.6 1269.3 L542.6 1269.8 L544.6 1270.4 L546.6 1271.0 L548.6 1271.5 L550.6 1272.0 L552.6 1272.6 L554.6 1273.1 L556.6 1273.6 L558.6 1274.1 L560.6 1274.6 L562.6 1275.1 L564.6 1275.6 L566.6 1276.0 L568.6 1276.5 L570.6 1276.9 L572.6 1277.4 L574.6 1277.8 L576.6 1278.2 L578.6 1278.7 L580.6 1279.1 L582.6 1279.5 L584.6 1279.9 L586.6 1280.3 L588.6 1280.6 L590.6 1281.0 L592.6 1281.4 L594.6 1281.7 L596.6 1282.1 L598.6 1282.4 L600.6 1282.8 L602.6 1283.1 L604.6 1283.4 L606.6 1283.8 L608.6 1284.1 L610.6 1284.4 L612.6 1284.7 L614.6 1285.0 L616.6 1285.3 L618.6 1285.6 L620.6 1285.8 L622.6 1286.1 L624.6 1286.4 L626.6 1286.6 L628.6 1286.9 L630.6 1287.2 L632.6 1287.4 L634.6 1287.6 L636.6 1287.9 L638.6 1288.1 L640.6 1288.3 L642.6 1288.6 L644.6 1288.8 L646.6 1289.0 L648.6 1289.2 L650.6 1289.4 L652.6 1289.6 L654.6 1289.8 L656.6 1290.0 L658.6 1290.2 L660.6 1290.4 L662.6 1290.6 L664.6 1290.7 L666.6 1290.9 L668.6 1291.1 L670.6 1291.3 L672.6 1291.4 L674.6 1291.6 L676.6 1291.7 L678.6 1291.9 L680.6 1292.1 L682.6 1292.2 L684.6 1292.4 L686.6 1292.5 L688.6 1292.6 L690.6 1292.8 L692.6 1292.9 L694.6 1293.1 L696.6 1293.2 L698.6 1293.3 L700.6 1293.4 L702.6 1293.6 L704.6 1293.7 L706.6 1293.8 L708.6 1293.9 L710.6 1294.0 L712.6 1294.2 L714.6 1294.3 L716.6 1294.4 L718.6 1294.5 L720.6 1294.6 L722.6 1294.7 L724.6 1294.8 L726.6 1294.9 L728.6 1295.0 L730.6 1295.1 L732.6 1295.2 L734.6 1295.3 L736.6 1295.4 L738.6 1295.5 L740.6 1295.6 L742.6 1295.7 L744.6 1295.8 L746.6 1295.8 L748.6 1295.9 L750.6 1296.0 L752.6 1296.1 L754.6 1296.2 L756.6 1296.3 L758.6 1296.3 L760.6 1296.4 L762.6 1296.5 L764.6 1296.6 L766.6 1296.7 L768.6 1296.7 L770.6 1296.8 L772.6 1296.9 L774.6 1296.9 L776.6 1297.0 L778.6 1297.1 L780.6 1297.2 L782.6 1297.2 L784.6 1297.3 L786.6 1297.4 L788.6 1297.4 L790.6 1297.5 L792.6 1297.5 L794.6 1297.6 L796.6 1297.7 L798.6 1297.7 L800.6 1297.8 L802.6 1297.9 L804.6 1297.9 L806.6 1298.0 L808.6 1298.0 L810.6 1298.1 L812.6 1298.1 L814.6 1298.2 L816.6 1298.3 L818.6 1298.3 L820.6 1298.4 L822.6 1298.4 L824.6 1298.5 L826.6 1298.5 L828.6 1298.6 L830.6 1298.6 L832.6 1298.7 L834.6 1298.7 L836.6 1298.8 L838.6 1298.8 L840.6 1298.9 L842.6 1298.9 L844.6 1299.0 L846.6 1299.0 L848.6 1299.1 L850.6 1299.1 L852.6 1299.2 L854.6 1299.2 L856.6 1299.3 L858.6 1299.3 L860.6 1299.3 L862.6 1299.4 L864.6 1299.4 L866.6 1299.5 L868.6 1299.5 L870.6 1299.6 L872.6 1299.6 L874.6 1299.6 L876.6 1299.7 L878.6 1299.7 L880.6 1299.8 L882.6 1299.8 L884.6 1299.8 L886.6 1299.9 L888.6 1299.9 L890.6 1300.0 L892.6 1300.0 L894.6 1300.0 L896.6 1300.1 L898.6 1300.1 L900.6 1300.1 L902.6 1300.2 L904.6 1300.2 L906.6 1300.3 L908.6 1300.3 L910.6 1300.3 L912.6 1300.4 L914.6 1300.4 L916.6 1300.4 L918.6 1300.5 L920.6 1300.5 L922.6 1300.5 L924.6 1300.6 L926.6 1300.6 L928.6 1300.6 L930.6 1300.7 L932.6 1300.7 L934.6 1300.7 L936.6 1300.8 L938.6 1300.8 L940.6 1300.8 L942.6 1300.9 L944.6 1300.9 L946.6 1300.9 L948.6 1301.0 L950.6 1301.0 L952.6 1301.0 L954.6 1301.0 L956.6 1301.1 L958.6 1301.1 L960.6 1301.1 L962.6 1301.2 L964.6 1301.2 L966.6 1301.2 L968.6 1301.3 L970.6 1301.3 L972.6 1301.3 L974.6 1301.3 L976.6 1301.4 L978.6 1301.4 L980.6 1301.4 L982.6 1301.4 L984.6 1301.5 L986.6 1301.5 L988.6 1301.5 L990.6 1301.6 L992.6 1301.6 L994.2 1301.6" stroke="#b878e1"/>
<path d="M52.6 1286.5 L54.6 1286.4 L56.6 1286.4 L58.6 1286.3 L60.6 1286.3 L62.6 1286.3 L64.6 1286.2 L66.6 1286.2 L68.6 1286.1 L70.6 1286.1 L72.6 1286.1 L74.6 1286.0 L76.6 1286.0 L78.6 1285.9 L80.6 1285.9 L82.6 1285.8 L84.6 1285.8 L86.6 1285.8 L88.6 1285.7 L90.6 1285.7 L92.6 1285.6 L94.6 1285.6 L96.6 1285.5 L98.6 1285.5 L100.6 1285.4 L102.6 1285.3 L104.6 1285.3 L106.6 1285.2 L108.6 1285.2 L110.6 1285.1 L112.6 1285.1 L114.6 1285.0 L116.6 1285.0 L118.6 1284.9 L120.6 1284.8 L122.6 1284.8 L124.6 1284.7 L126.6 1284.6 L128.6 1284.6 L130.6 1284.5 L132.6 1284.4 L134.6 1284.4 L136.6 1284.3 L138.6 1284.2 L140.6 1284.2 L142.6 1284.1 L144.6 1284.0 L146.6 1283.9 L148.6 1283.9 L150.6 1283.8 L152.6 1283.7 L154.6 1283.6 L156.6 1283.5 L158.6 1283.4 L160.6 1283.4 L162.6 1283.3 L164.6 1283.2 L166.6 1283.1 L168.6 1283.0 L170.6 1282.9 L172.6 1282.8 L174.6 1282.7 L176.6 1282.6 L178.6 1282.5 L180.6 1282.4 L182.6 1282.3 L184.6 1282.2 L186.6 1282.1 L188.6 1282.0 L190.6 1281.9 L192.6 1281.7 L194.6 1281.6 L196.6 1281.5 L198.6 1281.4 L200.6 1281.3 L202.6 1281.1 L204.6 1281.0 L206.6 1280.9 L208.6 1280.7 L210.6 1280.6 L212.6 1280.4 L214.6 1280.3 L216.6 1280.1 L218.6 1280.0 L220.6 1279.8 L222.6 1279.7 L224.6 1279.5 L226.6 1279.4 L228.6 1279.2 L230.6 1279.0 L232.6 1278.8 L234.6 1278.7 L236.6 1278.5 L238.6 1278.3 L240.6 1278.1 L242.6 1277.9 L244.6 1277.7 L246.6 1277.5 L248.6 1277.3 L250.6 1277.1 L252.6 1276.8 L254.6 1276.6 L256.6 1276.4 L258.6 1276.2 L260.6 1275.9 L262.6 1275.7 L264.6 1275.4 L266.6 1275.2 L268.6 1274.9 L270.6 1274.6 L272.6 1274.4 L274.6 1274.1 L276.6 1273.8 L278.6 1273.5 L280.6 1273.2 L282.6 1272.9 L284.6 1272.6 L286.6 1272.2 L288.6 1271.9 L290.6 1271.6 L292.6 1271.2 L294.6 1270.9 L296.6 1270.5 L298.6 1270.1 L300.6 1269.8 L302.6 1269.4 L304.6 1269.0 L306.6 1268.6 L308.6 1268.2 L310.6 1267.7 L312.6 1267.3 L314.6 1266.9 L316.6 1266.4 L318.6 1265.9 L320.6 1265.5 L322.6 1265.0 L324.6 1264.5 L326.6 1264.0 L328.6 1263.5 L330.6 1262.9 L332.6 1262.4 L334.6 1261.9 L336.6 1261.3 L338.6 1260.7 L340.6 1260.1 L342.6 1259.5 L344.6 1258.9 L346.6 1258.3 L348.6 1257.7 L350.6 1257.0 L352.6 1256.4 L354.6 1255.7 L356.6 1255.0 L358.6 1254.3 L360.6 1253.6 L362.6 1252.8 L364.6 1252.1 L366.6 1251.3 L368.6 1250.6 L370.6 1249.8 L372.6 1249.0 L374.6 1248.2 L376.6 1247.3 L378.6 1246.5 L380.6 1245.6 L382.6 1244.7 L384.6 1243.8 L386.6 1242.9 L388.6 1242.0 L390.6 1241.1 L392.6 1240.1 L394.6 1239.1 L396.6 1238.2 L398.6 1237.2 L400.6 1236.2 L402.6 1235.1 L404.6 1234.1 L406.6 1233.0 L408.6 1232.0 L410.6 1230.9 L412.6 1229.8 L414.6 1228.7 L416.6 1227.6 L418.6 1226.5 L420.6 1225.3 L422.6 1224.2 L424.6 1223.0 L426.6 1221.8 L428.6 1220.7 L430.6 1219.5 L432.6 1218.3 L434.6 1217.1 L436.6 1215.9 L438.6 1214.7 L440.6 1213.5 L442.6 1212.3 L444.6 1211.1 L446.6 1209.9 L448.6 1208.7 L450.6 1207.5 L452.6 1206.4 L454.6 1205.2 L456.6 1204.1 L458.6 1202.9 L460.6 1201.8 L462.6 1200.7 L464.6 1199.6 L466.6 1198.5 L468.6 1197.5 L470.6 1196.5 L472.6 1195.5 L474.6 1194.5 L476.6 1193.6 L478.6 1192.7 L480.6 1191.9 L482.6 1191.1 L484.6 1190.3 L486.6 1189.6 L488.6 1188.9 L490.6 1188.3 L492.6 1187.7 L494.6 1187.2 L496.6 1186.8 L498.6 1186.4 L500.6 1186.0 L502.6 1185.7 L504.6 1185.5 L506.6 1185.3 L508.6 1185.2 L510.6 1185.2 L512.6 1185.2 L514.6 1185.2 L516.6 1185.4 L518.6 1185.6 L520.6 1185.8 L522.6 1186.2 L524.6 1186.5 L526.6 1187.0 L528.6 1187.5 L530.6 1188.0 L532.6 1188.6 L534.6 1189.3 L536.6 1190.0 L538.6 1190.8 L540.6 1191.6 L542.6 1192.4 L544.6 1193.3 L546.6 1194.2 L548.6 1195.2 L550.6 1196.2 L552.6 1197.3 L554.6 1198.3 L556.6 1199.4 L558.6 1200.6 L560.6 1201.7 L562.6 1202.9 L564.6 1204.1 L566.6 1205.3 L568.6 1206.5 L570.6 1207.8 L572.6 1209.0 L574.6 1210.3 L576.6 1211.6 L578.6 1212.8 L580.6 1214.1 L582.6 1215.4 L584.6 1216.7 L586.6 1218.0 L588.6 1219.2 L590.6 1220.5 L592.6 1221.8 L594.6 1223.1 L596.6 1224.3 L598.6 1225.6 L600.6 1226.8 L602.6 1228.1 L604.6 1229.3 L606.6 1230.5 L608.6 1231.7 L610.6 1232.9 L612.6 1234.1 L614.6 1235.3 L616.6 1236.4 L618.6 1237.6 L620.6 1238.7 L622.6 1239.8 L624.6 1240.9 L626.6 1242.0 L628.6 1243.1 L630.6 1244.1 L632.6 1245.2 L634.6 1246.2 L636.6 1247.2 L638.6 1248.2 L640.6 1249.2 L642.6 1250.1 L644.6 1251.1 L646.6 1252.0 L648.6 1252.9 L650.6 1253.8 L652.6 1254.7 L654.6 1255.6 L656.6 1256.5 L658.6 1257.3 L660.6 1258.1 L662.6 1258.9 L664.6 1259.7 L666.6 1260.5 L668.6 1261.3 L670.6 1262.0 L672.6 1262.8 L674.6 1263.5 L676.6 1264.2 L678.6 1264.9 L680.6 1265.6 L682.6 1266.3 L684.6 1266.9 L686.6 1267.6 L688.6 1268.2 L690.6 1268.8 L692.6 1269.4 L694.6 1270.0 L696.6 1270.6 L698.6 1271.2 L700.6 1271.7 L702.6 1272.3 L704.6 1272.8 L706.6 1273.3 L708.6 1273.9 L710.6 1274.4 L712.6 1274.9 L714.6 1275.3 L716.6 1275.8 L718.6 1276.3 L720.6 1276.7 L722.6 1277.2 L724.6 1277.6 L726.6 1278.0 L728.6 1278.5 L730.6 1278.9 L732.6 1279.3 L734.6 1279.7 L736.6 1280.0 L738.6 1280.4 L740.6 1280.8 L742.6 1281.2 L744.6 1281.5 L746.6 1281.9 L748.6 1282.2 L750.6 1282.5 L752.6 1282.8 L754.6 1283.2 L756.6 1283.5 L758.6 1283.8 L760.6 1284.1 L762.6 1284.4 L764.6 1284.7 L766.6 1284.9 L768.6 1285.2 L770.6 1285.5 L772.6 1285.7 L774.6 1286.0 L776.6 1286.3 L778.6 1286.5 L780.6 1286.7 L782.6 1287.0 L784.6 1287.2 L786.6 1287.4 L788.6 1287.7 L790.6 1287.9 L792.6 1288.1 L794.6 1288.3 L796.6 1288.5 L798.6 1288.7 L800.6 1288.9 L802.6 1289.1 L804.6 1289.3 L806.6 1289.5 L808.6 1289.7 L810.6 1289.9 L812.6 1290.0 L814.6 1290.2 L816.6 1290.4 L818.6 1290.6 L820.6 1290.7 L822.6 1290.9 L824.6 1291.1 L826.6 1291.2 L828.6 1291.4 L830.6 1291.5 L832.6 1291.7 L834.6 1291.8 L836.6 1292.0 L838.6 1292.1 L840.6 1292.2 L842.6 1292.4 L844.6 1292.5 L846.6 1292.6 L848.6 1292.8 L850.6 1292.9 L852.6 1293.0 L854.6 1293.2 L856.6 1293.3 L858.6 1293.4 L860.6 1293.5 L862.6 1293.6 L864.6 1293.7 L866.6 1293.9 L868.6 1294.0 L870.6 1294.1 L872.6 1294.2 L874.6 1294.3 L876.6 1294.4 L878.6 1294.5 L880.6 1294.6 L882.6 1294.7 L884.6 1294.8 L886.6 1294.9 L888.6 1295.0 L890.6 1295.1 L892.6 1295.2 L894.6 1295.3 L896.6 1295.4 L898.6 1295.5 L900.6 1295.6 L902.6 1295.6 L904.6 1295.7 L906.6 1295.8 L908.6 1295.9 L910.6 1296.0 L912.6 1296.1 L914.6 1296.2 L916.6 1296.2 L918.6 1296.3 L920.6 1296.4 L922.6 1296.5 L924.6 1296.6 L926.6 1296.6 L928.6 1296.7 L930.6 1296.8 L932.6 1296.9 L934.6 1296.9 L936.6 1297.0 L938.6 1297.1 L940.6 1297.1 L942.6 1297.2 L944.6 1297.3 L946.6 1297.3 L948.6 1297.4 L950.6 1297.5 L952.6 1297.5 L954.6 1297.6 L956.6 1297.7 L958.6 1297.7 L960.6 1297.8 L962.6 1297.9 L964.6 1297.9 L966.6 1298.0 L968.6 1298.0 L970.6 1298.1 L972.6 1298.2 L974.6 1298.2 L976.6 1298.3 L978.6 1298.3 L980.6 1298.4 L982.6 1298.4 L984.6 1298.5 L986.6 1298.6 L988.6 1298.6 L990.6 1298.7 L992.6 1298.7 L994.2 1298.8" stroke="#3caf6e"/>
<path d="M52.6 1277.9 L54.6 1277.7 L56.6 1277.6 L58.6 1277.4 L60.6 1277.3 L62.6 1277.1 L64.6 1277.0 L66.6 1276.8 L68.6 1276.7 L70.6 1276.5 L72.6 1276.3 L74.6 1276.2 L76.6 1276.0 L78.6 1275.8 L80.6 1275.6 L82.6 1275.5 L84.6 1275.3 L86.6 1275.1 L88.6 1274.9 L90.6 1274.7 L92.6 1274.5 L94.6 1274.3 L96.6 1274.1 L98.6 1273.9 L100.6 1273.7 L102.6 1273.4 L104.6 1273.2 L106.6 1273.0 L108.6 1272.7 L110.6 1272.5 L112.6 1272.3 L114.6 1272.0 L116.6 1271.8 L118.6 1271.5 L120.6 1271.2 L122.6 1271.0 L124.6 1270.7 L126.6 1270.4 L128.6 1270.1 L130.6 1269.8 L132.6 1269.5 L134.6 1269.2 L136.6 1268.9 L138.6 1268.6 L140.6 1268.3 L142.6 1267.9 L144.6 1267.6 L146.6 1267.3 L148.6 1266.9 L150.6 1266.6 L152.6 1266.2 L154.6 1265.8 L156.6 1265.4 L158.6 1265.1 L160.6 1264.7 L162.6 1264.3 L164.6 1263.8 L166.6 1263.4 L168.6 1263.0 L170.6 1262.6 L172.6 1262.1 L174.6 1261.7 L176.6 1261.2 L178.6 1260.7 L180.6 1260.3 L182.6 1259.8 L184.6 1259.3 L186.6 1258.8 L188.6 1258.2 L190.6 1257.7 L192.6 1257.2 L194.6 1256.6 L196.6 1256.1 L198.6 1255.5 L200.6 1254.9 L202.6 1254.3 L204.6 1253.7 L206.6 1253.1 L208.6 1252.5 L210.6 1251.8 L212.6 1251.2 L214.6 1250.5 L216.6 1249.9 L218.6 1249.2 L220.6 1248.5 L222.6 1247.8 L224.6 1247.0 L226.6 1246.3 L228.6 1245.6 L230.6 1244.8 L232.6 1244.0 L234.6 1243.2 L236.6 1242.4 L238.6 1241.6 L240.6 1240.8 L242.6 1240.0 L244.6 1239.1 L246.6 1238.3 L248.6 1237.4 L250.6 1236.5 L252.6 1235.6 L254.6 1234.7 L256.6 1233.7 L258.6 1232.8 L260.6 1231.8 L262.6 1230.8 L264.6 1229.8 L266.6 1228.8 L268.6 1227.8 L270.6 1226.8 L272.6 1225.7 L274.6 1224.7 L276.6 1223.6 L278.6 1222.5 L280.6 1221.4 L282.6 1220.3 L284.6 1219.2 L286.6 1218.1 L288.6 1216.9 L290.6 1215.8 L292.6 1214.6 L294.6 1213.4 L296.6 1212.2 L298.6 1211.0 L300.6 1209.8 L302.6 1208.6 L304.6 1207.4 L306.6 1206.1 L308.6 1204.9 L310.6 1203.7 L312.6 1202.4 L314.6 1201.2 L316.6 1199.9 L318.6 1198.6 L320.6 1197.4 L322.6 1196.1 L324.6 1194.9 L326.6 1193.6 L328.6 1192.3 L330.6 1191.1 L332.6 1189.8 L334.6 1188.6 L336.6 1187.4 L338.6 1186.1 L340.6 1184.9 L342.6 1183.7 L344.6 1182.5 L346.6 1181.3 L348.6 1180.1 L350.6 1179.0 L352.6 1177.8 L354.6 1176.7 L356.6 1175.6 L358.6 1174.5 L360.6 1173.4 L362.6 1172.4 L364.6 1171.3 L366.6 1170.3 L368.6 1169.3 L370.6 1168.4 L372.6 1167.4 L374.6 1166.5 L376.6 1165.6 L378.6 1164.7 L380.6 1163.8 L382.6 1163.0 L384.6 1162.2 L386.6 1161.4 L388.6 1160.6 L390.6 1159.9 L392.6 1159.2 L394.6 1158.5 L396.6 1157.8 L398.6 1157.1 L400.6 1156.5 L402.6 1155.9 L404.6 1155.2 L406.6 1154.7 L408.6 1154.1 L410.6 1153.5 L412.6 1153.0 L414.6 1152.4 L416.6 1151.9 L418.6 1151.4 L420.6 1150.9 L422.6 1150.4 L424.6 1149.9 L426.6 1149.5 L428.6 1149.0 L430.6 1148.6 L432.6 1148.1 L434.6 1147.7 L436.6 1147.3 L438.6 1146.8 L440.6 1146.4 L442.6 1146.0 L444.6 1145.6 L446.6 1145.3 L448.6 1144.9 L450.6 1144.5 L452.6 1144.2 L454.6 1143.8 L456.6 1143.5 L458.6 1143.2 L460.6 1142.9 L462.6 1142.6 L464.6 1142.4 L466.6 1142.1 L468.6 1141.9 L470.6 1141.7 L472.6 1141.5 L474.6 1141.4 L476.6 1141.3 L478.6 1141.2 L480.6 1141.2 L482.6 1141.1 L484.6 1141.2 L486.6 1141.2 L488.6 1141.3 L490.6 1141.4 L492.6 1141.6 L494.6 1141.9 L496.6 1142.1 L498.6 1142.5 L500.6 1142.8 L502.6 1143.2 L504.6 1143.7 L506.6 1144.2 L508.6 1144.8 L510.6 1145.4 L512.6 1146.1 L514.6 1146.9 L516.6 1147.6 L518.6 1148.5 L520.6 1149.4 L522.6 1150.3 L524.6 1151.3 L526.6 1152.3 L528.6 1153.4 L530.6 1154.6 L532.6 1155.8 L534.6 1157.0 L536.6 1158.2 L538.6 1159.6 L540.6 1160.9 L542.6 1162.3 L544.6 1163.7 L546.6 1165.1 L548.6 1166.6 L550.6 1168.1 L552.6 1169.6 L554.6 1171.2 L556.6 1172.8 L558.6 1174.4 L560.6 1176.0 L562.6 1177.6 L564.6 1179.2 L566.6 1180.8 L568.6 1182.5 L570.6 1184.1 L572.6 1185.8 L574.6 1187.5 L576.6 1189.1 L578.6 1190.8 L580.6 1192.4 L582.6 1194.1 L584.6 1195.7 L586.6 1197.4 L588.6 1199.0 L590.6 1200.6 L592.6 1202.2 L594.6 1203.8 L596.6 1205.4 L598.6 1207.0 L600.6 1208.5 L602.6 1210.1 L604.6 1211.6 L606.6 1213.1 L608.6 1214.6 L610.6 1216.0 L612.6 1217.5 L614.6 1218.9 L616.6 1220.4 L618.6 1221.8 L620.6 1223.1 L622.6 1224.5 L624.6 1225.8 L626.6 1227.2 L628.6 1228.5 L630.6 1229.7 L632.6 1231.0 L634.6 1232.2 L636.6 1233.5 L638.6 1234.7 L640.6 1235.8 L642.6 1237.0 L644.6 1238.1 L646.6 1239.3 L648.6 1240.4 L650.6 1241.5 L652.6 1242.5 L654.6 1243.6 L656.6 1244.6 L658.6 1245.6 L660.6 1246.6 L662.6 1247.6 L664.6 1248.5 L666.6 1249.4 L668.6 1250.4 L670.6 1251.3 L672.6 1252.1 L674.6 1253.0 L676.6 1253.9 L678.6 1254.7 L680.6 1255.5 L682.6 1256.3 L684.6 1257.1 L686.6 1257.9 L688.6 1258.6 L690.6 1259.4 L692.6 1260.1 L694.6 1260.8 L696.6 1261.5 L698.6 1262.2 L700.6 1262.8 L702.6 1263.5 L704.6 1264.1 L706.6 1264.8 L708.6 1265.4 L710.6 1266.0 L712.6 1266.6 L714.6 1267.2 L716.6 1267.7 L718.6 1268.3 L720.6 1268.8 L722.6 1269.4 L724.6 1269.9 L726.6 1270.4 L728.6 1270.9 L730.6 1271.4 L732.6 1271.9 L734.6 1272.3 L736.6 1272.8 L738.6 1273.3 L740.6 1273.7 L742.6 1274.1 L744.6 1274.6 L746.6 1275.0 L748.6 1275.4 L750.6 1275.8 L752.6 1276.2 L754.6 1276.6 L756.6 1276.9 L758.6 1277.3 L760.6 1277.7 L762.6 1278.0 L764.6 1278.4 L766.6 1278.7 L768.6 1279.1 L770.6 1279.4 L772.6 1279.7 L774.6 1280.0 L776.6 1280.3 L778.6 1280.6 L780.6 1280.9 L782.6 1281.2 L784.6 1281.5 L786.6 1281.8 L788.6 1282.1 L790.6 1282.3 L792.6 1282.6 L794.6 1282.9 L796.6 1283.1 L798.6 1283.4 L800.6 1283.6 L802.6 1283.9 L804.6 1284.1 L806.6 1284.3 L808.6 1284.6 L810.6 1284.8 L812.6 1285.0 L814.6 1285.2 L816.6 1285.4 L818.6 1285.7 L820.6 1285.9 L822.6 1286.1 L824.6 1286.3 L826.6 1286.5 L828.6 1286.7 L830.6 1286.9 L832.6 1287.0 L834.6 1287.2 L836.6 1287.4 L838.6 1287.6 L840.6 1287.8 L842.6 1287.9 L844.6 1288.1 L846.6 1288.3 L848.6 1288.4 L850.6 1288.6 L852.6 1288.8 L854.6 1288.9 L856.6 1289.1 L858.6 1289.2 L860.6 1289.4 L862.6 1289.5 L864.6 1289.7 L866.6 1289.8 L868.6 1290.0 L870.6 1290.1 L872.6 1290.2 L874.6 1290.4 L876.6 1290.5 L878.6 1290.7 L880.6 1290.8 L882.6 1290.9 L884.6 1291.0 L886.6 1291.2 L888.6 1291.3 L890.6 1291.4 L892.6 1291.5 L894.6 1291.7 L896.6 1291.8 L898.6 1291.9 L900.6 1292.0 L902.6 1292.1 L904.6 1292.2 L906.6 1292.3 L908.6 1292.5 L910.6 1292.6 L912.6 1292.7 L914.6 1292.8 L916.6 1292.9 L918.6 1293.0 L920.6 1293.1 L922.6 1293.2 L924.6 1293.3 L926.6 1293.4 L928.6 1293.5 L930.6 1293.6 L932.6 1293.7 L934.6 1293.8 L936.6 1293.9 L938.6 1294.0 L940.6 1294.0 L942.6 1294.1 L944.6 1294.2 L946.6 1294.3 L948.6 1294.4 L950.6 1294.5 L952.6 1294.6 L954.6 1294.7 L956.6 1294.7 L958.6 1294.8 L960.6 1294.9 L962.6 1295.0 L964.6 1295.1 L966.6 1295.2 L968.6 1295.2 L970.6 1295.3 L972.6 1295.4 L974.6 1295.5 L976.6 1295.5 L978.6 1295.6 L980.6 1295.7 L982.6 1295.8 L984.6 1295.8 L986.6 1295.9 L988.6 1296.0 L990.6 1296.0 L992.6 1296.1 L994.2 1296.2" stroke="#f0474b"/></g>
<path class="dots" d="M52.9 974.0 L58.0 982.0 L63.0 988.0 L68.0 978.0 L75.0 964.0 L82.0 949.0 L90.0 953.0 L94.0 958.0 L98.0 940.0 L102.0 928.0 L108.0 936.0 L110.0 943.0 L114.0 958.0 L118.0 958.0 L122.0 946.0 L127.0 920.0 L132.0 928.0 L136.0 956.0 L139.0 980.0 L142.0 950.0 L146.0 908.0 L148.0 920.0 L150.0 962.0 L152.0 984.0 L156.0 985.0 L162.0 972.0 L166.0 954.0 L170.0 920.0 L176.0 907.0 L182.0 926.0 L188.0 952.0 L192.0 930.0 L196.0 910.0 L199.0 960.0 L202.0 993.0 L205.0 960.0 L208.0 916.0 L216.0 908.0 L227.0 880.0 L230.0 900.0 L234.0 936.0 L239.0 905.0 L245.0 920.0 L246.0 924.0 L252.0 924.0 L258.0 927.0 L265.0 895.0 L269.0 920.0 L272.0 940.0 L277.0 920.0 L283.0 934.0 L290.0 922.0 L293.0 934.0 L297.0 961.0 L300.0 944.0 L304.0 929.0 L312.0 936.0 L316.0 926.0 L319.0 896.0 L322.0 863.0 L328.0 913.0 L332.0 892.0 L343.0 850.0 L349.0 858.0 L360.0 886.0 L366.0 867.0 L372.0 874.0 L379.0 912.0 L388.0 856.0 L392.0 805.0 L398.0 830.0 L404.0 870.0 L410.0 852.0 L421.0 852.0 L429.0 838.0 L436.0 846.0 L441.0 859.0 L447.0 838.0 L453.0 855.0 L460.0 810.0 L466.0 862.0 L472.0 825.0 L478.0 827.0 L486.0 846.0 L498.0 809.0 L510.0 852.0 L522.0 824.0 L530.0 850.0 L534.0 832.0 L542.0 794.0 L550.0 844.0 L554.0 868.0 L561.0 833.0 L570.0 854.0 L580.0 882.0 L588.0 888.0 L593.0 913.0 L599.0 891.0 L605.0 911.0 L611.0 903.0 L622.0 916.0 L628.0 958.0 L630.0 958.0 L636.0 928.0 L643.0 952.0 L655.0 919.0 L662.0 934.0 L675.0 935.0 L680.0 920.0 L686.0 926.0 L693.0 909.0 L700.0 947.0 L706.0 937.0 L716.0 937.0 L724.0 881.0 L729.0 900.0 L733.0 946.0 L737.0 997.0 L742.0 982.0 L750.0 946.0 L756.0 971.0 L764.0 954.0 L769.0 948.0 L776.0 959.0 L788.0 930.0 L794.0 952.0 L800.0 920.0 L804.0 962.0 L807.0 1005.0 L813.0 959.0 L819.5 946.5 L825.2 955.0 L831.9 909.4 L837.6 945.5 L844.2 916.0 L849.0 964.5 L850.9 998.7 L855.6 960.7 L863.2 900.9 L868.9 936.0 L875.6 926.5 L884.1 948.4 L891.7 950.3 L899.3 954.0 L913.6 969.3 L920.2 988.3 L925.9 975.9 L937.3 981.6 L944.9 966.4 L951.6 1009.2 L956.3 977.8 L977.2 972.1 L983.9 944.6 L989.6 946.5 L993.9 985.4"/>
<path class="dots" d="M52.9 1270.0 L58.0 1260.0 L63.0 1278.0 L68.0 1282.0 L76.0 1290.0 L82.0 1261.0 L92.0 1272.0 L97.0 1278.0 L107.0 1254.0 L116.0 1270.0 L126.0 1274.0 L139.0 1239.0 L146.0 1256.0 L152.0 1256.0 L158.0 1272.0 L165.0 1228.0 L170.0 1244.0 L176.0 1225.0 L182.0 1239.0 L190.0 1221.0 L198.0 1250.0 L202.0 1266.0 L210.0 1257.0 L216.0 1240.0 L227.0 1228.0 L234.0 1241.0 L240.0 1230.0 L247.0 1220.0 L264.0 1233.0 L272.0 1204.0 L282.0 1216.0 L292.0 1195.0 L300.0 1198.0 L308.0 1202.0 L316.0 1179.0 L322.0 1204.0 L328.0 1172.0 L334.0 1195.0 L342.0 1188.0 L348.0 1199.0 L360.0 1174.0 L366.0 1149.0 L372.0 1207.0 L378.0 1171.0 L386.0 1168.0 L394.0 1160.0 L402.0 1157.0 L410.0 1145.0 L423.0 1185.0 L430.0 1154.0 L441.0 1173.0 L450.0 1163.0 L460.0 1149.0 L472.0 1148.0 L479.0 1132.0 L486.0 1121.0 L492.0 1169.0 L499.0 1123.0 L505.0 1125.0 L517.0 1087.0 L524.0 1110.0 L532.0 1148.0 L536.0 1156.0 L542.0 1125.0 L548.0 1160.0 L552.0 1168.0 L561.0 1151.0 L570.0 1168.0 L574.0 1180.0 L587.0 1162.0 L595.0 1200.0 L599.0 1243.0 L605.0 1210.0 L613.0 1230.0 L620.0 1244.0 L624.0 1270.0 L627.0 1244.0 L631.0 1210.0 L635.0 1238.0 L642.0 1260.0 L650.0 1248.0 L655.0 1272.0 L668.0 1287.0 L680.0 1275.0 L689.0 1275.0 L694.0 1263.0 L706.0 1274.0 L713.0 1292.0 L728.0 1274.0 L738.0 1304.0 L746.0 1284.0 L752.0 1290.0 L758.0 1283.0 L764.0 1298.0 L772.0 1284.0 L782.0 1300.0 L789.0 1282.0 L795.0 1256.0 L802.0 1280.0 L812.0 1283.0 L817.6 1308.3 L820.5 1320.7 L825.2 1302.6 L829.0 1296.9 L837.6 1277.9 L843.3 1286.5 L853.7 1281.7 L860.4 1284.6 L863.2 1293.1 L872.7 1295.0 L882.2 1302.6 L887.9 1314.0 L893.6 1308.3 L912.6 1289.3 L918.3 1302.6 L925.9 1322.6 L929.7 1300.7 L932.6 1261.8 L938.3 1287.4 L943.0 1300.7 L948.7 1308.3 L958.2 1309.2 L963.9 1283.6 L973.4 1293.1 L982.9 1277.0 L987.7 1289.3 L993.9 1314.0"/>
</g>
<rect class="ax" x="58.30" y="6.20" width="935.90" height="611.80"/>
<path class="ax" d="M58.30 310.30 H994.20"/>
<rect class="ax" x="51.40" y="751.20" width="944.00" height="613.10"/>
<path class="ax" d="M51.40 1059.00 H995.40"/>
<path class="tk" d="M994.20 618.00 V623.20 M922.21 618.00 V629.20 M850.22 618.00 V623.20 M778.22 618.00 V629.20 M706.23 618.00 V623.20 M634.24 618.00 V629.20 M562.25 618.00 V623.20 M490.25 618.00 V629.20 M418.26 618.00 V623.20 M346.27 618.00 V629.20 M274.28 618.00 V623.20 M202.28 618.00 V629.20 M130.29 618.00 V623.20 M58.30 618.00 V629.20"/>
<path class="tk" d="M995.40 1364.30 V1369.50 M932.47 1364.30 V1375.50 M869.53 1364.30 V1369.50 M806.60 1364.30 V1375.50 M743.67 1364.30 V1369.50 M680.73 1364.30 V1375.50 M617.80 1364.30 V1369.50 M554.87 1364.30 V1375.50 M491.93 1364.30 V1369.50 M429.00 1364.30 V1375.50 M366.07 1364.30 V1369.50 M303.13 1364.30 V1375.50 M240.20 1364.30 V1369.50 M177.27 1364.30 V1375.50 M114.33 1364.30 V1369.50 M51.40 1364.30 V1375.50"/>
<text class="tl" x="922.21" y="670.50">528</text>
<text class="tl" x="778.22" y="670.50">530</text>
<text class="tl" x="634.24" y="670.50">532</text>
<text class="tl" x="490.25" y="670.50">534</text>
<text class="tl" x="346.27" y="670.50">536</text>
<text class="tl" x="202.28" y="670.50">538</text>
<text class="tl" x="58.30" y="670.50">540</text>
<text class="tl" x="932.47" y="1417.50">456</text>
<text class="tl" x="806.60" y="1417.50">458</text>
<text class="tl" x="680.73" y="1417.50">460</text>
<text class="tl" x="554.87" y="1417.50">462</text>
<text class="tl" x="429.00" y="1417.50">464</text>
<text class="tl" x="303.13" y="1417.50">466</text>
<text class="tl" x="177.27" y="1417.50">468</text>
<text class="tl" x="51.40" y="1417.50">470</text>
<path d="M551.5 443.6 L525.0 391.6" stroke="#f58232" stroke-width="2.6" fill="none"/><path d="M517.3 376.4 L530.8 390.8 L521.0 395.8 Z" fill="#f58232" stroke="none"/>
<path d="M665.0 419.0 L640.9 368.8" stroke="#9b3dfa" stroke-width="2.6" fill="none"/><path d="M633.5 353.5 L646.7 368.2 L636.8 373.0 Z" fill="#9b3dfa" stroke="none"/>
<path d="M779.0 412.0 L806.4 379.9" stroke="#17871c" stroke-width="2.6" fill="none"/><path d="M817.5 367.0 L809.3 385.0 L801.0 377.9 Z" fill="#17871c" stroke="none"/>
<path d="M327.5 1224.0 L260.9 1196.0" stroke="#9a06d6" stroke-width="2.6" fill="none"/><path d="M245.2 1189.4 L264.8 1191.7 L260.6 1201.8 Z" fill="#9a06d6" stroke="none"/>
<path d="M617.4 1233.0 L662.6 1186.7" stroke="#22dd22" stroke-width="2.6" fill="none"/><path d="M674.5 1174.5 L665.2 1191.9 L657.3 1184.3 Z" fill="#22dd22" stroke="none"/>

<text class="pl" x="62.4" y="45.3">(a)</text>
<text class="t" x="902.7" y="50">O 1s</text>
<text class="t" x="137" y="134">RuO<tspan font-size="26" dy="10.5">2</tspan><tspan dy="-10.5">/CNT</tspan></text>
<text class="t" x="139.8" y="421">RuO<tspan font-size="26" dy="10.5">2</tspan><tspan dy="-10.5">/OLC</tspan></text>
<text class="t" x="471.2" y="371.6">C-O</text>
<text class="t" x="583.3" y="356">C=O</text>
<text class="t" x="817.8" y="371.6">Ru-O</text>
<text class="ti" x="337.6" y="712" font-size="42.7">Binding energy (eV)</text>
<text class="tiy" transform="translate(35.7,441) rotate(-90)">Intensity (a.u.)</text>
<text class="pl" x="56.7" y="793">(b)</text>
<text class="t" x="881.3" y="803.2">Ru 3p</text>
<text class="t" x="115.5" y="848.4">RuO<tspan font-size="26" dy="10.5">2</tspan><tspan dy="-10.5">/CNT</tspan></text>
<text class="t" x="110" y="1125.1">RuO<tspan font-size="26" dy="10.5">2</tspan><tspan dy="-10.5">/OLC</tspan></text>
<text class="t" x="159.7" y="1185.1">Ru (III)</text>
<text class="t" x="654.5" y="1162.5">Ru (IV)</text>
<text class="ti" x="329.2" y="1460.5" font-size="43.25">Binding energy (eV)</text>
<text class="tiy" transform="translate(35.7,1203.5) rotate(-90)">Intensity (a.u.)</text>

</svg>
</div></body></html>
